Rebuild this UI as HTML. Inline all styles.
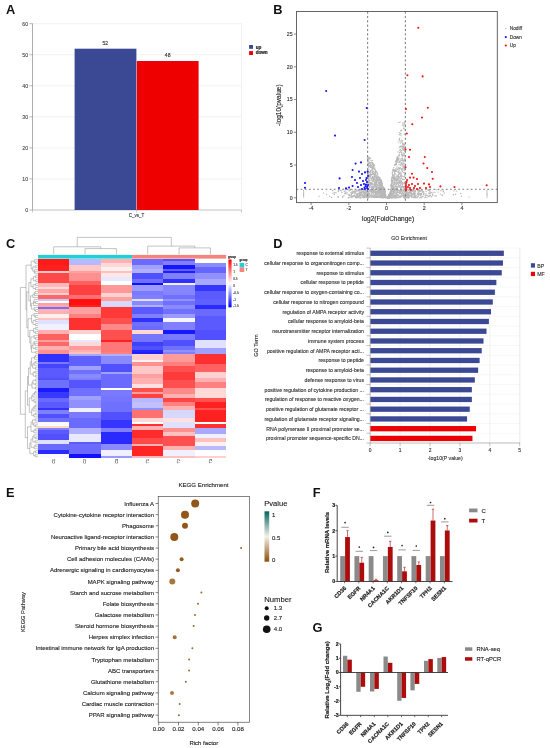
<!DOCTYPE html>
<html><head><meta charset="utf-8"><style>
html,body{margin:0;padding:0;background:#fff;width:550px;height:748px;overflow:hidden}
svg{display:block;font-family:"Liberation Sans", sans-serif;filter:blur(0.25px)}
</style></head><body>
<svg width="550" height="748" viewBox="0 0 550 748">
<rect x="0" y="0" width="550" height="748" fill="#fff"/>
<text x="6.00" y="13.80" font-size="12.8" text-anchor="start" font-weight="bold" fill="#111" stroke="#111" stroke-width="0" >A</text>
<line x1="29.30" y1="210.00" x2="32.50" y2="210.00" stroke="#999" stroke-width="0.7" />
<text x="28.10" y="211.90" font-size="5.2" text-anchor="end" font-weight="normal" fill="#4a4a4a" stroke="#4a4a4a" stroke-width="0.12" >0</text>
<line x1="32.50" y1="178.95" x2="241.50" y2="178.95" stroke="#e8e8e8" stroke-width="0.6" />
<line x1="29.30" y1="178.95" x2="32.50" y2="178.95" stroke="#999" stroke-width="0.7" />
<text x="28.10" y="180.85" font-size="5.2" text-anchor="end" font-weight="normal" fill="#4a4a4a" stroke="#4a4a4a" stroke-width="0.12" >10</text>
<line x1="32.50" y1="147.90" x2="241.50" y2="147.90" stroke="#e8e8e8" stroke-width="0.6" />
<line x1="29.30" y1="147.90" x2="32.50" y2="147.90" stroke="#999" stroke-width="0.7" />
<text x="28.10" y="149.80" font-size="5.2" text-anchor="end" font-weight="normal" fill="#4a4a4a" stroke="#4a4a4a" stroke-width="0.12" >20</text>
<line x1="32.50" y1="116.85" x2="241.50" y2="116.85" stroke="#e8e8e8" stroke-width="0.6" />
<line x1="29.30" y1="116.85" x2="32.50" y2="116.85" stroke="#999" stroke-width="0.7" />
<text x="28.10" y="118.75" font-size="5.2" text-anchor="end" font-weight="normal" fill="#4a4a4a" stroke="#4a4a4a" stroke-width="0.12" >30</text>
<line x1="32.50" y1="85.80" x2="241.50" y2="85.80" stroke="#e8e8e8" stroke-width="0.6" />
<line x1="29.30" y1="85.80" x2="32.50" y2="85.80" stroke="#999" stroke-width="0.7" />
<text x="28.10" y="87.70" font-size="5.2" text-anchor="end" font-weight="normal" fill="#4a4a4a" stroke="#4a4a4a" stroke-width="0.12" >40</text>
<line x1="32.50" y1="54.75" x2="241.50" y2="54.75" stroke="#e8e8e8" stroke-width="0.6" />
<line x1="29.30" y1="54.75" x2="32.50" y2="54.75" stroke="#999" stroke-width="0.7" />
<text x="28.10" y="56.65" font-size="5.2" text-anchor="end" font-weight="normal" fill="#4a4a4a" stroke="#4a4a4a" stroke-width="0.12" >50</text>
<line x1="32.50" y1="23.70" x2="241.50" y2="23.70" stroke="#e8e8e8" stroke-width="0.6" />
<line x1="29.30" y1="23.70" x2="32.50" y2="23.70" stroke="#999" stroke-width="0.7" />
<text x="28.10" y="25.60" font-size="5.2" text-anchor="end" font-weight="normal" fill="#4a4a4a" stroke="#4a4a4a" stroke-width="0.12" >60</text>
<line x1="241.50" y1="23.50" x2="241.50" y2="210.00" stroke="#e8e8e8" stroke-width="0.6" />
<line x1="32.50" y1="23.50" x2="32.50" y2="210.00" stroke="#999" stroke-width="0.8" />
<line x1="32.50" y1="210.00" x2="241.50" y2="210.00" stroke="#aaa" stroke-width="0.7" />
<line x1="32.50" y1="210.00" x2="32.50" y2="212.50" stroke="#aaa" stroke-width="0.6" />
<line x1="136.60" y1="210.00" x2="136.60" y2="212.50" stroke="#aaa" stroke-width="0.6" />
<line x1="241.50" y1="210.00" x2="241.50" y2="212.50" stroke="#aaa" stroke-width="0.6" />
<rect x="74.60" y="48.70" width="61.80" height="161.30" fill="#3b4994" />
<rect x="136.80" y="61.00" width="61.80" height="149.00" fill="#ee0000" />
<text x="105.30" y="45.00" font-size="5.1" text-anchor="middle" font-weight="normal" fill="#333" stroke="#333" stroke-width="0.12" >52</text>
<text x="167.70" y="57.00" font-size="5.1" text-anchor="middle" font-weight="normal" fill="#333" stroke="#333" stroke-width="0.12" >48</text>
<rect x="249.10" y="45.00" width="3.90" height="3.80" fill="#3b4994" />
<text x="255.70" y="48.80" font-size="4.6" text-anchor="start" font-weight="bold" fill="#222" stroke="#222" stroke-width="0.2" >up</text>
<rect x="249.10" y="51.10" width="3.90" height="3.90" fill="#ee0000" />
<text x="255.70" y="54.40" font-size="4.6" text-anchor="start" font-weight="bold" fill="#222" stroke="#222" stroke-width="0.2" >down</text>
<text x="136.50" y="217.40" font-size="4.5" text-anchor="middle" font-weight="normal" fill="#333" stroke="#333" stroke-width="0.12" >C_vs_T</text>
<text x="273.20" y="13.80" font-size="12.8" text-anchor="start" font-weight="bold" fill="#111" stroke="#111" stroke-width="0" >B</text>
<g fill="#b8b8b8">
<circle cx="377.7" cy="184.7" r="0.68"/>
<circle cx="369.0" cy="180.2" r="0.68"/>
<circle cx="376.6" cy="182.9" r="0.68"/>
<circle cx="382.6" cy="191.0" r="0.68"/>
<circle cx="374.4" cy="172.8" r="0.68"/>
<circle cx="384.2" cy="195.3" r="0.68"/>
<circle cx="384.3" cy="190.6" r="0.68"/>
<circle cx="373.3" cy="196.7" r="0.68"/>
<circle cx="368.0" cy="158.1" r="0.68"/>
<circle cx="374.0" cy="178.2" r="0.68"/>
<circle cx="383.1" cy="197.7" r="0.68"/>
<circle cx="376.3" cy="196.6" r="0.68"/>
<circle cx="382.5" cy="194.8" r="0.68"/>
<circle cx="385.4" cy="195.3" r="0.68"/>
<circle cx="377.9" cy="177.6" r="0.68"/>
<circle cx="376.4" cy="181.2" r="0.68"/>
<circle cx="376.8" cy="181.0" r="0.68"/>
<circle cx="377.6" cy="191.7" r="0.68"/>
<circle cx="367.7" cy="156.7" r="0.68"/>
<circle cx="370.6" cy="170.7" r="0.68"/>
<circle cx="380.2" cy="193.9" r="0.68"/>
<circle cx="380.6" cy="196.8" r="0.68"/>
<circle cx="371.9" cy="183.7" r="0.68"/>
<circle cx="370.5" cy="183.8" r="0.68"/>
<circle cx="368.4" cy="163.5" r="0.68"/>
<circle cx="385.9" cy="197.8" r="0.68"/>
<circle cx="369.3" cy="180.1" r="0.68"/>
<circle cx="368.0" cy="182.8" r="0.68"/>
<circle cx="384.6" cy="192.9" r="0.68"/>
<circle cx="371.7" cy="188.6" r="0.68"/>
<circle cx="384.3" cy="195.1" r="0.68"/>
<circle cx="368.3" cy="167.4" r="0.68"/>
<circle cx="383.8" cy="195.5" r="0.68"/>
<circle cx="384.1" cy="197.4" r="0.68"/>
<circle cx="371.4" cy="192.0" r="0.68"/>
<circle cx="375.7" cy="185.9" r="0.68"/>
<circle cx="382.4" cy="187.5" r="0.68"/>
<circle cx="383.5" cy="190.8" r="0.68"/>
<circle cx="383.8" cy="193.7" r="0.68"/>
<circle cx="382.0" cy="194.1" r="0.68"/>
<circle cx="368.2" cy="165.4" r="0.68"/>
<circle cx="380.4" cy="180.8" r="0.68"/>
<circle cx="382.1" cy="192.2" r="0.68"/>
<circle cx="370.3" cy="173.4" r="0.68"/>
<circle cx="384.1" cy="188.3" r="0.68"/>
<circle cx="382.0" cy="194.2" r="0.68"/>
<circle cx="371.8" cy="186.4" r="0.68"/>
<circle cx="380.5" cy="196.7" r="0.68"/>
<circle cx="384.3" cy="192.8" r="0.68"/>
<circle cx="381.5" cy="187.9" r="0.68"/>
<circle cx="379.1" cy="188.6" r="0.68"/>
<circle cx="368.4" cy="179.3" r="0.68"/>
<circle cx="375.4" cy="172.6" r="0.68"/>
<circle cx="382.6" cy="196.0" r="0.68"/>
<circle cx="369.3" cy="165.3" r="0.68"/>
<circle cx="381.4" cy="195.0" r="0.68"/>
<circle cx="372.4" cy="162.7" r="0.68"/>
<circle cx="382.3" cy="183.8" r="0.68"/>
<circle cx="369.8" cy="174.8" r="0.68"/>
<circle cx="378.2" cy="195.8" r="0.68"/>
<circle cx="385.2" cy="191.7" r="0.68"/>
<circle cx="381.6" cy="186.2" r="0.68"/>
<circle cx="381.2" cy="183.5" r="0.68"/>
<circle cx="375.0" cy="189.9" r="0.68"/>
<circle cx="382.7" cy="188.3" r="0.68"/>
<circle cx="384.7" cy="196.2" r="0.68"/>
<circle cx="375.7" cy="173.6" r="0.68"/>
<circle cx="374.7" cy="190.0" r="0.68"/>
<circle cx="369.2" cy="190.7" r="0.68"/>
<circle cx="385.6" cy="197.1" r="0.68"/>
<circle cx="377.8" cy="196.7" r="0.68"/>
<circle cx="382.7" cy="193.2" r="0.68"/>
<circle cx="375.5" cy="194.6" r="0.68"/>
<circle cx="379.3" cy="178.8" r="0.68"/>
<circle cx="368.0" cy="171.8" r="0.68"/>
<circle cx="373.3" cy="178.3" r="0.68"/>
<circle cx="383.4" cy="197.5" r="0.68"/>
<circle cx="385.6" cy="194.7" r="0.68"/>
<circle cx="373.1" cy="163.6" r="0.68"/>
<circle cx="385.5" cy="195.3" r="0.68"/>
<circle cx="377.1" cy="179.5" r="0.68"/>
<circle cx="380.1" cy="177.8" r="0.68"/>
<circle cx="384.6" cy="193.5" r="0.68"/>
<circle cx="372.5" cy="164.5" r="0.68"/>
<circle cx="372.5" cy="172.4" r="0.68"/>
<circle cx="371.4" cy="162.4" r="0.68"/>
<circle cx="379.5" cy="183.8" r="0.68"/>
<circle cx="369.5" cy="163.1" r="0.68"/>
<circle cx="378.3" cy="179.6" r="0.68"/>
<circle cx="370.1" cy="176.2" r="0.68"/>
<circle cx="374.5" cy="186.7" r="0.68"/>
<circle cx="375.3" cy="180.5" r="0.68"/>
<circle cx="384.5" cy="192.6" r="0.68"/>
<circle cx="367.8" cy="162.0" r="0.68"/>
<circle cx="372.6" cy="184.7" r="0.68"/>
<circle cx="372.5" cy="177.3" r="0.68"/>
<circle cx="377.9" cy="177.7" r="0.68"/>
<circle cx="384.4" cy="191.4" r="0.68"/>
<circle cx="385.4" cy="194.6" r="0.68"/>
<circle cx="377.1" cy="192.7" r="0.68"/>
<circle cx="373.2" cy="181.3" r="0.68"/>
<circle cx="374.7" cy="169.1" r="0.68"/>
<circle cx="381.3" cy="197.7" r="0.68"/>
<circle cx="380.4" cy="185.2" r="0.68"/>
<circle cx="382.2" cy="195.6" r="0.68"/>
<circle cx="369.4" cy="172.2" r="0.68"/>
<circle cx="377.9" cy="176.3" r="0.68"/>
<circle cx="380.0" cy="184.8" r="0.68"/>
<circle cx="382.3" cy="191.9" r="0.68"/>
<circle cx="371.2" cy="162.3" r="0.68"/>
<circle cx="369.8" cy="183.8" r="0.68"/>
<circle cx="375.3" cy="189.4" r="0.68"/>
<circle cx="383.4" cy="192.4" r="0.68"/>
<circle cx="370.6" cy="164.7" r="0.68"/>
<circle cx="372.9" cy="163.6" r="0.68"/>
<circle cx="380.9" cy="195.2" r="0.68"/>
<circle cx="377.7" cy="191.8" r="0.68"/>
<circle cx="382.0" cy="191.8" r="0.68"/>
<circle cx="374.5" cy="183.1" r="0.68"/>
<circle cx="380.2" cy="181.4" r="0.68"/>
<circle cx="368.0" cy="180.6" r="0.68"/>
<circle cx="384.6" cy="197.6" r="0.68"/>
<circle cx="370.0" cy="196.6" r="0.68"/>
<circle cx="373.0" cy="178.4" r="0.68"/>
<circle cx="380.3" cy="182.6" r="0.68"/>
<circle cx="385.6" cy="197.4" r="0.68"/>
<circle cx="377.6" cy="197.4" r="0.68"/>
<circle cx="370.8" cy="189.7" r="0.68"/>
<circle cx="383.4" cy="197.4" r="0.68"/>
<circle cx="374.4" cy="184.5" r="0.68"/>
<circle cx="374.4" cy="177.6" r="0.68"/>
<circle cx="371.2" cy="160.4" r="0.68"/>
<circle cx="373.4" cy="191.9" r="0.68"/>
<circle cx="377.2" cy="193.9" r="0.68"/>
<circle cx="385.7" cy="196.9" r="0.68"/>
<circle cx="372.9" cy="192.3" r="0.68"/>
<circle cx="381.0" cy="192.1" r="0.68"/>
<circle cx="373.2" cy="180.5" r="0.68"/>
<circle cx="374.7" cy="174.7" r="0.68"/>
<circle cx="378.7" cy="180.3" r="0.68"/>
<circle cx="369.4" cy="195.0" r="0.68"/>
<circle cx="368.9" cy="169.3" r="0.68"/>
<circle cx="383.6" cy="193.1" r="0.68"/>
<circle cx="374.5" cy="169.0" r="0.68"/>
<circle cx="379.0" cy="185.9" r="0.68"/>
<circle cx="369.9" cy="166.5" r="0.68"/>
<circle cx="368.7" cy="180.2" r="0.68"/>
<circle cx="374.0" cy="192.0" r="0.68"/>
<circle cx="372.7" cy="168.4" r="0.68"/>
<circle cx="374.2" cy="175.0" r="0.68"/>
<circle cx="382.0" cy="183.8" r="0.68"/>
<circle cx="368.0" cy="157.6" r="0.68"/>
<circle cx="376.1" cy="176.3" r="0.68"/>
<circle cx="380.1" cy="179.7" r="0.68"/>
<circle cx="370.3" cy="185.3" r="0.68"/>
<circle cx="384.4" cy="194.3" r="0.68"/>
<circle cx="375.9" cy="176.6" r="0.68"/>
<circle cx="377.0" cy="197.3" r="0.68"/>
<circle cx="371.1" cy="195.9" r="0.68"/>
<circle cx="371.3" cy="192.1" r="0.68"/>
<circle cx="379.8" cy="182.0" r="0.68"/>
<circle cx="383.4" cy="196.3" r="0.68"/>
<circle cx="376.5" cy="178.8" r="0.68"/>
<circle cx="370.6" cy="171.5" r="0.68"/>
<circle cx="368.6" cy="179.0" r="0.68"/>
<circle cx="368.6" cy="195.0" r="0.68"/>
<circle cx="381.9" cy="189.8" r="0.68"/>
<circle cx="380.6" cy="184.4" r="0.68"/>
<circle cx="374.3" cy="181.8" r="0.68"/>
<circle cx="370.5" cy="176.8" r="0.68"/>
<circle cx="380.2" cy="191.0" r="0.68"/>
<circle cx="370.5" cy="162.4" r="0.68"/>
<circle cx="382.1" cy="184.8" r="0.68"/>
<circle cx="368.2" cy="177.5" r="0.68"/>
<circle cx="375.5" cy="192.8" r="0.68"/>
<circle cx="376.1" cy="184.7" r="0.68"/>
<circle cx="374.9" cy="197.2" r="0.68"/>
<circle cx="368.2" cy="177.9" r="0.68"/>
<circle cx="378.6" cy="179.8" r="0.68"/>
<circle cx="375.6" cy="184.6" r="0.68"/>
<circle cx="373.3" cy="196.0" r="0.68"/>
<circle cx="376.1" cy="187.2" r="0.68"/>
<circle cx="368.4" cy="160.1" r="0.68"/>
<circle cx="381.0" cy="189.8" r="0.68"/>
<circle cx="383.6" cy="193.4" r="0.68"/>
<circle cx="371.0" cy="162.8" r="0.68"/>
<circle cx="377.2" cy="190.5" r="0.68"/>
<circle cx="382.4" cy="189.2" r="0.68"/>
<circle cx="369.0" cy="193.5" r="0.68"/>
<circle cx="371.7" cy="197.2" r="0.68"/>
<circle cx="382.4" cy="194.9" r="0.68"/>
<circle cx="373.4" cy="187.7" r="0.68"/>
<circle cx="379.4" cy="185.2" r="0.68"/>
<circle cx="384.0" cy="190.8" r="0.68"/>
<circle cx="383.7" cy="192.6" r="0.68"/>
<circle cx="381.4" cy="194.9" r="0.68"/>
<circle cx="376.2" cy="186.7" r="0.68"/>
<circle cx="379.1" cy="189.5" r="0.68"/>
<circle cx="376.3" cy="194.1" r="0.68"/>
<circle cx="382.2" cy="188.6" r="0.68"/>
<circle cx="374.3" cy="181.6" r="0.68"/>
<circle cx="370.4" cy="174.6" r="0.68"/>
<circle cx="370.3" cy="189.8" r="0.68"/>
<circle cx="372.4" cy="168.0" r="0.68"/>
<circle cx="369.4" cy="186.4" r="0.68"/>
<circle cx="380.2" cy="179.6" r="0.68"/>
<circle cx="381.9" cy="181.8" r="0.68"/>
<circle cx="369.7" cy="193.4" r="0.68"/>
<circle cx="381.6" cy="185.8" r="0.68"/>
<circle cx="381.2" cy="196.4" r="0.68"/>
<circle cx="370.7" cy="182.5" r="0.68"/>
<circle cx="371.5" cy="193.8" r="0.68"/>
<circle cx="378.6" cy="182.6" r="0.68"/>
<circle cx="385.6" cy="197.2" r="0.68"/>
<circle cx="373.5" cy="166.4" r="0.68"/>
<circle cx="368.2" cy="194.0" r="0.68"/>
<circle cx="376.7" cy="178.1" r="0.68"/>
<circle cx="376.7" cy="180.2" r="0.68"/>
<circle cx="382.5" cy="197.0" r="0.68"/>
<circle cx="384.0" cy="197.5" r="0.68"/>
<circle cx="375.8" cy="184.1" r="0.68"/>
<circle cx="375.5" cy="194.3" r="0.68"/>
<circle cx="382.6" cy="195.3" r="0.68"/>
<circle cx="370.6" cy="158.6" r="0.68"/>
<circle cx="369.0" cy="194.7" r="0.68"/>
<circle cx="384.8" cy="190.6" r="0.68"/>
<circle cx="377.5" cy="179.1" r="0.68"/>
<circle cx="380.0" cy="189.0" r="0.68"/>
<circle cx="376.5" cy="187.1" r="0.68"/>
<circle cx="374.9" cy="197.5" r="0.68"/>
<circle cx="373.1" cy="168.2" r="0.68"/>
<circle cx="382.6" cy="191.9" r="0.68"/>
<circle cx="372.4" cy="183.9" r="0.68"/>
<circle cx="382.4" cy="195.8" r="0.68"/>
<circle cx="376.6" cy="197.5" r="0.68"/>
<circle cx="369.6" cy="166.2" r="0.68"/>
<circle cx="373.0" cy="167.4" r="0.68"/>
<circle cx="374.4" cy="185.9" r="0.68"/>
<circle cx="375.0" cy="183.3" r="0.68"/>
<circle cx="368.0" cy="165.3" r="0.68"/>
<circle cx="381.2" cy="181.7" r="0.68"/>
<circle cx="372.3" cy="169.2" r="0.68"/>
<circle cx="371.0" cy="183.2" r="0.68"/>
<circle cx="369.5" cy="162.8" r="0.68"/>
<circle cx="373.2" cy="171.4" r="0.68"/>
<circle cx="371.9" cy="183.5" r="0.68"/>
<circle cx="372.7" cy="195.8" r="0.68"/>
<circle cx="379.7" cy="188.8" r="0.68"/>
<circle cx="385.7" cy="197.2" r="0.68"/>
<circle cx="374.3" cy="178.4" r="0.68"/>
<circle cx="381.7" cy="182.1" r="0.68"/>
<circle cx="373.8" cy="187.5" r="0.68"/>
<circle cx="373.9" cy="179.7" r="0.68"/>
<circle cx="376.2" cy="188.0" r="0.68"/>
<circle cx="367.7" cy="172.4" r="0.68"/>
<circle cx="373.1" cy="171.4" r="0.68"/>
<circle cx="368.0" cy="197.2" r="0.68"/>
<circle cx="374.7" cy="175.2" r="0.68"/>
<circle cx="381.2" cy="191.3" r="0.68"/>
<circle cx="385.0" cy="196.6" r="0.68"/>
<circle cx="379.1" cy="196.1" r="0.68"/>
<circle cx="381.3" cy="182.1" r="0.68"/>
<circle cx="375.9" cy="184.4" r="0.68"/>
<circle cx="368.3" cy="175.7" r="0.68"/>
<circle cx="367.7" cy="172.6" r="0.68"/>
<circle cx="371.1" cy="195.5" r="0.68"/>
<circle cx="375.0" cy="175.2" r="0.68"/>
<circle cx="385.1" cy="191.6" r="0.68"/>
<circle cx="383.0" cy="192.2" r="0.68"/>
<circle cx="382.8" cy="191.6" r="0.68"/>
<circle cx="374.8" cy="196.4" r="0.68"/>
<circle cx="368.7" cy="182.0" r="0.68"/>
<circle cx="376.3" cy="182.2" r="0.68"/>
<circle cx="379.3" cy="192.3" r="0.68"/>
<circle cx="374.0" cy="180.1" r="0.68"/>
<circle cx="380.8" cy="184.8" r="0.68"/>
<circle cx="380.5" cy="197.6" r="0.68"/>
<circle cx="381.5" cy="197.3" r="0.68"/>
<circle cx="383.1" cy="188.5" r="0.68"/>
<circle cx="378.8" cy="177.8" r="0.68"/>
<circle cx="372.3" cy="196.4" r="0.68"/>
<circle cx="367.9" cy="159.0" r="0.68"/>
<circle cx="384.6" cy="190.5" r="0.68"/>
<circle cx="378.1" cy="187.2" r="0.68"/>
<circle cx="368.1" cy="189.1" r="0.68"/>
<circle cx="376.4" cy="172.3" r="0.68"/>
<circle cx="372.7" cy="181.9" r="0.68"/>
<circle cx="368.0" cy="164.8" r="0.68"/>
<circle cx="374.9" cy="194.9" r="0.68"/>
<circle cx="374.5" cy="184.3" r="0.68"/>
<circle cx="382.2" cy="197.2" r="0.68"/>
<circle cx="376.3" cy="195.0" r="0.68"/>
<circle cx="377.8" cy="182.1" r="0.68"/>
<circle cx="377.6" cy="192.1" r="0.68"/>
<circle cx="375.3" cy="186.3" r="0.68"/>
<circle cx="371.7" cy="178.5" r="0.68"/>
<circle cx="367.7" cy="158.7" r="0.68"/>
<circle cx="372.5" cy="190.1" r="0.68"/>
<circle cx="383.9" cy="188.6" r="0.68"/>
<circle cx="371.6" cy="174.6" r="0.68"/>
<circle cx="379.4" cy="192.7" r="0.68"/>
<circle cx="373.4" cy="179.2" r="0.68"/>
<circle cx="375.1" cy="179.4" r="0.68"/>
<circle cx="372.2" cy="191.7" r="0.68"/>
<circle cx="381.4" cy="180.7" r="0.68"/>
<circle cx="369.2" cy="162.6" r="0.68"/>
<circle cx="385.2" cy="197.5" r="0.68"/>
<circle cx="381.0" cy="190.7" r="0.68"/>
<circle cx="374.5" cy="195.2" r="0.68"/>
<circle cx="376.0" cy="196.2" r="0.68"/>
<circle cx="384.4" cy="192.0" r="0.68"/>
<circle cx="375.9" cy="180.7" r="0.68"/>
<circle cx="379.1" cy="188.1" r="0.68"/>
<circle cx="382.1" cy="193.0" r="0.68"/>
<circle cx="372.3" cy="166.7" r="0.68"/>
<circle cx="384.6" cy="197.0" r="0.68"/>
<circle cx="371.1" cy="174.5" r="0.68"/>
<circle cx="371.9" cy="190.7" r="0.68"/>
<circle cx="378.2" cy="192.4" r="0.68"/>
<circle cx="371.1" cy="184.7" r="0.68"/>
<circle cx="374.0" cy="164.8" r="0.68"/>
<circle cx="380.0" cy="187.4" r="0.68"/>
<circle cx="372.3" cy="163.2" r="0.68"/>
<circle cx="378.1" cy="189.8" r="0.68"/>
<circle cx="384.2" cy="189.6" r="0.68"/>
<circle cx="384.5" cy="197.3" r="0.68"/>
<circle cx="375.6" cy="184.7" r="0.68"/>
<circle cx="373.4" cy="188.6" r="0.68"/>
<circle cx="371.8" cy="195.5" r="0.68"/>
<circle cx="382.0" cy="187.8" r="0.68"/>
<circle cx="384.4" cy="195.5" r="0.68"/>
<circle cx="372.7" cy="173.2" r="0.68"/>
<circle cx="380.8" cy="195.6" r="0.68"/>
<circle cx="379.4" cy="182.8" r="0.68"/>
<circle cx="379.2" cy="195.7" r="0.68"/>
<circle cx="373.0" cy="178.4" r="0.68"/>
<circle cx="369.1" cy="159.9" r="0.68"/>
<circle cx="369.2" cy="181.4" r="0.68"/>
<circle cx="371.3" cy="187.2" r="0.68"/>
<circle cx="380.1" cy="190.5" r="0.68"/>
<circle cx="368.8" cy="161.7" r="0.68"/>
<circle cx="381.4" cy="192.1" r="0.68"/>
<circle cx="379.3" cy="190.7" r="0.68"/>
<circle cx="378.7" cy="189.8" r="0.68"/>
<circle cx="382.4" cy="189.9" r="0.68"/>
<circle cx="371.4" cy="177.9" r="0.68"/>
<circle cx="370.6" cy="176.8" r="0.68"/>
<circle cx="382.7" cy="187.6" r="0.68"/>
<circle cx="369.8" cy="187.8" r="0.68"/>
<circle cx="385.5" cy="195.8" r="0.68"/>
<circle cx="376.0" cy="182.7" r="0.68"/>
<circle cx="368.3" cy="172.1" r="0.68"/>
<circle cx="371.2" cy="195.9" r="0.68"/>
<circle cx="375.9" cy="176.1" r="0.68"/>
<circle cx="384.4" cy="197.2" r="0.68"/>
<circle cx="372.5" cy="164.5" r="0.68"/>
<circle cx="384.4" cy="192.5" r="0.68"/>
<circle cx="383.3" cy="189.1" r="0.68"/>
<circle cx="374.1" cy="190.7" r="0.68"/>
<circle cx="381.9" cy="185.8" r="0.68"/>
<circle cx="376.4" cy="177.5" r="0.68"/>
<circle cx="378.7" cy="190.9" r="0.68"/>
<circle cx="368.2" cy="171.1" r="0.68"/>
<circle cx="376.9" cy="184.5" r="0.68"/>
<circle cx="372.8" cy="172.8" r="0.68"/>
<circle cx="369.2" cy="182.6" r="0.68"/>
<circle cx="370.8" cy="172.5" r="0.68"/>
<circle cx="370.3" cy="166.4" r="0.68"/>
<circle cx="370.7" cy="163.1" r="0.68"/>
<circle cx="368.4" cy="172.6" r="0.68"/>
<circle cx="376.4" cy="179.0" r="0.68"/>
<circle cx="371.3" cy="182.7" r="0.68"/>
<circle cx="378.2" cy="194.9" r="0.68"/>
<circle cx="372.4" cy="160.6" r="0.68"/>
<circle cx="379.1" cy="194.7" r="0.68"/>
<circle cx="382.2" cy="191.8" r="0.68"/>
<circle cx="380.6" cy="179.4" r="0.68"/>
<circle cx="384.9" cy="195.8" r="0.68"/>
<circle cx="383.8" cy="191.3" r="0.68"/>
<circle cx="371.7" cy="191.9" r="0.68"/>
<circle cx="384.8" cy="194.6" r="0.68"/>
<circle cx="375.3" cy="170.8" r="0.68"/>
<circle cx="385.3" cy="197.3" r="0.68"/>
<circle cx="382.6" cy="195.2" r="0.68"/>
<circle cx="381.6" cy="186.0" r="0.68"/>
<circle cx="375.1" cy="191.9" r="0.68"/>
<circle cx="382.6" cy="194.3" r="0.68"/>
<circle cx="382.8" cy="187.8" r="0.68"/>
<circle cx="380.2" cy="187.6" r="0.68"/>
<circle cx="371.0" cy="180.3" r="0.68"/>
<circle cx="381.2" cy="182.1" r="0.68"/>
<circle cx="369.2" cy="185.3" r="0.68"/>
<circle cx="375.9" cy="170.9" r="0.68"/>
<circle cx="377.1" cy="192.9" r="0.68"/>
<circle cx="385.0" cy="191.3" r="0.68"/>
<circle cx="371.3" cy="184.1" r="0.68"/>
<circle cx="376.3" cy="184.5" r="0.68"/>
<circle cx="380.9" cy="179.6" r="0.68"/>
<circle cx="373.9" cy="190.9" r="0.68"/>
<circle cx="385.7" cy="196.9" r="0.68"/>
<circle cx="379.1" cy="180.8" r="0.68"/>
<circle cx="372.9" cy="176.9" r="0.68"/>
<circle cx="383.1" cy="196.1" r="0.68"/>
<circle cx="380.1" cy="193.2" r="0.68"/>
<circle cx="370.0" cy="178.5" r="0.68"/>
<circle cx="374.3" cy="165.5" r="0.68"/>
<circle cx="381.1" cy="188.7" r="0.68"/>
<circle cx="383.2" cy="188.5" r="0.68"/>
<circle cx="385.9" cy="197.6" r="0.68"/>
<circle cx="370.5" cy="165.8" r="0.68"/>
<circle cx="384.4" cy="195.7" r="0.68"/>
<circle cx="372.8" cy="195.0" r="0.68"/>
<circle cx="377.2" cy="186.6" r="0.68"/>
<circle cx="368.5" cy="174.9" r="0.68"/>
<circle cx="370.3" cy="187.1" r="0.68"/>
<circle cx="371.5" cy="182.9" r="0.68"/>
<circle cx="369.2" cy="194.9" r="0.68"/>
<circle cx="370.8" cy="190.8" r="0.68"/>
<circle cx="376.0" cy="184.0" r="0.68"/>
<circle cx="383.1" cy="187.4" r="0.68"/>
<circle cx="380.2" cy="192.4" r="0.68"/>
<circle cx="384.5" cy="195.5" r="0.68"/>
<circle cx="377.4" cy="180.3" r="0.68"/>
<circle cx="379.4" cy="183.6" r="0.68"/>
<circle cx="384.0" cy="194.2" r="0.68"/>
<circle cx="377.5" cy="173.6" r="0.68"/>
<circle cx="370.8" cy="173.0" r="0.68"/>
<circle cx="385.7" cy="197.0" r="0.68"/>
<circle cx="373.0" cy="190.4" r="0.68"/>
<circle cx="375.6" cy="185.5" r="0.68"/>
<circle cx="385.7" cy="195.8" r="0.68"/>
<circle cx="371.3" cy="190.9" r="0.68"/>
<circle cx="374.7" cy="189.7" r="0.68"/>
<circle cx="379.1" cy="186.6" r="0.68"/>
<circle cx="380.5" cy="192.0" r="0.68"/>
<circle cx="378.8" cy="183.3" r="0.68"/>
<circle cx="381.2" cy="194.8" r="0.68"/>
<circle cx="372.6" cy="186.9" r="0.68"/>
<circle cx="368.7" cy="176.0" r="0.68"/>
<circle cx="372.7" cy="186.9" r="0.68"/>
<circle cx="370.8" cy="194.9" r="0.68"/>
<circle cx="383.4" cy="196.9" r="0.68"/>
<circle cx="373.5" cy="174.2" r="0.68"/>
<circle cx="382.6" cy="192.7" r="0.68"/>
<circle cx="370.6" cy="175.5" r="0.68"/>
<circle cx="384.3" cy="196.0" r="0.68"/>
<circle cx="383.1" cy="196.5" r="0.68"/>
<circle cx="378.5" cy="196.5" r="0.68"/>
<circle cx="369.1" cy="181.9" r="0.68"/>
<circle cx="376.6" cy="181.1" r="0.68"/>
<circle cx="371.9" cy="166.6" r="0.68"/>
<circle cx="378.9" cy="191.2" r="0.68"/>
<circle cx="378.4" cy="197.6" r="0.68"/>
<circle cx="378.6" cy="182.3" r="0.68"/>
<circle cx="368.0" cy="166.0" r="0.68"/>
<circle cx="373.9" cy="178.3" r="0.68"/>
<circle cx="385.6" cy="196.8" r="0.68"/>
<circle cx="379.7" cy="184.8" r="0.68"/>
<circle cx="384.0" cy="194.4" r="0.68"/>
<circle cx="376.6" cy="177.1" r="0.68"/>
<circle cx="370.8" cy="174.8" r="0.68"/>
<circle cx="383.0" cy="188.3" r="0.68"/>
<circle cx="369.4" cy="176.9" r="0.68"/>
<circle cx="379.5" cy="187.9" r="0.68"/>
<circle cx="383.3" cy="189.6" r="0.68"/>
<circle cx="367.9" cy="177.9" r="0.68"/>
<circle cx="372.9" cy="168.0" r="0.68"/>
<circle cx="382.3" cy="183.8" r="0.68"/>
<circle cx="374.5" cy="192.4" r="0.68"/>
<circle cx="384.4" cy="195.9" r="0.68"/>
<circle cx="375.4" cy="177.9" r="0.68"/>
<circle cx="379.9" cy="179.0" r="0.68"/>
<circle cx="379.3" cy="188.6" r="0.68"/>
<circle cx="383.7" cy="187.2" r="0.68"/>
<circle cx="383.5" cy="187.5" r="0.68"/>
<circle cx="376.0" cy="183.0" r="0.68"/>
<circle cx="375.7" cy="191.1" r="0.68"/>
<circle cx="369.3" cy="157.6" r="0.68"/>
<circle cx="371.0" cy="175.3" r="0.68"/>
<circle cx="383.7" cy="189.0" r="0.68"/>
<circle cx="380.7" cy="181.0" r="0.68"/>
<circle cx="381.5" cy="188.5" r="0.68"/>
<circle cx="370.7" cy="191.6" r="0.68"/>
<circle cx="375.9" cy="196.1" r="0.68"/>
<circle cx="385.3" cy="196.9" r="0.68"/>
<circle cx="367.9" cy="159.3" r="0.68"/>
<circle cx="373.9" cy="188.6" r="0.68"/>
<circle cx="373.7" cy="173.3" r="0.68"/>
<circle cx="379.0" cy="185.3" r="0.68"/>
<circle cx="371.2" cy="197.4" r="0.68"/>
<circle cx="382.3" cy="191.3" r="0.68"/>
<circle cx="383.3" cy="193.6" r="0.68"/>
<circle cx="375.5" cy="193.5" r="0.68"/>
<circle cx="376.4" cy="191.5" r="0.68"/>
<circle cx="375.5" cy="189.1" r="0.68"/>
<circle cx="374.2" cy="196.9" r="0.68"/>
<circle cx="373.7" cy="193.7" r="0.68"/>
<circle cx="368.4" cy="174.3" r="0.68"/>
<circle cx="377.3" cy="188.2" r="0.68"/>
<circle cx="374.5" cy="176.6" r="0.68"/>
<circle cx="372.1" cy="169.7" r="0.68"/>
<circle cx="377.1" cy="172.0" r="0.68"/>
<circle cx="370.6" cy="164.5" r="0.68"/>
<circle cx="378.5" cy="188.5" r="0.68"/>
<circle cx="375.6" cy="171.7" r="0.68"/>
<circle cx="376.3" cy="184.3" r="0.68"/>
<circle cx="378.0" cy="176.3" r="0.68"/>
<circle cx="380.1" cy="197.0" r="0.68"/>
<circle cx="372.7" cy="165.0" r="0.68"/>
<circle cx="372.6" cy="176.7" r="0.68"/>
<circle cx="372.2" cy="187.5" r="0.68"/>
<circle cx="375.1" cy="196.2" r="0.68"/>
<circle cx="383.7" cy="193.3" r="0.68"/>
<circle cx="376.7" cy="188.2" r="0.68"/>
<circle cx="385.0" cy="193.1" r="0.68"/>
<circle cx="376.3" cy="192.1" r="0.68"/>
<circle cx="380.3" cy="190.8" r="0.68"/>
<circle cx="381.6" cy="196.9" r="0.68"/>
<circle cx="369.3" cy="158.8" r="0.68"/>
<circle cx="373.8" cy="168.8" r="0.68"/>
<circle cx="378.2" cy="179.2" r="0.68"/>
<circle cx="381.9" cy="186.1" r="0.68"/>
<circle cx="375.6" cy="171.7" r="0.68"/>
<circle cx="384.1" cy="190.4" r="0.68"/>
<circle cx="383.7" cy="192.3" r="0.68"/>
<circle cx="368.5" cy="197.8" r="0.68"/>
<circle cx="381.5" cy="193.2" r="0.68"/>
<circle cx="380.0" cy="196.8" r="0.68"/>
<circle cx="369.6" cy="165.6" r="0.68"/>
<circle cx="378.7" cy="190.5" r="0.68"/>
<circle cx="375.2" cy="196.8" r="0.68"/>
<circle cx="385.4" cy="192.5" r="0.68"/>
<circle cx="380.3" cy="188.7" r="0.68"/>
<circle cx="368.9" cy="158.0" r="0.68"/>
<circle cx="377.3" cy="193.3" r="0.68"/>
<circle cx="380.5" cy="180.3" r="0.68"/>
<circle cx="369.5" cy="191.1" r="0.68"/>
<circle cx="370.6" cy="185.2" r="0.68"/>
<circle cx="377.3" cy="194.1" r="0.68"/>
<circle cx="369.8" cy="157.9" r="0.68"/>
<circle cx="382.2" cy="188.7" r="0.68"/>
<circle cx="382.4" cy="185.1" r="0.68"/>
<circle cx="385.0" cy="197.2" r="0.68"/>
<circle cx="372.7" cy="187.5" r="0.68"/>
<circle cx="369.5" cy="163.2" r="0.68"/>
<circle cx="372.9" cy="193.8" r="0.68"/>
<circle cx="373.2" cy="164.8" r="0.68"/>
<circle cx="377.8" cy="196.3" r="0.68"/>
<circle cx="381.9" cy="193.4" r="0.68"/>
<circle cx="372.9" cy="191.8" r="0.68"/>
<circle cx="382.6" cy="194.9" r="0.68"/>
<circle cx="373.8" cy="171.6" r="0.68"/>
<circle cx="379.1" cy="183.9" r="0.68"/>
<circle cx="369.8" cy="175.3" r="0.68"/>
<circle cx="381.7" cy="193.4" r="0.68"/>
<circle cx="369.0" cy="171.7" r="0.68"/>
<circle cx="380.9" cy="186.5" r="0.68"/>
<circle cx="384.3" cy="188.9" r="0.68"/>
<circle cx="377.9" cy="185.7" r="0.68"/>
<circle cx="376.2" cy="196.9" r="0.68"/>
<circle cx="375.0" cy="190.1" r="0.68"/>
<circle cx="381.3" cy="184.0" r="0.68"/>
<circle cx="384.3" cy="195.6" r="0.68"/>
<circle cx="372.1" cy="189.6" r="0.68"/>
<circle cx="380.8" cy="188.2" r="0.68"/>
<circle cx="382.5" cy="185.1" r="0.68"/>
<circle cx="367.9" cy="196.8" r="0.68"/>
<circle cx="377.5" cy="179.5" r="0.68"/>
<circle cx="378.9" cy="177.2" r="0.68"/>
<circle cx="376.8" cy="193.8" r="0.68"/>
<circle cx="375.8" cy="180.1" r="0.68"/>
<circle cx="379.4" cy="184.3" r="0.68"/>
<circle cx="371.6" cy="179.0" r="0.68"/>
<circle cx="376.7" cy="175.6" r="0.68"/>
<circle cx="373.4" cy="180.8" r="0.68"/>
<circle cx="368.5" cy="191.8" r="0.68"/>
<circle cx="371.7" cy="192.4" r="0.68"/>
<circle cx="374.8" cy="191.5" r="0.68"/>
<circle cx="377.9" cy="179.5" r="0.68"/>
<circle cx="371.6" cy="167.7" r="0.68"/>
<circle cx="381.6" cy="190.1" r="0.68"/>
<circle cx="381.9" cy="188.9" r="0.68"/>
<circle cx="376.8" cy="197.1" r="0.68"/>
<circle cx="375.0" cy="176.6" r="0.68"/>
<circle cx="375.5" cy="172.5" r="0.68"/>
<circle cx="382.6" cy="196.0" r="0.68"/>
<circle cx="385.6" cy="196.2" r="0.68"/>
<circle cx="378.0" cy="188.0" r="0.68"/>
<circle cx="381.1" cy="183.8" r="0.68"/>
<circle cx="384.6" cy="190.5" r="0.68"/>
<circle cx="375.5" cy="182.8" r="0.68"/>
<circle cx="371.5" cy="189.8" r="0.68"/>
<circle cx="383.3" cy="194.4" r="0.68"/>
<circle cx="385.2" cy="196.0" r="0.68"/>
<circle cx="374.6" cy="182.1" r="0.68"/>
<circle cx="381.1" cy="187.7" r="0.68"/>
<circle cx="384.3" cy="190.6" r="0.68"/>
<circle cx="382.8" cy="194.8" r="0.68"/>
<circle cx="383.0" cy="189.2" r="0.68"/>
<circle cx="370.7" cy="167.5" r="0.68"/>
<circle cx="384.8" cy="195.0" r="0.68"/>
<circle cx="379.3" cy="193.8" r="0.68"/>
<circle cx="368.2" cy="196.5" r="0.68"/>
<circle cx="377.0" cy="178.5" r="0.68"/>
<circle cx="367.9" cy="192.9" r="0.68"/>
<circle cx="377.6" cy="179.8" r="0.68"/>
<circle cx="385.2" cy="196.5" r="0.68"/>
<circle cx="369.7" cy="193.1" r="0.68"/>
<circle cx="378.8" cy="191.8" r="0.68"/>
<circle cx="378.2" cy="196.4" r="0.68"/>
<circle cx="385.3" cy="191.8" r="0.68"/>
<circle cx="372.0" cy="170.3" r="0.68"/>
<circle cx="381.7" cy="194.1" r="0.68"/>
<circle cx="375.8" cy="191.8" r="0.68"/>
<circle cx="377.5" cy="174.5" r="0.68"/>
<circle cx="379.3" cy="191.3" r="0.68"/>
<circle cx="368.0" cy="173.8" r="0.68"/>
<circle cx="385.2" cy="195.5" r="0.68"/>
<circle cx="374.1" cy="196.3" r="0.68"/>
<circle cx="379.7" cy="183.8" r="0.68"/>
<circle cx="370.1" cy="175.4" r="0.68"/>
<circle cx="369.7" cy="180.6" r="0.68"/>
<circle cx="378.7" cy="179.0" r="0.68"/>
<circle cx="379.0" cy="180.9" r="0.68"/>
<circle cx="382.0" cy="192.8" r="0.68"/>
<circle cx="382.6" cy="190.5" r="0.68"/>
<circle cx="382.9" cy="195.5" r="0.68"/>
<circle cx="382.0" cy="190.9" r="0.68"/>
<circle cx="380.3" cy="189.7" r="0.68"/>
<circle cx="367.8" cy="170.8" r="0.68"/>
<circle cx="370.2" cy="190.8" r="0.68"/>
<circle cx="378.9" cy="196.6" r="0.68"/>
<circle cx="373.3" cy="186.3" r="0.68"/>
<circle cx="380.9" cy="197.6" r="0.68"/>
<circle cx="382.6" cy="194.6" r="0.68"/>
<circle cx="378.7" cy="177.1" r="0.68"/>
<circle cx="372.9" cy="189.2" r="0.68"/>
<circle cx="379.3" cy="195.1" r="0.68"/>
<circle cx="368.8" cy="184.5" r="0.68"/>
<circle cx="371.9" cy="170.7" r="0.68"/>
<circle cx="369.3" cy="197.2" r="0.68"/>
<circle cx="380.0" cy="190.8" r="0.68"/>
<circle cx="384.4" cy="190.2" r="0.68"/>
<circle cx="380.0" cy="182.6" r="0.68"/>
<circle cx="376.4" cy="196.7" r="0.68"/>
<circle cx="378.7" cy="193.1" r="0.68"/>
<circle cx="385.2" cy="197.0" r="0.68"/>
<circle cx="375.0" cy="197.1" r="0.68"/>
<circle cx="380.2" cy="190.1" r="0.68"/>
<circle cx="376.0" cy="194.7" r="0.68"/>
<circle cx="373.0" cy="189.6" r="0.68"/>
<circle cx="372.7" cy="174.2" r="0.68"/>
<circle cx="383.2" cy="195.7" r="0.68"/>
<circle cx="380.8" cy="185.0" r="0.68"/>
<circle cx="378.5" cy="189.7" r="0.68"/>
<circle cx="370.1" cy="190.0" r="0.68"/>
<circle cx="380.6" cy="191.9" r="0.68"/>
<circle cx="382.0" cy="197.3" r="0.68"/>
<circle cx="385.5" cy="195.0" r="0.68"/>
<circle cx="375.6" cy="174.8" r="0.68"/>
<circle cx="368.1" cy="186.9" r="0.68"/>
<circle cx="373.7" cy="166.7" r="0.68"/>
<circle cx="382.0" cy="187.2" r="0.68"/>
<circle cx="373.7" cy="165.5" r="0.68"/>
<circle cx="370.1" cy="189.7" r="0.68"/>
<circle cx="374.4" cy="195.5" r="0.68"/>
<circle cx="378.1" cy="189.3" r="0.68"/>
<circle cx="384.8" cy="195.2" r="0.68"/>
<circle cx="379.9" cy="188.4" r="0.68"/>
<circle cx="380.8" cy="195.4" r="0.68"/>
<circle cx="378.6" cy="187.7" r="0.68"/>
<circle cx="382.9" cy="189.4" r="0.68"/>
<circle cx="381.5" cy="196.5" r="0.68"/>
<circle cx="379.7" cy="189.7" r="0.68"/>
<circle cx="383.2" cy="191.0" r="0.68"/>
<circle cx="373.1" cy="179.2" r="0.68"/>
<circle cx="373.1" cy="197.2" r="0.68"/>
<circle cx="378.8" cy="190.4" r="0.68"/>
<circle cx="384.8" cy="195.0" r="0.68"/>
<circle cx="384.9" cy="194.5" r="0.68"/>
<circle cx="375.2" cy="184.7" r="0.68"/>
<circle cx="380.0" cy="193.3" r="0.68"/>
<circle cx="385.5" cy="196.4" r="0.68"/>
<circle cx="369.6" cy="176.3" r="0.68"/>
<circle cx="381.1" cy="186.3" r="0.68"/>
<circle cx="382.5" cy="191.6" r="0.68"/>
<circle cx="374.7" cy="167.9" r="0.68"/>
<circle cx="379.3" cy="186.1" r="0.68"/>
<circle cx="368.7" cy="167.0" r="0.68"/>
<circle cx="374.5" cy="178.8" r="0.68"/>
<circle cx="378.4" cy="188.9" r="0.68"/>
<circle cx="380.9" cy="182.8" r="0.68"/>
<circle cx="369.8" cy="183.9" r="0.68"/>
<circle cx="369.3" cy="196.7" r="0.68"/>
<circle cx="383.5" cy="192.3" r="0.68"/>
<circle cx="380.3" cy="191.4" r="0.68"/>
<circle cx="368.1" cy="192.7" r="0.68"/>
<circle cx="382.4" cy="194.9" r="0.68"/>
<circle cx="373.5" cy="190.8" r="0.68"/>
<circle cx="385.9" cy="197.7" r="0.68"/>
<circle cx="378.7" cy="193.1" r="0.68"/>
<circle cx="376.9" cy="181.4" r="0.68"/>
<circle cx="375.9" cy="181.0" r="0.68"/>
<circle cx="375.7" cy="174.3" r="0.68"/>
<circle cx="368.2" cy="185.5" r="0.68"/>
<circle cx="379.6" cy="179.4" r="0.68"/>
<circle cx="380.2" cy="184.1" r="0.68"/>
<circle cx="373.2" cy="174.4" r="0.68"/>
<circle cx="368.3" cy="164.5" r="0.68"/>
<circle cx="383.0" cy="190.2" r="0.68"/>
<circle cx="377.0" cy="183.9" r="0.68"/>
<circle cx="379.2" cy="192.3" r="0.68"/>
<circle cx="372.2" cy="178.8" r="0.68"/>
<circle cx="381.6" cy="194.1" r="0.68"/>
<circle cx="380.0" cy="194.8" r="0.68"/>
<circle cx="376.5" cy="195.0" r="0.68"/>
<circle cx="384.8" cy="197.4" r="0.68"/>
<circle cx="384.1" cy="191.2" r="0.68"/>
<circle cx="383.9" cy="193.5" r="0.68"/>
<circle cx="371.8" cy="180.5" r="0.68"/>
<circle cx="383.0" cy="186.7" r="0.68"/>
<circle cx="370.0" cy="196.2" r="0.68"/>
<circle cx="381.3" cy="189.4" r="0.68"/>
<circle cx="371.4" cy="183.8" r="0.68"/>
<circle cx="372.8" cy="189.8" r="0.68"/>
<circle cx="372.8" cy="187.2" r="0.68"/>
<circle cx="379.8" cy="182.6" r="0.68"/>
<circle cx="370.5" cy="165.6" r="0.68"/>
<circle cx="375.6" cy="186.5" r="0.68"/>
<circle cx="373.0" cy="176.4" r="0.68"/>
<circle cx="370.7" cy="166.8" r="0.68"/>
<circle cx="383.6" cy="194.0" r="0.68"/>
<circle cx="373.7" cy="191.0" r="0.68"/>
<circle cx="382.6" cy="197.7" r="0.68"/>
<circle cx="375.2" cy="169.7" r="0.68"/>
<circle cx="368.2" cy="193.3" r="0.68"/>
<circle cx="373.4" cy="184.3" r="0.68"/>
<circle cx="374.4" cy="186.1" r="0.68"/>
<circle cx="368.9" cy="157.5" r="0.68"/>
<circle cx="385.0" cy="193.1" r="0.68"/>
<circle cx="383.8" cy="197.5" r="0.68"/>
<circle cx="380.7" cy="184.5" r="0.68"/>
<circle cx="367.8" cy="193.8" r="0.68"/>
<circle cx="379.9" cy="197.4" r="0.68"/>
<circle cx="376.0" cy="185.2" r="0.68"/>
<circle cx="379.1" cy="191.8" r="0.68"/>
<circle cx="371.3" cy="165.6" r="0.68"/>
<circle cx="380.7" cy="191.1" r="0.68"/>
<circle cx="374.6" cy="174.2" r="0.68"/>
<circle cx="368.0" cy="183.2" r="0.68"/>
<circle cx="399.9" cy="176.5" r="0.68"/>
<circle cx="401.8" cy="194.2" r="0.68"/>
<circle cx="390.6" cy="197.4" r="0.68"/>
<circle cx="404.2" cy="189.9" r="0.68"/>
<circle cx="396.2" cy="195.8" r="0.68"/>
<circle cx="393.2" cy="197.7" r="0.68"/>
<circle cx="397.6" cy="195.0" r="0.68"/>
<circle cx="398.6" cy="190.4" r="0.68"/>
<circle cx="391.5" cy="190.9" r="0.68"/>
<circle cx="394.0" cy="193.0" r="0.68"/>
<circle cx="388.4" cy="197.8" r="0.68"/>
<circle cx="403.4" cy="187.3" r="0.68"/>
<circle cx="388.8" cy="197.5" r="0.68"/>
<circle cx="396.1" cy="160.4" r="0.68"/>
<circle cx="391.1" cy="185.7" r="0.68"/>
<circle cx="396.1" cy="186.8" r="0.68"/>
<circle cx="401.9" cy="183.2" r="0.68"/>
<circle cx="388.5" cy="196.9" r="0.68"/>
<circle cx="399.2" cy="173.3" r="0.68"/>
<circle cx="392.4" cy="172.8" r="0.68"/>
<circle cx="402.9" cy="144.2" r="0.68"/>
<circle cx="395.4" cy="170.4" r="0.68"/>
<circle cx="400.4" cy="193.3" r="0.68"/>
<circle cx="387.9" cy="197.7" r="0.68"/>
<circle cx="389.6" cy="197.7" r="0.68"/>
<circle cx="393.9" cy="176.8" r="0.68"/>
<circle cx="393.0" cy="186.4" r="0.68"/>
<circle cx="387.6" cy="197.8" r="0.68"/>
<circle cx="404.6" cy="197.7" r="0.68"/>
<circle cx="396.9" cy="168.0" r="0.68"/>
<circle cx="401.6" cy="163.3" r="0.68"/>
<circle cx="394.6" cy="173.5" r="0.68"/>
<circle cx="402.3" cy="160.8" r="0.68"/>
<circle cx="405.1" cy="195.6" r="0.68"/>
<circle cx="404.5" cy="182.4" r="0.68"/>
<circle cx="400.1" cy="190.5" r="0.68"/>
<circle cx="403.7" cy="197.5" r="0.68"/>
<circle cx="397.8" cy="192.4" r="0.68"/>
<circle cx="394.4" cy="189.7" r="0.68"/>
<circle cx="399.2" cy="162.4" r="0.68"/>
<circle cx="394.0" cy="181.0" r="0.68"/>
<circle cx="393.8" cy="192.6" r="0.68"/>
<circle cx="403.7" cy="186.7" r="0.68"/>
<circle cx="389.1" cy="197.1" r="0.68"/>
<circle cx="400.7" cy="191.8" r="0.68"/>
<circle cx="400.8" cy="175.3" r="0.68"/>
<circle cx="399.6" cy="193.5" r="0.68"/>
<circle cx="389.3" cy="197.6" r="0.68"/>
<circle cx="393.7" cy="188.3" r="0.68"/>
<circle cx="387.6" cy="197.7" r="0.68"/>
<circle cx="394.7" cy="191.0" r="0.68"/>
<circle cx="397.1" cy="159.9" r="0.68"/>
<circle cx="391.1" cy="185.1" r="0.68"/>
<circle cx="393.2" cy="178.0" r="0.68"/>
<circle cx="389.4" cy="194.0" r="0.68"/>
<circle cx="395.1" cy="165.0" r="0.68"/>
<circle cx="391.4" cy="192.7" r="0.68"/>
<circle cx="400.1" cy="193.3" r="0.68"/>
<circle cx="392.3" cy="182.1" r="0.68"/>
<circle cx="404.4" cy="186.5" r="0.68"/>
<circle cx="390.7" cy="195.1" r="0.68"/>
<circle cx="405.2" cy="194.0" r="0.68"/>
<circle cx="398.8" cy="186.0" r="0.68"/>
<circle cx="399.0" cy="192.5" r="0.68"/>
<circle cx="398.5" cy="159.7" r="0.68"/>
<circle cx="402.8" cy="169.7" r="0.68"/>
<circle cx="396.5" cy="180.3" r="0.68"/>
<circle cx="389.5" cy="194.6" r="0.68"/>
<circle cx="399.8" cy="181.5" r="0.68"/>
<circle cx="399.4" cy="183.6" r="0.68"/>
<circle cx="394.3" cy="193.7" r="0.68"/>
<circle cx="398.2" cy="177.6" r="0.68"/>
<circle cx="396.7" cy="197.5" r="0.68"/>
<circle cx="398.7" cy="183.0" r="0.68"/>
<circle cx="398.1" cy="176.7" r="0.68"/>
<circle cx="404.1" cy="193.9" r="0.68"/>
<circle cx="395.8" cy="161.4" r="0.68"/>
<circle cx="400.7" cy="187.5" r="0.68"/>
<circle cx="400.6" cy="146.2" r="0.68"/>
<circle cx="394.6" cy="170.6" r="0.68"/>
<circle cx="389.7" cy="193.4" r="0.68"/>
<circle cx="396.2" cy="192.8" r="0.68"/>
<circle cx="402.5" cy="168.5" r="0.68"/>
<circle cx="404.2" cy="155.6" r="0.68"/>
<circle cx="401.7" cy="177.0" r="0.68"/>
<circle cx="405.2" cy="196.6" r="0.68"/>
<circle cx="403.0" cy="164.2" r="0.68"/>
<circle cx="391.9" cy="180.6" r="0.68"/>
<circle cx="395.6" cy="182.8" r="0.68"/>
<circle cx="402.9" cy="192.3" r="0.68"/>
<circle cx="392.4" cy="183.0" r="0.68"/>
<circle cx="388.8" cy="196.7" r="0.68"/>
<circle cx="401.5" cy="178.2" r="0.68"/>
<circle cx="391.8" cy="182.0" r="0.68"/>
<circle cx="402.8" cy="160.4" r="0.68"/>
<circle cx="397.3" cy="161.9" r="0.68"/>
<circle cx="401.7" cy="194.0" r="0.68"/>
<circle cx="394.0" cy="196.5" r="0.68"/>
<circle cx="388.1" cy="197.5" r="0.68"/>
<circle cx="402.9" cy="155.9" r="0.68"/>
<circle cx="389.5" cy="197.4" r="0.68"/>
<circle cx="394.4" cy="171.9" r="0.68"/>
<circle cx="398.5" cy="158.8" r="0.68"/>
<circle cx="388.7" cy="195.3" r="0.68"/>
<circle cx="391.1" cy="189.7" r="0.68"/>
<circle cx="403.1" cy="163.1" r="0.68"/>
<circle cx="391.0" cy="189.9" r="0.68"/>
<circle cx="395.2" cy="197.7" r="0.68"/>
<circle cx="393.5" cy="191.8" r="0.68"/>
<circle cx="398.7" cy="190.2" r="0.68"/>
<circle cx="398.2" cy="171.2" r="0.68"/>
<circle cx="390.7" cy="197.2" r="0.68"/>
<circle cx="399.9" cy="180.7" r="0.68"/>
<circle cx="389.8" cy="197.6" r="0.68"/>
<circle cx="404.3" cy="170.3" r="0.68"/>
<circle cx="393.8" cy="194.6" r="0.68"/>
<circle cx="405.3" cy="164.6" r="0.68"/>
<circle cx="400.6" cy="185.3" r="0.68"/>
<circle cx="393.0" cy="189.6" r="0.68"/>
<circle cx="390.1" cy="195.1" r="0.68"/>
<circle cx="395.0" cy="171.8" r="0.68"/>
<circle cx="394.8" cy="186.6" r="0.68"/>
<circle cx="396.5" cy="162.1" r="0.68"/>
<circle cx="393.6" cy="179.1" r="0.68"/>
<circle cx="391.7" cy="188.3" r="0.68"/>
<circle cx="392.5" cy="174.9" r="0.68"/>
<circle cx="392.6" cy="175.5" r="0.68"/>
<circle cx="399.6" cy="181.6" r="0.68"/>
<circle cx="404.2" cy="183.2" r="0.68"/>
<circle cx="400.8" cy="172.1" r="0.68"/>
<circle cx="395.5" cy="197.0" r="0.68"/>
<circle cx="394.9" cy="192.0" r="0.68"/>
<circle cx="395.3" cy="164.8" r="0.68"/>
<circle cx="392.7" cy="180.9" r="0.68"/>
<circle cx="399.5" cy="191.1" r="0.68"/>
<circle cx="394.8" cy="195.8" r="0.68"/>
<circle cx="403.5" cy="189.9" r="0.68"/>
<circle cx="395.0" cy="190.2" r="0.68"/>
<circle cx="402.1" cy="155.2" r="0.68"/>
<circle cx="398.0" cy="179.1" r="0.68"/>
<circle cx="389.2" cy="194.8" r="0.68"/>
<circle cx="389.0" cy="197.0" r="0.68"/>
<circle cx="394.1" cy="177.5" r="0.68"/>
<circle cx="399.4" cy="187.0" r="0.68"/>
<circle cx="403.5" cy="147.2" r="0.68"/>
<circle cx="387.9" cy="197.4" r="0.68"/>
<circle cx="395.8" cy="188.9" r="0.68"/>
<circle cx="395.8" cy="190.5" r="0.68"/>
<circle cx="399.5" cy="173.9" r="0.68"/>
<circle cx="404.8" cy="144.3" r="0.68"/>
<circle cx="405.2" cy="182.7" r="0.68"/>
<circle cx="402.3" cy="168.5" r="0.68"/>
<circle cx="400.0" cy="147.8" r="0.68"/>
<circle cx="388.6" cy="197.0" r="0.68"/>
<circle cx="394.6" cy="179.4" r="0.68"/>
<circle cx="391.3" cy="180.5" r="0.68"/>
<circle cx="391.2" cy="193.8" r="0.68"/>
<circle cx="390.0" cy="196.4" r="0.68"/>
<circle cx="400.7" cy="196.2" r="0.68"/>
<circle cx="390.4" cy="193.1" r="0.68"/>
<circle cx="398.6" cy="167.9" r="0.68"/>
<circle cx="392.0" cy="180.1" r="0.68"/>
<circle cx="400.5" cy="161.3" r="0.68"/>
<circle cx="389.6" cy="196.3" r="0.68"/>
<circle cx="387.7" cy="197.3" r="0.68"/>
<circle cx="404.4" cy="150.7" r="0.68"/>
<circle cx="387.9" cy="197.6" r="0.68"/>
<circle cx="397.0" cy="181.0" r="0.68"/>
<circle cx="389.4" cy="195.0" r="0.68"/>
<circle cx="392.8" cy="186.8" r="0.68"/>
<circle cx="389.7" cy="195.8" r="0.68"/>
<circle cx="389.8" cy="197.6" r="0.68"/>
<circle cx="396.6" cy="190.7" r="0.68"/>
<circle cx="401.4" cy="190.3" r="0.68"/>
<circle cx="394.9" cy="197.2" r="0.68"/>
<circle cx="391.3" cy="192.1" r="0.68"/>
<circle cx="397.4" cy="183.8" r="0.68"/>
<circle cx="402.7" cy="195.5" r="0.68"/>
<circle cx="402.7" cy="193.8" r="0.68"/>
<circle cx="404.8" cy="175.4" r="0.68"/>
<circle cx="394.7" cy="181.0" r="0.68"/>
<circle cx="402.9" cy="146.5" r="0.68"/>
<circle cx="394.8" cy="197.7" r="0.68"/>
<circle cx="390.2" cy="193.0" r="0.68"/>
<circle cx="400.6" cy="165.3" r="0.68"/>
<circle cx="390.2" cy="195.0" r="0.68"/>
<circle cx="388.0" cy="197.8" r="0.68"/>
<circle cx="392.8" cy="170.7" r="0.68"/>
<circle cx="399.0" cy="160.9" r="0.68"/>
<circle cx="388.3" cy="197.3" r="0.68"/>
<circle cx="388.8" cy="197.4" r="0.68"/>
<circle cx="389.4" cy="194.3" r="0.68"/>
<circle cx="393.3" cy="186.9" r="0.68"/>
<circle cx="399.2" cy="157.9" r="0.68"/>
<circle cx="404.4" cy="172.9" r="0.68"/>
<circle cx="396.4" cy="164.4" r="0.68"/>
<circle cx="394.5" cy="191.7" r="0.68"/>
<circle cx="400.7" cy="189.9" r="0.68"/>
<circle cx="394.0" cy="188.1" r="0.68"/>
<circle cx="396.0" cy="189.0" r="0.68"/>
<circle cx="395.2" cy="186.5" r="0.68"/>
<circle cx="388.3" cy="196.4" r="0.68"/>
<circle cx="388.5" cy="196.9" r="0.68"/>
<circle cx="397.2" cy="186.4" r="0.68"/>
<circle cx="391.4" cy="197.1" r="0.68"/>
<circle cx="394.1" cy="191.5" r="0.68"/>
<circle cx="396.1" cy="193.0" r="0.68"/>
<circle cx="400.9" cy="178.6" r="0.68"/>
<circle cx="387.6" cy="197.7" r="0.68"/>
<circle cx="404.7" cy="197.7" r="0.68"/>
<circle cx="398.1" cy="156.5" r="0.68"/>
<circle cx="394.0" cy="182.5" r="0.68"/>
<circle cx="394.0" cy="191.9" r="0.68"/>
<circle cx="398.4" cy="176.5" r="0.68"/>
<circle cx="393.1" cy="186.8" r="0.68"/>
<circle cx="396.7" cy="171.3" r="0.68"/>
<circle cx="388.4" cy="197.7" r="0.68"/>
<circle cx="392.0" cy="194.1" r="0.68"/>
<circle cx="401.7" cy="181.7" r="0.68"/>
<circle cx="402.8" cy="182.7" r="0.68"/>
<circle cx="392.6" cy="181.6" r="0.68"/>
<circle cx="389.0" cy="194.8" r="0.68"/>
<circle cx="402.3" cy="186.5" r="0.68"/>
<circle cx="393.1" cy="175.7" r="0.68"/>
<circle cx="401.6" cy="169.3" r="0.68"/>
<circle cx="388.5" cy="196.4" r="0.68"/>
<circle cx="388.3" cy="196.9" r="0.68"/>
<circle cx="397.3" cy="160.6" r="0.68"/>
<circle cx="398.9" cy="197.6" r="0.68"/>
<circle cx="404.2" cy="160.9" r="0.68"/>
<circle cx="397.8" cy="197.8" r="0.68"/>
<circle cx="400.6" cy="182.3" r="0.68"/>
<circle cx="399.6" cy="150.1" r="0.68"/>
<circle cx="403.9" cy="196.3" r="0.68"/>
<circle cx="401.4" cy="181.0" r="0.68"/>
<circle cx="400.9" cy="184.3" r="0.68"/>
<circle cx="395.5" cy="186.6" r="0.68"/>
<circle cx="389.6" cy="196.9" r="0.68"/>
<circle cx="400.6" cy="196.5" r="0.68"/>
<circle cx="389.5" cy="194.6" r="0.68"/>
<circle cx="399.4" cy="177.1" r="0.68"/>
<circle cx="389.5" cy="197.6" r="0.68"/>
<circle cx="393.0" cy="170.8" r="0.68"/>
<circle cx="397.5" cy="160.4" r="0.68"/>
<circle cx="391.2" cy="193.0" r="0.68"/>
<circle cx="397.0" cy="166.1" r="0.68"/>
<circle cx="389.7" cy="194.2" r="0.68"/>
<circle cx="395.9" cy="197.5" r="0.68"/>
<circle cx="395.2" cy="188.9" r="0.68"/>
<circle cx="399.5" cy="154.1" r="0.68"/>
<circle cx="396.3" cy="175.1" r="0.68"/>
<circle cx="394.4" cy="174.9" r="0.68"/>
<circle cx="389.3" cy="195.3" r="0.68"/>
<circle cx="390.4" cy="193.7" r="0.68"/>
<circle cx="391.1" cy="194.5" r="0.68"/>
<circle cx="390.4" cy="195.9" r="0.68"/>
<circle cx="398.0" cy="180.3" r="0.68"/>
<circle cx="394.4" cy="182.8" r="0.68"/>
<circle cx="402.5" cy="185.0" r="0.68"/>
<circle cx="397.9" cy="182.3" r="0.68"/>
<circle cx="405.0" cy="186.2" r="0.68"/>
<circle cx="399.9" cy="191.3" r="0.68"/>
<circle cx="392.1" cy="181.7" r="0.68"/>
<circle cx="397.7" cy="191.4" r="0.68"/>
<circle cx="388.6" cy="196.1" r="0.68"/>
<circle cx="394.2" cy="177.7" r="0.68"/>
<circle cx="395.2" cy="180.1" r="0.68"/>
<circle cx="397.5" cy="157.4" r="0.68"/>
<circle cx="403.7" cy="179.6" r="0.68"/>
<circle cx="396.2" cy="192.9" r="0.68"/>
<circle cx="400.9" cy="195.6" r="0.68"/>
<circle cx="392.9" cy="175.0" r="0.68"/>
<circle cx="388.1" cy="197.0" r="0.68"/>
<circle cx="397.6" cy="179.4" r="0.68"/>
<circle cx="393.4" cy="195.7" r="0.68"/>
<circle cx="404.5" cy="160.0" r="0.68"/>
<circle cx="401.9" cy="195.7" r="0.68"/>
<circle cx="401.5" cy="191.5" r="0.68"/>
<circle cx="391.0" cy="191.9" r="0.68"/>
<circle cx="398.4" cy="195.5" r="0.68"/>
<circle cx="401.1" cy="173.1" r="0.68"/>
<circle cx="403.5" cy="149.1" r="0.68"/>
<circle cx="399.8" cy="185.8" r="0.68"/>
<circle cx="404.5" cy="163.1" r="0.68"/>
<circle cx="392.7" cy="175.2" r="0.68"/>
<circle cx="400.5" cy="189.7" r="0.68"/>
<circle cx="391.9" cy="197.7" r="0.68"/>
<circle cx="397.1" cy="191.9" r="0.68"/>
<circle cx="392.7" cy="193.7" r="0.68"/>
<circle cx="389.8" cy="196.1" r="0.68"/>
<circle cx="392.3" cy="193.1" r="0.68"/>
<circle cx="392.4" cy="187.2" r="0.68"/>
<circle cx="403.1" cy="193.6" r="0.68"/>
<circle cx="402.8" cy="154.5" r="0.68"/>
<circle cx="398.4" cy="178.8" r="0.68"/>
<circle cx="400.6" cy="176.1" r="0.68"/>
<circle cx="399.3" cy="155.5" r="0.68"/>
<circle cx="401.3" cy="189.8" r="0.68"/>
<circle cx="388.4" cy="196.0" r="0.68"/>
<circle cx="393.9" cy="175.4" r="0.68"/>
<circle cx="391.6" cy="191.1" r="0.68"/>
<circle cx="394.1" cy="177.4" r="0.68"/>
<circle cx="404.3" cy="176.6" r="0.68"/>
<circle cx="397.6" cy="188.1" r="0.68"/>
<circle cx="391.6" cy="179.2" r="0.68"/>
<circle cx="389.4" cy="194.2" r="0.68"/>
<circle cx="399.2" cy="196.6" r="0.68"/>
<circle cx="403.6" cy="195.6" r="0.68"/>
<circle cx="397.6" cy="195.6" r="0.68"/>
<circle cx="405.1" cy="187.1" r="0.68"/>
<circle cx="403.1" cy="196.7" r="0.68"/>
<circle cx="399.4" cy="196.7" r="0.68"/>
<circle cx="388.0" cy="197.3" r="0.68"/>
<circle cx="405.0" cy="165.1" r="0.68"/>
<circle cx="402.8" cy="159.4" r="0.68"/>
<circle cx="396.8" cy="196.7" r="0.68"/>
<circle cx="396.9" cy="194.0" r="0.68"/>
<circle cx="396.9" cy="188.4" r="0.68"/>
<circle cx="396.4" cy="193.8" r="0.68"/>
<circle cx="400.1" cy="183.0" r="0.68"/>
<circle cx="396.1" cy="196.7" r="0.68"/>
<circle cx="396.2" cy="181.1" r="0.68"/>
<circle cx="404.9" cy="173.1" r="0.68"/>
<circle cx="389.9" cy="196.9" r="0.68"/>
<circle cx="393.5" cy="179.5" r="0.68"/>
<circle cx="404.3" cy="144.7" r="0.68"/>
<circle cx="404.5" cy="148.4" r="0.68"/>
<circle cx="402.8" cy="148.7" r="0.68"/>
<circle cx="387.8" cy="197.5" r="0.68"/>
<circle cx="398.0" cy="172.1" r="0.68"/>
<circle cx="398.4" cy="175.2" r="0.68"/>
<circle cx="404.2" cy="196.0" r="0.68"/>
<circle cx="396.7" cy="160.5" r="0.68"/>
<circle cx="388.0" cy="197.7" r="0.68"/>
<circle cx="403.0" cy="147.0" r="0.68"/>
<circle cx="387.9" cy="197.8" r="0.68"/>
<circle cx="402.3" cy="166.0" r="0.68"/>
<circle cx="396.8" cy="179.3" r="0.68"/>
<circle cx="401.0" cy="158.7" r="0.68"/>
<circle cx="387.5" cy="197.8" r="0.68"/>
<circle cx="401.7" cy="146.5" r="0.68"/>
<circle cx="402.4" cy="182.5" r="0.68"/>
<circle cx="393.5" cy="191.0" r="0.68"/>
<circle cx="387.7" cy="197.4" r="0.68"/>
<circle cx="392.1" cy="185.9" r="0.68"/>
<circle cx="396.9" cy="189.1" r="0.68"/>
<circle cx="399.5" cy="181.7" r="0.68"/>
<circle cx="391.6" cy="180.7" r="0.68"/>
<circle cx="390.6" cy="197.1" r="0.68"/>
<circle cx="392.0" cy="189.4" r="0.68"/>
<circle cx="401.5" cy="186.4" r="0.68"/>
<circle cx="391.7" cy="186.2" r="0.68"/>
<circle cx="392.1" cy="187.8" r="0.68"/>
<circle cx="392.0" cy="177.9" r="0.68"/>
<circle cx="390.7" cy="196.3" r="0.68"/>
<circle cx="392.8" cy="191.8" r="0.68"/>
<circle cx="400.5" cy="168.0" r="0.68"/>
<circle cx="401.6" cy="175.4" r="0.68"/>
<circle cx="388.8" cy="195.9" r="0.68"/>
<circle cx="391.8" cy="195.2" r="0.68"/>
<circle cx="394.9" cy="164.5" r="0.68"/>
<circle cx="394.1" cy="190.3" r="0.68"/>
<circle cx="403.8" cy="144.0" r="0.68"/>
<circle cx="394.4" cy="195.8" r="0.68"/>
<circle cx="401.6" cy="160.2" r="0.68"/>
<circle cx="393.5" cy="176.1" r="0.68"/>
<circle cx="394.2" cy="192.2" r="0.68"/>
<circle cx="398.1" cy="169.0" r="0.68"/>
<circle cx="396.0" cy="169.8" r="0.68"/>
<circle cx="387.7" cy="197.6" r="0.68"/>
<circle cx="394.3" cy="197.1" r="0.68"/>
<circle cx="403.8" cy="194.2" r="0.68"/>
<circle cx="391.1" cy="185.0" r="0.68"/>
<circle cx="404.6" cy="147.8" r="0.68"/>
<circle cx="393.6" cy="170.3" r="0.68"/>
<circle cx="390.0" cy="194.7" r="0.68"/>
<circle cx="404.4" cy="192.3" r="0.68"/>
<circle cx="389.9" cy="195.0" r="0.68"/>
<circle cx="403.2" cy="163.1" r="0.68"/>
<circle cx="404.4" cy="179.6" r="0.68"/>
<circle cx="394.1" cy="196.2" r="0.68"/>
<circle cx="392.3" cy="173.0" r="0.68"/>
<circle cx="388.7" cy="197.6" r="0.68"/>
<circle cx="393.7" cy="197.3" r="0.68"/>
<circle cx="392.9" cy="195.1" r="0.68"/>
<circle cx="389.6" cy="196.0" r="0.68"/>
<circle cx="397.1" cy="179.4" r="0.68"/>
<circle cx="401.1" cy="176.3" r="0.68"/>
<circle cx="404.4" cy="196.2" r="0.68"/>
<circle cx="391.4" cy="197.3" r="0.68"/>
<circle cx="393.0" cy="178.1" r="0.68"/>
<circle cx="404.0" cy="176.8" r="0.68"/>
<circle cx="390.3" cy="196.2" r="0.68"/>
<circle cx="397.6" cy="190.2" r="0.68"/>
<circle cx="401.6" cy="146.7" r="0.68"/>
<circle cx="395.7" cy="180.0" r="0.68"/>
<circle cx="402.6" cy="179.4" r="0.68"/>
<circle cx="390.9" cy="186.0" r="0.68"/>
<circle cx="405.0" cy="197.5" r="0.68"/>
<circle cx="401.1" cy="183.2" r="0.68"/>
<circle cx="388.4" cy="197.7" r="0.68"/>
<circle cx="390.5" cy="191.5" r="0.68"/>
<circle cx="391.2" cy="197.7" r="0.68"/>
<circle cx="391.4" cy="184.8" r="0.68"/>
<circle cx="396.4" cy="176.6" r="0.68"/>
<circle cx="395.8" cy="194.4" r="0.68"/>
<circle cx="387.7" cy="197.7" r="0.68"/>
<circle cx="388.2" cy="197.6" r="0.68"/>
<circle cx="398.5" cy="186.6" r="0.68"/>
<circle cx="395.9" cy="178.7" r="0.68"/>
<circle cx="393.1" cy="190.9" r="0.68"/>
<circle cx="403.3" cy="172.4" r="0.68"/>
<circle cx="394.9" cy="183.5" r="0.68"/>
<circle cx="395.7" cy="190.0" r="0.68"/>
<circle cx="403.8" cy="190.7" r="0.68"/>
<circle cx="404.2" cy="153.9" r="0.68"/>
<circle cx="403.2" cy="193.5" r="0.68"/>
<circle cx="396.6" cy="159.7" r="0.68"/>
<circle cx="392.6" cy="195.4" r="0.68"/>
<circle cx="400.4" cy="191.0" r="0.68"/>
<circle cx="397.9" cy="194.6" r="0.68"/>
<circle cx="404.4" cy="188.4" r="0.68"/>
<circle cx="389.2" cy="195.8" r="0.68"/>
<circle cx="393.7" cy="184.2" r="0.68"/>
<circle cx="396.3" cy="163.6" r="0.68"/>
<circle cx="396.7" cy="187.7" r="0.68"/>
<circle cx="387.5" cy="197.8" r="0.68"/>
<circle cx="392.3" cy="185.7" r="0.68"/>
<circle cx="398.8" cy="182.2" r="0.68"/>
<circle cx="389.1" cy="196.6" r="0.68"/>
<circle cx="396.1" cy="177.7" r="0.68"/>
<circle cx="404.8" cy="188.5" r="0.68"/>
<circle cx="395.4" cy="196.7" r="0.68"/>
<circle cx="401.8" cy="190.8" r="0.68"/>
<circle cx="402.3" cy="158.8" r="0.68"/>
<circle cx="392.0" cy="177.1" r="0.68"/>
<circle cx="396.5" cy="186.1" r="0.68"/>
<circle cx="397.4" cy="159.3" r="0.68"/>
<circle cx="396.2" cy="184.1" r="0.68"/>
<circle cx="392.6" cy="175.8" r="0.68"/>
<circle cx="396.5" cy="189.2" r="0.68"/>
<circle cx="391.0" cy="196.2" r="0.68"/>
<circle cx="402.4" cy="158.3" r="0.68"/>
<circle cx="405.0" cy="148.7" r="0.68"/>
<circle cx="399.7" cy="162.0" r="0.68"/>
<circle cx="400.2" cy="160.0" r="0.68"/>
<circle cx="401.8" cy="193.1" r="0.68"/>
<circle cx="402.0" cy="187.8" r="0.68"/>
<circle cx="391.8" cy="178.2" r="0.68"/>
<circle cx="387.9" cy="197.5" r="0.68"/>
<circle cx="393.6" cy="175.9" r="0.68"/>
<circle cx="398.4" cy="158.6" r="0.68"/>
<circle cx="404.1" cy="168.2" r="0.68"/>
<circle cx="388.6" cy="196.5" r="0.68"/>
<circle cx="389.4" cy="194.0" r="0.68"/>
<circle cx="403.0" cy="187.3" r="0.68"/>
<circle cx="390.8" cy="190.6" r="0.68"/>
<circle cx="401.0" cy="146.2" r="0.68"/>
<circle cx="398.6" cy="195.3" r="0.68"/>
<circle cx="400.5" cy="196.8" r="0.68"/>
<circle cx="403.0" cy="160.4" r="0.68"/>
<circle cx="401.5" cy="153.9" r="0.68"/>
<circle cx="397.6" cy="158.8" r="0.68"/>
<circle cx="398.9" cy="180.6" r="0.68"/>
<circle cx="394.3" cy="190.3" r="0.68"/>
<circle cx="387.9" cy="197.7" r="0.68"/>
<circle cx="401.7" cy="191.1" r="0.68"/>
<circle cx="399.1" cy="164.7" r="0.68"/>
<circle cx="399.9" cy="178.1" r="0.68"/>
<circle cx="393.1" cy="193.1" r="0.68"/>
<circle cx="390.8" cy="191.2" r="0.68"/>
<circle cx="399.7" cy="152.5" r="0.68"/>
<circle cx="393.4" cy="171.0" r="0.68"/>
<circle cx="403.8" cy="188.1" r="0.68"/>
<circle cx="404.5" cy="169.6" r="0.68"/>
<circle cx="404.7" cy="159.2" r="0.68"/>
<circle cx="393.4" cy="192.8" r="0.68"/>
<circle cx="396.8" cy="183.2" r="0.68"/>
<circle cx="388.1" cy="196.8" r="0.68"/>
<circle cx="397.0" cy="183.6" r="0.68"/>
<circle cx="400.8" cy="190.3" r="0.68"/>
<circle cx="391.0" cy="191.1" r="0.68"/>
<circle cx="391.8" cy="193.3" r="0.68"/>
<circle cx="388.7" cy="197.8" r="0.68"/>
<circle cx="393.8" cy="185.2" r="0.68"/>
<circle cx="404.4" cy="168.4" r="0.68"/>
<circle cx="394.9" cy="188.2" r="0.68"/>
<circle cx="391.7" cy="190.6" r="0.68"/>
<circle cx="404.6" cy="194.9" r="0.68"/>
<circle cx="395.2" cy="177.3" r="0.68"/>
<circle cx="401.1" cy="174.7" r="0.68"/>
<circle cx="398.9" cy="155.3" r="0.68"/>
<circle cx="403.6" cy="189.9" r="0.68"/>
<circle cx="397.1" cy="157.2" r="0.68"/>
<circle cx="396.9" cy="193.9" r="0.68"/>
<circle cx="401.2" cy="196.8" r="0.68"/>
<circle cx="390.1" cy="195.3" r="0.68"/>
<circle cx="392.3" cy="180.8" r="0.68"/>
<circle cx="400.5" cy="187.3" r="0.68"/>
<circle cx="401.2" cy="169.1" r="0.68"/>
<circle cx="400.1" cy="181.0" r="0.68"/>
<circle cx="395.2" cy="196.3" r="0.68"/>
<circle cx="395.9" cy="163.1" r="0.68"/>
<circle cx="403.4" cy="196.8" r="0.68"/>
<circle cx="388.7" cy="197.4" r="0.68"/>
<circle cx="399.9" cy="182.2" r="0.68"/>
<circle cx="389.7" cy="196.4" r="0.68"/>
<circle cx="397.7" cy="169.6" r="0.68"/>
<circle cx="394.7" cy="179.6" r="0.68"/>
<circle cx="399.6" cy="173.0" r="0.68"/>
<circle cx="388.3" cy="196.8" r="0.68"/>
<circle cx="389.7" cy="197.7" r="0.68"/>
<circle cx="395.9" cy="197.7" r="0.68"/>
<circle cx="388.7" cy="197.1" r="0.68"/>
<circle cx="395.8" cy="196.2" r="0.68"/>
<circle cx="404.5" cy="153.8" r="0.68"/>
<circle cx="396.2" cy="179.9" r="0.68"/>
<circle cx="393.1" cy="169.3" r="0.68"/>
<circle cx="389.6" cy="197.0" r="0.68"/>
<circle cx="391.4" cy="183.1" r="0.68"/>
<circle cx="396.6" cy="186.6" r="0.68"/>
<circle cx="394.6" cy="169.9" r="0.68"/>
<circle cx="392.1" cy="180.2" r="0.68"/>
<circle cx="400.1" cy="181.3" r="0.68"/>
<circle cx="394.0" cy="187.9" r="0.68"/>
<circle cx="395.6" cy="190.7" r="0.68"/>
<circle cx="398.6" cy="184.7" r="0.68"/>
<circle cx="392.9" cy="177.9" r="0.68"/>
<circle cx="395.6" cy="185.2" r="0.68"/>
<circle cx="403.2" cy="179.8" r="0.68"/>
<circle cx="394.2" cy="170.3" r="0.68"/>
<circle cx="404.9" cy="158.3" r="0.68"/>
<circle cx="394.6" cy="178.8" r="0.68"/>
<circle cx="400.7" cy="188.2" r="0.68"/>
<circle cx="400.4" cy="149.8" r="0.68"/>
<circle cx="399.2" cy="170.8" r="0.68"/>
<circle cx="395.2" cy="178.6" r="0.68"/>
<circle cx="391.5" cy="184.7" r="0.68"/>
<circle cx="397.1" cy="158.3" r="0.68"/>
<circle cx="393.6" cy="178.9" r="0.68"/>
<circle cx="387.7" cy="197.6" r="0.68"/>
<circle cx="401.2" cy="189.8" r="0.68"/>
<circle cx="398.4" cy="192.4" r="0.68"/>
<circle cx="394.6" cy="165.1" r="0.68"/>
<circle cx="391.0" cy="185.7" r="0.68"/>
<circle cx="388.5" cy="196.8" r="0.68"/>
<circle cx="402.1" cy="156.1" r="0.68"/>
<circle cx="394.4" cy="182.2" r="0.68"/>
<circle cx="400.2" cy="163.1" r="0.68"/>
<circle cx="400.8" cy="173.4" r="0.68"/>
<circle cx="391.9" cy="183.5" r="0.68"/>
<circle cx="397.5" cy="179.9" r="0.68"/>
<circle cx="405.1" cy="194.4" r="0.68"/>
<circle cx="401.4" cy="186.8" r="0.68"/>
<circle cx="400.5" cy="149.6" r="0.68"/>
<circle cx="392.4" cy="185.5" r="0.68"/>
<circle cx="396.9" cy="182.8" r="0.68"/>
<circle cx="390.4" cy="193.3" r="0.68"/>
<circle cx="403.4" cy="167.2" r="0.68"/>
<circle cx="392.6" cy="177.2" r="0.68"/>
<circle cx="395.0" cy="195.5" r="0.68"/>
<circle cx="398.3" cy="182.8" r="0.68"/>
<circle cx="396.9" cy="158.1" r="0.68"/>
<circle cx="397.6" cy="158.2" r="0.68"/>
<circle cx="393.8" cy="176.8" r="0.68"/>
<circle cx="388.8" cy="197.3" r="0.68"/>
<circle cx="399.8" cy="168.3" r="0.68"/>
<circle cx="402.3" cy="184.0" r="0.68"/>
<circle cx="392.3" cy="191.3" r="0.68"/>
<circle cx="397.1" cy="197.6" r="0.68"/>
<circle cx="394.1" cy="180.1" r="0.68"/>
<circle cx="390.1" cy="196.7" r="0.68"/>
<circle cx="403.1" cy="148.7" r="0.68"/>
<circle cx="391.9" cy="195.7" r="0.68"/>
<circle cx="389.6" cy="197.7" r="0.68"/>
<circle cx="401.7" cy="163.0" r="0.68"/>
<circle cx="392.2" cy="188.4" r="0.68"/>
<circle cx="399.9" cy="197.5" r="0.68"/>
<circle cx="402.1" cy="154.6" r="0.68"/>
<circle cx="391.2" cy="187.8" r="0.68"/>
<circle cx="400.0" cy="186.9" r="0.68"/>
<circle cx="403.2" cy="191.4" r="0.68"/>
<circle cx="395.9" cy="190.5" r="0.68"/>
<circle cx="395.4" cy="171.5" r="0.68"/>
<circle cx="397.6" cy="176.6" r="0.68"/>
<circle cx="405.1" cy="191.0" r="0.68"/>
<circle cx="391.4" cy="188.4" r="0.68"/>
<circle cx="390.1" cy="192.3" r="0.68"/>
<circle cx="393.6" cy="188.2" r="0.68"/>
<circle cx="395.2" cy="171.2" r="0.68"/>
<circle cx="403.8" cy="166.2" r="0.68"/>
<circle cx="390.5" cy="195.6" r="0.68"/>
<circle cx="400.1" cy="191.9" r="0.68"/>
<circle cx="403.2" cy="153.0" r="0.68"/>
<circle cx="391.5" cy="193.2" r="0.68"/>
<circle cx="391.5" cy="185.6" r="0.68"/>
<circle cx="388.3" cy="196.8" r="0.68"/>
<circle cx="388.6" cy="196.1" r="0.68"/>
<circle cx="397.2" cy="178.6" r="0.68"/>
<circle cx="389.1" cy="197.8" r="0.68"/>
<circle cx="393.8" cy="167.6" r="0.68"/>
<circle cx="398.2" cy="162.0" r="0.68"/>
<circle cx="388.6" cy="197.7" r="0.68"/>
<circle cx="387.8" cy="197.4" r="0.68"/>
<circle cx="390.6" cy="196.1" r="0.68"/>
<circle cx="399.4" cy="168.9" r="0.68"/>
<circle cx="393.2" cy="187.6" r="0.68"/>
<circle cx="392.6" cy="185.4" r="0.68"/>
<circle cx="393.8" cy="190.4" r="0.68"/>
<circle cx="391.9" cy="193.7" r="0.68"/>
<circle cx="392.1" cy="197.7" r="0.68"/>
<circle cx="393.0" cy="183.9" r="0.68"/>
<circle cx="392.3" cy="196.6" r="0.68"/>
<circle cx="402.6" cy="179.2" r="0.68"/>
<circle cx="396.6" cy="190.1" r="0.68"/>
<circle cx="403.3" cy="161.2" r="0.68"/>
<circle cx="398.6" cy="172.5" r="0.68"/>
<circle cx="399.8" cy="179.0" r="0.68"/>
<circle cx="394.8" cy="188.8" r="0.68"/>
<circle cx="396.5" cy="184.4" r="0.68"/>
<circle cx="396.9" cy="181.2" r="0.68"/>
<circle cx="401.6" cy="152.6" r="0.68"/>
<circle cx="391.5" cy="197.7" r="0.68"/>
<circle cx="392.8" cy="197.6" r="0.68"/>
<circle cx="401.7" cy="170.6" r="0.68"/>
<circle cx="392.6" cy="195.1" r="0.68"/>
<circle cx="403.0" cy="155.7" r="0.68"/>
<circle cx="399.7" cy="168.5" r="0.68"/>
<circle cx="400.8" cy="180.4" r="0.68"/>
<circle cx="394.6" cy="183.4" r="0.68"/>
<circle cx="403.2" cy="144.3" r="0.68"/>
<circle cx="403.9" cy="155.3" r="0.68"/>
<circle cx="388.8" cy="197.4" r="0.68"/>
<circle cx="404.8" cy="174.2" r="0.68"/>
<circle cx="396.7" cy="190.2" r="0.68"/>
<circle cx="402.9" cy="176.4" r="0.68"/>
<circle cx="405.2" cy="196.3" r="0.68"/>
<circle cx="405.2" cy="197.7" r="0.68"/>
<circle cx="390.1" cy="196.4" r="0.68"/>
<circle cx="398.9" cy="195.7" r="0.68"/>
<circle cx="397.5" cy="159.3" r="0.68"/>
<circle cx="395.2" cy="174.0" r="0.68"/>
<circle cx="398.0" cy="177.3" r="0.68"/>
<circle cx="390.5" cy="194.5" r="0.68"/>
<circle cx="403.6" cy="166.5" r="0.68"/>
<circle cx="391.3" cy="192.2" r="0.68"/>
<circle cx="397.2" cy="188.9" r="0.68"/>
<circle cx="397.8" cy="175.3" r="0.68"/>
<circle cx="387.8" cy="197.7" r="0.68"/>
<circle cx="399.2" cy="192.3" r="0.68"/>
<circle cx="388.7" cy="196.0" r="0.68"/>
<circle cx="393.4" cy="169.6" r="0.68"/>
<circle cx="397.4" cy="196.1" r="0.68"/>
<circle cx="398.8" cy="190.7" r="0.68"/>
<circle cx="402.0" cy="163.8" r="0.68"/>
<circle cx="401.0" cy="196.8" r="0.68"/>
<circle cx="388.1" cy="196.9" r="0.68"/>
<circle cx="390.0" cy="197.3" r="0.68"/>
<circle cx="388.0" cy="197.7" r="0.68"/>
<circle cx="395.9" cy="163.0" r="0.68"/>
<circle cx="393.2" cy="193.4" r="0.68"/>
<circle cx="402.3" cy="192.8" r="0.68"/>
<circle cx="398.8" cy="174.5" r="0.68"/>
<circle cx="404.2" cy="197.1" r="0.68"/>
<circle cx="397.5" cy="186.8" r="0.68"/>
<circle cx="402.2" cy="190.0" r="0.68"/>
<circle cx="400.2" cy="193.0" r="0.68"/>
<circle cx="396.3" cy="161.3" r="0.68"/>
<circle cx="391.7" cy="194.2" r="0.68"/>
<circle cx="403.9" cy="166.3" r="0.68"/>
<circle cx="388.6" cy="197.6" r="0.68"/>
<circle cx="391.7" cy="194.1" r="0.68"/>
<circle cx="402.6" cy="165.1" r="0.68"/>
<circle cx="405.0" cy="166.2" r="0.68"/>
<circle cx="398.7" cy="185.9" r="0.68"/>
<circle cx="400.3" cy="178.8" r="0.68"/>
<circle cx="388.5" cy="197.0" r="0.68"/>
<circle cx="394.3" cy="184.5" r="0.68"/>
<circle cx="388.3" cy="197.8" r="0.68"/>
<circle cx="405.0" cy="183.9" r="0.68"/>
<circle cx="393.4" cy="195.7" r="0.68"/>
<circle cx="398.1" cy="159.3" r="0.68"/>
<circle cx="390.7" cy="193.6" r="0.68"/>
<circle cx="396.4" cy="171.3" r="0.68"/>
<circle cx="397.6" cy="192.1" r="0.68"/>
<circle cx="390.8" cy="189.8" r="0.68"/>
<circle cx="388.8" cy="195.5" r="0.68"/>
<circle cx="388.0" cy="197.7" r="0.68"/>
<circle cx="395.8" cy="168.9" r="0.68"/>
<circle cx="398.5" cy="167.8" r="0.68"/>
<circle cx="401.1" cy="164.4" r="0.68"/>
<circle cx="388.4" cy="196.4" r="0.68"/>
<circle cx="390.1" cy="197.4" r="0.68"/>
<circle cx="388.1" cy="197.8" r="0.68"/>
<circle cx="403.1" cy="183.8" r="0.68"/>
<circle cx="389.0" cy="197.8" r="0.68"/>
<circle cx="402.6" cy="171.4" r="0.68"/>
<circle cx="403.9" cy="197.3" r="0.68"/>
<circle cx="389.5" cy="197.1" r="0.68"/>
<circle cx="390.9" cy="197.2" r="0.68"/>
<circle cx="399.6" cy="132.7" r="0.68"/>
<circle cx="399.4" cy="146.9" r="0.68"/>
<circle cx="402.0" cy="140.6" r="0.68"/>
<circle cx="399.3" cy="134.8" r="0.68"/>
<circle cx="401.8" cy="140.3" r="0.68"/>
<circle cx="401.6" cy="150.8" r="0.68"/>
<circle cx="402.6" cy="146.1" r="0.68"/>
<circle cx="400.6" cy="151.7" r="0.68"/>
<circle cx="404.5" cy="134.2" r="0.68"/>
<circle cx="401.0" cy="135.6" r="0.68"/>
<circle cx="404.9" cy="148.0" r="0.68"/>
<circle cx="400.9" cy="130.6" r="0.68"/>
<circle cx="400.9" cy="130.7" r="0.68"/>
<circle cx="404.7" cy="150.7" r="0.68"/>
<circle cx="400.2" cy="143.1" r="0.68"/>
<circle cx="403.6" cy="128.3" r="0.68"/>
<circle cx="403.2" cy="124.1" r="0.68"/>
<circle cx="399.5" cy="140.1" r="0.68"/>
<circle cx="404.3" cy="128.9" r="0.68"/>
<circle cx="399.0" cy="122.4" r="0.68"/>
<circle cx="403.5" cy="125.9" r="0.68"/>
<circle cx="400.8" cy="133.7" r="0.68"/>
<circle cx="405.1" cy="124.9" r="0.68"/>
<circle cx="402.3" cy="125.1" r="0.68"/>
<circle cx="405.3" cy="126.7" r="0.68"/>
<circle cx="402.9" cy="123.0" r="0.68"/>
<circle cx="399.2" cy="139.8" r="0.68"/>
<circle cx="402.2" cy="148.0" r="0.68"/>
<circle cx="403.8" cy="150.1" r="0.68"/>
<circle cx="402.7" cy="143.5" r="0.68"/>
<circle cx="400.5" cy="133.7" r="0.68"/>
<circle cx="399.6" cy="138.5" r="0.68"/>
<circle cx="404.3" cy="122.2" r="0.68"/>
<circle cx="400.1" cy="140.9" r="0.68"/>
<circle cx="403.2" cy="146.2" r="0.68"/>
<circle cx="404.3" cy="146.0" r="0.68"/>
<circle cx="402.2" cy="141.7" r="0.68"/>
<circle cx="398.2" cy="151.9" r="0.68"/>
<circle cx="398.2" cy="142.1" r="0.68"/>
<circle cx="400.2" cy="122.1" r="0.68"/>
<circle cx="402.8" cy="150.0" r="0.68"/>
<circle cx="403.3" cy="144.9" r="0.68"/>
<circle cx="401.6" cy="130.2" r="0.68"/>
<circle cx="404.3" cy="123.8" r="0.68"/>
<circle cx="401.2" cy="142.4" r="0.68"/>
<circle cx="364.5" cy="192.4" r="0.68"/>
<circle cx="406.5" cy="189.6" r="0.68"/>
<circle cx="414.7" cy="196.5" r="0.68"/>
<circle cx="406.5" cy="196.7" r="0.68"/>
<circle cx="360.9" cy="192.5" r="0.68"/>
<circle cx="350.8" cy="192.4" r="0.68"/>
<circle cx="349.3" cy="195.2" r="0.68"/>
<circle cx="408.0" cy="197.7" r="0.68"/>
<circle cx="357.1" cy="195.4" r="0.68"/>
<circle cx="364.2" cy="197.1" r="0.68"/>
<circle cx="358.4" cy="190.4" r="0.68"/>
<circle cx="361.9" cy="190.6" r="0.68"/>
<circle cx="362.8" cy="195.9" r="0.68"/>
<circle cx="338.3" cy="191.5" r="0.68"/>
<circle cx="409.0" cy="196.1" r="0.68"/>
<circle cx="367.5" cy="194.0" r="0.68"/>
<circle cx="363.1" cy="189.3" r="0.68"/>
<circle cx="363.9" cy="191.2" r="0.68"/>
<circle cx="351.4" cy="194.2" r="0.68"/>
<circle cx="413.9" cy="195.0" r="0.68"/>
<circle cx="359.6" cy="194.6" r="0.68"/>
<circle cx="366.4" cy="195.8" r="0.68"/>
<circle cx="358.5" cy="196.5" r="0.68"/>
<circle cx="417.1" cy="197.8" r="0.68"/>
<circle cx="411.9" cy="197.5" r="0.68"/>
<circle cx="365.6" cy="192.5" r="0.68"/>
<circle cx="407.5" cy="193.1" r="0.68"/>
<circle cx="430.5" cy="195.5" r="0.68"/>
<circle cx="407.8" cy="197.2" r="0.68"/>
<circle cx="413.6" cy="197.6" r="0.68"/>
<circle cx="414.9" cy="196.5" r="0.68"/>
<circle cx="366.0" cy="197.6" r="0.68"/>
<circle cx="428.4" cy="196.5" r="0.68"/>
<circle cx="429.3" cy="193.0" r="0.68"/>
<circle cx="364.2" cy="195.6" r="0.68"/>
<circle cx="344.3" cy="191.3" r="0.68"/>
<circle cx="409.2" cy="197.0" r="0.68"/>
<circle cx="340.1" cy="190.6" r="0.68"/>
<circle cx="411.6" cy="195.6" r="0.68"/>
<circle cx="415.0" cy="191.6" r="0.68"/>
<circle cx="356.4" cy="194.4" r="0.68"/>
<circle cx="418.9" cy="194.1" r="0.68"/>
<circle cx="413.2" cy="197.1" r="0.68"/>
<circle cx="361.0" cy="193.0" r="0.68"/>
<circle cx="359.6" cy="190.5" r="0.68"/>
<circle cx="406.4" cy="192.7" r="0.68"/>
<circle cx="367.5" cy="195.4" r="0.68"/>
<circle cx="407.8" cy="195.4" r="0.68"/>
<circle cx="406.8" cy="192.4" r="0.68"/>
<circle cx="357.4" cy="190.8" r="0.68"/>
<circle cx="365.1" cy="196.2" r="0.68"/>
<circle cx="343.9" cy="195.8" r="0.68"/>
<circle cx="408.5" cy="190.3" r="0.68"/>
<circle cx="406.6" cy="196.0" r="0.68"/>
<circle cx="363.6" cy="195.6" r="0.68"/>
<circle cx="359.2" cy="196.6" r="0.68"/>
<circle cx="360.5" cy="197.7" r="0.68"/>
<circle cx="360.9" cy="195.6" r="0.68"/>
<circle cx="406.7" cy="195.3" r="0.68"/>
<circle cx="421.7" cy="193.4" r="0.68"/>
<circle cx="411.8" cy="197.3" r="0.68"/>
<circle cx="412.1" cy="193.6" r="0.68"/>
<circle cx="412.5" cy="190.3" r="0.68"/>
<circle cx="418.6" cy="192.7" r="0.68"/>
<circle cx="352.7" cy="192.5" r="0.68"/>
<circle cx="406.9" cy="194.8" r="0.68"/>
<circle cx="355.4" cy="192.3" r="0.68"/>
<circle cx="354.9" cy="191.0" r="0.68"/>
<circle cx="366.0" cy="193.5" r="0.68"/>
<circle cx="420.3" cy="195.5" r="0.68"/>
<circle cx="406.7" cy="197.8" r="0.68"/>
<circle cx="357.0" cy="193.6" r="0.68"/>
<circle cx="420.8" cy="197.5" r="0.68"/>
<circle cx="409.2" cy="196.0" r="0.68"/>
<circle cx="360.2" cy="192.5" r="0.68"/>
<circle cx="366.0" cy="196.5" r="0.68"/>
<circle cx="360.9" cy="197.8" r="0.68"/>
<circle cx="424.0" cy="195.1" r="0.68"/>
<circle cx="406.6" cy="189.5" r="0.68"/>
<circle cx="417.6" cy="196.7" r="0.68"/>
<circle cx="350.0" cy="189.9" r="0.68"/>
<circle cx="421.6" cy="194.3" r="0.68"/>
<circle cx="361.0" cy="197.1" r="0.68"/>
<circle cx="361.1" cy="191.5" r="0.68"/>
<circle cx="366.3" cy="194.4" r="0.68"/>
<circle cx="357.8" cy="195.6" r="0.68"/>
<circle cx="421.8" cy="197.7" r="0.68"/>
<circle cx="354.6" cy="195.1" r="0.68"/>
<circle cx="366.2" cy="196.7" r="0.68"/>
<circle cx="352.0" cy="197.4" r="0.68"/>
<circle cx="354.4" cy="195.8" r="0.68"/>
<circle cx="351.9" cy="196.1" r="0.68"/>
<circle cx="345.2" cy="193.2" r="0.68"/>
<circle cx="431.6" cy="196.8" r="0.68"/>
<circle cx="406.7" cy="190.9" r="0.68"/>
<circle cx="418.3" cy="194.0" r="0.68"/>
<circle cx="362.8" cy="197.6" r="0.68"/>
<circle cx="345.2" cy="193.2" r="0.68"/>
<circle cx="409.6" cy="191.1" r="0.68"/>
<circle cx="405.9" cy="193.7" r="0.68"/>
<circle cx="365.8" cy="195.9" r="0.68"/>
<circle cx="416.0" cy="195.5" r="0.68"/>
<circle cx="367.2" cy="196.0" r="0.68"/>
<circle cx="408.8" cy="197.7" r="0.68"/>
<circle cx="363.8" cy="197.7" r="0.68"/>
<circle cx="414.4" cy="193.6" r="0.68"/>
<circle cx="407.2" cy="194.1" r="0.68"/>
<circle cx="414.0" cy="194.0" r="0.68"/>
<circle cx="350.2" cy="190.3" r="0.68"/>
<circle cx="357.2" cy="194.4" r="0.68"/>
<circle cx="361.0" cy="193.8" r="0.68"/>
<circle cx="351.0" cy="197.6" r="0.68"/>
<circle cx="359.1" cy="193.2" r="0.68"/>
<circle cx="367.5" cy="189.8" r="0.68"/>
<circle cx="408.4" cy="197.0" r="0.68"/>
<circle cx="363.6" cy="191.9" r="0.68"/>
<circle cx="424.9" cy="197.8" r="0.68"/>
<circle cx="418.3" cy="190.5" r="0.68"/>
<circle cx="413.7" cy="191.9" r="0.68"/>
<circle cx="429.4" cy="193.8" r="0.68"/>
<circle cx="408.6" cy="195.5" r="0.68"/>
<circle cx="419.2" cy="189.9" r="0.68"/>
<circle cx="411.6" cy="197.1" r="0.68"/>
<circle cx="365.7" cy="193.2" r="0.68"/>
<circle cx="429.1" cy="190.2" r="0.68"/>
<circle cx="408.5" cy="192.8" r="0.68"/>
<circle cx="417.5" cy="190.8" r="0.68"/>
<circle cx="421.2" cy="190.3" r="0.68"/>
<circle cx="438.1" cy="192.1" r="0.68"/>
<circle cx="354.2" cy="191.6" r="0.68"/>
<circle cx="357.7" cy="195.6" r="0.68"/>
<circle cx="436.2" cy="189.7" r="0.68"/>
<circle cx="420.4" cy="190.8" r="0.68"/>
<circle cx="363.4" cy="197.4" r="0.68"/>
<circle cx="349.1" cy="190.9" r="0.68"/>
<circle cx="363.8" cy="190.3" r="0.68"/>
<circle cx="408.0" cy="192.5" r="0.68"/>
<circle cx="360.3" cy="195.2" r="0.68"/>
<circle cx="412.2" cy="191.2" r="0.68"/>
<circle cx="358.0" cy="193.6" r="0.68"/>
<circle cx="360.2" cy="190.1" r="0.68"/>
<circle cx="366.5" cy="191.9" r="0.68"/>
<circle cx="347.0" cy="192.5" r="0.68"/>
<circle cx="358.3" cy="189.7" r="0.68"/>
<circle cx="364.2" cy="191.1" r="0.68"/>
<circle cx="408.4" cy="197.7" r="0.68"/>
<circle cx="365.2" cy="190.6" r="0.68"/>
<circle cx="423.8" cy="192.9" r="0.68"/>
<circle cx="412.9" cy="190.7" r="0.68"/>
<circle cx="326.5" cy="194.4" r="0.68"/>
<circle cx="349.8" cy="195.0" r="0.68"/>
<circle cx="436.2" cy="196.0" r="0.68"/>
<circle cx="405.5" cy="194.8" r="0.68"/>
<circle cx="362.4" cy="196.1" r="0.68"/>
<circle cx="355.4" cy="192.2" r="0.68"/>
<circle cx="353.6" cy="191.8" r="0.68"/>
<circle cx="364.2" cy="197.5" r="0.68"/>
<circle cx="408.9" cy="190.9" r="0.68"/>
<circle cx="410.5" cy="189.3" r="0.68"/>
<circle cx="361.2" cy="193.1" r="0.68"/>
<circle cx="421.0" cy="194.0" r="0.68"/>
<circle cx="425.4" cy="196.0" r="0.68"/>
<circle cx="405.9" cy="197.4" r="0.68"/>
<circle cx="364.5" cy="189.3" r="0.68"/>
<circle cx="349.6" cy="190.4" r="0.68"/>
<circle cx="425.7" cy="197.1" r="0.68"/>
<circle cx="414.7" cy="192.1" r="0.68"/>
<circle cx="414.2" cy="194.1" r="0.68"/>
<circle cx="362.6" cy="194.5" r="0.68"/>
<circle cx="416.7" cy="197.6" r="0.68"/>
<circle cx="342.0" cy="192.4" r="0.68"/>
<circle cx="410.0" cy="192.2" r="0.68"/>
<circle cx="407.6" cy="195.5" r="0.68"/>
<circle cx="360.7" cy="194.8" r="0.68"/>
<circle cx="426.9" cy="195.4" r="0.68"/>
<circle cx="418.7" cy="189.4" r="0.68"/>
<circle cx="365.5" cy="189.7" r="0.68"/>
<circle cx="409.2" cy="194.8" r="0.68"/>
<circle cx="353.6" cy="195.7" r="0.68"/>
<circle cx="422.4" cy="191.0" r="0.68"/>
<circle cx="413.2" cy="190.5" r="0.68"/>
<circle cx="415.8" cy="196.3" r="0.68"/>
<circle cx="351.9" cy="192.0" r="0.68"/>
<circle cx="429.6" cy="190.0" r="0.68"/>
<circle cx="357.0" cy="197.5" r="0.68"/>
<circle cx="418.4" cy="195.8" r="0.68"/>
<circle cx="425.9" cy="195.3" r="0.68"/>
<circle cx="406.7" cy="193.0" r="0.68"/>
<circle cx="352.9" cy="196.1" r="0.68"/>
<circle cx="359.0" cy="197.8" r="0.68"/>
<circle cx="408.3" cy="193.6" r="0.68"/>
<circle cx="356.0" cy="189.8" r="0.68"/>
<circle cx="408.0" cy="195.9" r="0.68"/>
<circle cx="367.2" cy="197.6" r="0.68"/>
<circle cx="420.1" cy="190.8" r="0.68"/>
<circle cx="418.3" cy="190.4" r="0.68"/>
<circle cx="342.6" cy="196.8" r="0.68"/>
<circle cx="423.0" cy="192.0" r="0.68"/>
<circle cx="417.4" cy="193.1" r="0.68"/>
<circle cx="406.3" cy="192.8" r="0.68"/>
<circle cx="351.3" cy="197.0" r="0.68"/>
<circle cx="406.7" cy="191.2" r="0.68"/>
<circle cx="364.4" cy="194.2" r="0.68"/>
<circle cx="418.5" cy="191.0" r="0.68"/>
<circle cx="366.8" cy="191.2" r="0.68"/>
<circle cx="418.1" cy="194.3" r="0.68"/>
<circle cx="350.4" cy="189.6" r="0.68"/>
<circle cx="345.6" cy="190.0" r="0.68"/>
<circle cx="413.7" cy="197.5" r="0.68"/>
<circle cx="364.8" cy="194.0" r="0.68"/>
<circle cx="342.7" cy="197.0" r="0.68"/>
<circle cx="354.8" cy="191.8" r="0.68"/>
<circle cx="361.6" cy="194.9" r="0.68"/>
<circle cx="410.6" cy="193.1" r="0.68"/>
<circle cx="414.7" cy="190.6" r="0.68"/>
<circle cx="423.8" cy="193.3" r="0.68"/>
<circle cx="364.2" cy="197.6" r="0.68"/>
<circle cx="406.5" cy="190.8" r="0.68"/>
<circle cx="411.3" cy="196.1" r="0.68"/>
<circle cx="410.7" cy="194.9" r="0.68"/>
<circle cx="421.8" cy="190.5" r="0.68"/>
<circle cx="353.7" cy="191.8" r="0.68"/>
<circle cx="357.8" cy="195.9" r="0.68"/>
<circle cx="406.8" cy="190.3" r="0.68"/>
<circle cx="364.7" cy="195.4" r="0.68"/>
<circle cx="411.6" cy="196.1" r="0.68"/>
<circle cx="414.2" cy="197.0" r="0.68"/>
<circle cx="406.7" cy="191.7" r="0.68"/>
<circle cx="420.4" cy="190.9" r="0.68"/>
<circle cx="413.2" cy="189.9" r="0.68"/>
<circle cx="361.7" cy="192.0" r="0.68"/>
<circle cx="355.7" cy="196.4" r="0.68"/>
<circle cx="351.4" cy="193.6" r="0.68"/>
<circle cx="359.7" cy="193.6" r="0.68"/>
<circle cx="363.8" cy="193.6" r="0.68"/>
<circle cx="348.1" cy="189.8" r="0.68"/>
<circle cx="411.4" cy="193.9" r="0.68"/>
<circle cx="407.6" cy="196.8" r="0.68"/>
<circle cx="365.6" cy="192.9" r="0.68"/>
<circle cx="359.5" cy="195.8" r="0.68"/>
<circle cx="357.0" cy="196.4" r="0.68"/>
<circle cx="360.4" cy="189.5" r="0.68"/>
<circle cx="355.1" cy="196.7" r="0.68"/>
<circle cx="440.3" cy="194.1" r="0.68"/>
<circle cx="414.1" cy="195.1" r="0.68"/>
<circle cx="360.0" cy="193.0" r="0.68"/>
<circle cx="365.8" cy="191.8" r="0.68"/>
<circle cx="364.2" cy="193.6" r="0.68"/>
<circle cx="364.5" cy="197.3" r="0.68"/>
<circle cx="359.0" cy="194.7" r="0.68"/>
<circle cx="408.8" cy="196.8" r="0.68"/>
<circle cx="407.5" cy="196.7" r="0.68"/>
<circle cx="422.2" cy="192.1" r="0.68"/>
<circle cx="407.4" cy="189.3" r="0.68"/>
<circle cx="419.7" cy="197.8" r="0.68"/>
<circle cx="407.2" cy="189.5" r="0.68"/>
<circle cx="349.2" cy="197.2" r="0.68"/>
<circle cx="364.8" cy="193.6" r="0.68"/>
<circle cx="360.7" cy="195.6" r="0.68"/>
<circle cx="412.2" cy="196.0" r="0.68"/>
<circle cx="348.5" cy="197.6" r="0.68"/>
<circle cx="407.6" cy="194.8" r="0.68"/>
<circle cx="352.2" cy="196.3" r="0.68"/>
<circle cx="411.1" cy="195.5" r="0.68"/>
<circle cx="417.8" cy="194.6" r="0.68"/>
<circle cx="365.4" cy="193.9" r="0.68"/>
<circle cx="362.3" cy="189.8" r="0.68"/>
<circle cx="421.1" cy="196.0" r="0.68"/>
<circle cx="348.4" cy="197.7" r="0.68"/>
<circle cx="334.5" cy="192.7" r="0.68"/>
<circle cx="365.6" cy="190.2" r="0.68"/>
<circle cx="421.2" cy="194.2" r="0.68"/>
<circle cx="415.1" cy="196.6" r="0.68"/>
<circle cx="350.7" cy="196.0" r="0.68"/>
<circle cx="356.3" cy="196.4" r="0.68"/>
<circle cx="362.1" cy="191.7" r="0.68"/>
<circle cx="408.3" cy="194.0" r="0.68"/>
<circle cx="420.2" cy="194.5" r="0.68"/>
<circle cx="410.3" cy="189.3" r="0.68"/>
<circle cx="356.6" cy="190.9" r="0.68"/>
<circle cx="409.8" cy="195.9" r="0.68"/>
<circle cx="406.3" cy="191.1" r="0.68"/>
<circle cx="406.9" cy="191.6" r="0.68"/>
<circle cx="366.5" cy="197.1" r="0.68"/>
<circle cx="362.2" cy="192.3" r="0.68"/>
<circle cx="349.0" cy="195.6" r="0.68"/>
<circle cx="360.1" cy="197.8" r="0.68"/>
<circle cx="408.0" cy="194.2" r="0.68"/>
<circle cx="367.4" cy="191.4" r="0.68"/>
<circle cx="432.5" cy="194.3" r="0.68"/>
<circle cx="429.2" cy="189.6" r="0.68"/>
<circle cx="357.5" cy="197.6" r="0.68"/>
<circle cx="420.7" cy="191.6" r="0.68"/>
<circle cx="410.0" cy="191.2" r="0.68"/>
<circle cx="367.3" cy="196.7" r="0.68"/>
<circle cx="360.2" cy="194.4" r="0.68"/>
<circle cx="367.3" cy="192.7" r="0.68"/>
<circle cx="354.3" cy="193.8" r="0.68"/>
<circle cx="406.7" cy="190.5" r="0.68"/>
<circle cx="423.5" cy="191.5" r="0.68"/>
<circle cx="363.2" cy="196.2" r="0.68"/>
<circle cx="409.8" cy="196.2" r="0.68"/>
<circle cx="367.5" cy="193.1" r="0.68"/>
<circle cx="415.4" cy="190.4" r="0.68"/>
<circle cx="366.7" cy="192.9" r="0.68"/>
<circle cx="352.7" cy="191.2" r="0.68"/>
<circle cx="334.3" cy="194.5" r="0.68"/>
<circle cx="359.4" cy="195.7" r="0.68"/>
<circle cx="364.0" cy="195.3" r="0.68"/>
<circle cx="338.4" cy="197.0" r="0.68"/>
<circle cx="430.0" cy="191.3" r="0.68"/>
<circle cx="356.1" cy="195.9" r="0.68"/>
<circle cx="427.0" cy="197.5" r="0.68"/>
<circle cx="431.2" cy="192.5" r="0.68"/>
<circle cx="353.0" cy="196.7" r="0.68"/>
<circle cx="363.5" cy="192.1" r="0.68"/>
<circle cx="345.8" cy="192.0" r="0.68"/>
<circle cx="409.0" cy="193.5" r="0.68"/>
<circle cx="410.7" cy="193.2" r="0.68"/>
<circle cx="415.2" cy="197.6" r="0.68"/>
<circle cx="407.4" cy="196.5" r="0.68"/>
<circle cx="358.7" cy="190.7" r="0.68"/>
<circle cx="364.7" cy="195.4" r="0.68"/>
<circle cx="410.3" cy="191.9" r="0.68"/>
<circle cx="351.6" cy="193.1" r="0.68"/>
<circle cx="411.0" cy="192.6" r="0.68"/>
<circle cx="427.8" cy="195.4" r="0.68"/>
<circle cx="415.1" cy="196.7" r="0.68"/>
<circle cx="415.9" cy="195.3" r="0.68"/>
<circle cx="406.0" cy="192.1" r="0.68"/>
<circle cx="338.3" cy="190.5" r="0.68"/>
<circle cx="410.0" cy="192.2" r="0.68"/>
<circle cx="410.2" cy="189.9" r="0.68"/>
<circle cx="349.7" cy="194.8" r="0.68"/>
<circle cx="366.3" cy="190.8" r="0.68"/>
<circle cx="407.3" cy="196.0" r="0.68"/>
<circle cx="432.8" cy="195.4" r="0.68"/>
<circle cx="411.0" cy="192.5" r="0.68"/>
<circle cx="414.4" cy="194.1" r="0.68"/>
<circle cx="358.9" cy="197.3" r="0.68"/>
<circle cx="410.3" cy="191.7" r="0.68"/>
<circle cx="419.7" cy="194.0" r="0.68"/>
<circle cx="367.5" cy="197.7" r="0.68"/>
<circle cx="364.1" cy="196.9" r="0.68"/>
<circle cx="427.9" cy="189.9" r="0.68"/>
<circle cx="407.3" cy="189.2" r="0.68"/>
<circle cx="355.6" cy="193.1" r="0.68"/>
<circle cx="364.0" cy="195.9" r="0.68"/>
<circle cx="363.0" cy="195.9" r="0.68"/>
<circle cx="426.0" cy="193.7" r="0.68"/>
<circle cx="409.5" cy="192.4" r="0.68"/>
<circle cx="365.6" cy="193.8" r="0.68"/>
<circle cx="323.4" cy="193.1" r="0.68"/>
<circle cx="352.7" cy="189.6" r="0.68"/>
<circle cx="356.4" cy="190.6" r="0.68"/>
<circle cx="356.2" cy="197.4" r="0.68"/>
<circle cx="362.0" cy="193.0" r="0.68"/>
<circle cx="348.1" cy="194.2" r="0.68"/>
<circle cx="366.2" cy="196.7" r="0.68"/>
<circle cx="419.8" cy="193.9" r="0.68"/>
<circle cx="413.1" cy="190.9" r="0.68"/>
<circle cx="364.6" cy="196.8" r="0.68"/>
<circle cx="363.3" cy="196.2" r="0.68"/>
<circle cx="406.3" cy="194.5" r="0.68"/>
<circle cx="412.2" cy="194.4" r="0.68"/>
<circle cx="354.0" cy="195.7" r="0.68"/>
<circle cx="415.6" cy="191.8" r="0.68"/>
<circle cx="360.1" cy="192.8" r="0.68"/>
<circle cx="406.3" cy="190.7" r="0.68"/>
<circle cx="419.3" cy="190.8" r="0.68"/>
<circle cx="413.8" cy="191.6" r="0.68"/>
<circle cx="418.4" cy="190.2" r="0.68"/>
<circle cx="344.8" cy="193.5" r="0.68"/>
<circle cx="414.5" cy="192.7" r="0.68"/>
<circle cx="357.4" cy="194.0" r="0.68"/>
<circle cx="408.3" cy="194.6" r="0.68"/>
<circle cx="363.8" cy="193.3" r="0.68"/>
<circle cx="360.0" cy="189.8" r="0.68"/>
<circle cx="428.3" cy="190.5" r="0.68"/>
<circle cx="364.4" cy="189.7" r="0.68"/>
<circle cx="356.8" cy="191.6" r="0.68"/>
<circle cx="412.1" cy="194.6" r="0.68"/>
<circle cx="365.5" cy="193.6" r="0.68"/>
<circle cx="411.0" cy="195.6" r="0.68"/>
<circle cx="419.3" cy="191.7" r="0.68"/>
<circle cx="356.7" cy="197.5" r="0.68"/>
<circle cx="408.1" cy="195.8" r="0.68"/>
<circle cx="408.1" cy="197.6" r="0.68"/>
<circle cx="413.1" cy="193.1" r="0.68"/>
<circle cx="364.2" cy="195.7" r="0.68"/>
<circle cx="361.0" cy="196.0" r="0.68"/>
<circle cx="359.7" cy="191.3" r="0.68"/>
<circle cx="343.7" cy="189.4" r="0.68"/>
<circle cx="414.1" cy="197.1" r="0.68"/>
<circle cx="418.1" cy="193.8" r="0.68"/>
<circle cx="441.8" cy="195.1" r="0.68"/>
<circle cx="365.0" cy="189.6" r="0.68"/>
<circle cx="406.1" cy="192.7" r="0.68"/>
<circle cx="430.2" cy="195.5" r="0.68"/>
<circle cx="340.6" cy="190.1" r="0.68"/>
<circle cx="363.3" cy="191.4" r="0.68"/>
<circle cx="367.4" cy="196.8" r="0.68"/>
<circle cx="422.2" cy="196.4" r="0.68"/>
<circle cx="413.6" cy="193.2" r="0.68"/>
<circle cx="357.0" cy="197.4" r="0.68"/>
<circle cx="364.8" cy="194.7" r="0.68"/>
<circle cx="358.8" cy="193.0" r="0.68"/>
<circle cx="423.1" cy="196.6" r="0.68"/>
<circle cx="337.9" cy="196.7" r="0.68"/>
<circle cx="346.2" cy="193.9" r="0.68"/>
<circle cx="417.6" cy="196.8" r="0.68"/>
<circle cx="352.5" cy="193.4" r="0.68"/>
<circle cx="355.6" cy="197.6" r="0.68"/>
<circle cx="426.0" cy="191.5" r="0.68"/>
<circle cx="443.3" cy="191.6" r="0.68"/>
<circle cx="351.5" cy="195.6" r="0.68"/>
<circle cx="411.4" cy="193.4" r="0.68"/>
<circle cx="415.4" cy="193.8" r="0.68"/>
<circle cx="354.8" cy="196.1" r="0.68"/>
<circle cx="331.7" cy="197.4" r="0.68"/>
<circle cx="408.5" cy="197.2" r="0.68"/>
<circle cx="454.1" cy="190.9" r="0.68"/>
<circle cx="341.3" cy="190.8" r="0.68"/>
<circle cx="415.1" cy="197.8" r="0.68"/>
<circle cx="366.4" cy="197.3" r="0.68"/>
<circle cx="356.3" cy="197.7" r="0.68"/>
<circle cx="354.5" cy="191.1" r="0.68"/>
<circle cx="455.6" cy="194.2" r="0.68"/>
<circle cx="442.6" cy="195.3" r="0.68"/>
<circle cx="435.0" cy="192.2" r="0.68"/>
<circle cx="429.6" cy="196.0" r="0.68"/>
<circle cx="411.1" cy="191.3" r="0.68"/>
<circle cx="430.8" cy="192.8" r="0.68"/>
<circle cx="433.1" cy="192.8" r="0.68"/>
<circle cx="460.7" cy="193.5" r="0.68"/>
<circle cx="420.8" cy="193.8" r="0.68"/>
<circle cx="365.0" cy="196.4" r="0.68"/>
<circle cx="429.0" cy="193.2" r="0.68"/>
<circle cx="319.0" cy="196.3" r="0.68"/>
<circle cx="414.3" cy="194.9" r="0.68"/>
<circle cx="423.7" cy="194.4" r="0.68"/>
<circle cx="335.9" cy="192.8" r="0.68"/>
<circle cx="469.1" cy="197.1" r="0.68"/>
<circle cx="413.9" cy="193.4" r="0.68"/>
<circle cx="413.3" cy="194.2" r="0.68"/>
<circle cx="453.4" cy="194.7" r="0.68"/>
<circle cx="444.3" cy="193.0" r="0.68"/>
<circle cx="443.1" cy="190.6" r="0.68"/>
<circle cx="329.7" cy="196.3" r="0.68"/>
<circle cx="354.5" cy="191.9" r="0.68"/>
<circle cx="461.5" cy="196.2" r="0.68"/>
<circle cx="430.3" cy="193.6" r="0.68"/>
<circle cx="456.7" cy="191.1" r="0.68"/>
<circle cx="332.7" cy="190.8" r="0.68"/>
<circle cx="363.7" cy="193.4" r="0.68"/>
<circle cx="435.0" cy="195.7" r="0.68"/>
<circle cx="366.0" cy="191.3" r="0.68"/>
<circle cx="441.0" cy="190.8" r="0.68"/>
<circle cx="333.1" cy="193.3" r="0.68"/>
<circle cx="303.6" cy="197.1" r="0.68"/>
<circle cx="487.0" cy="197.1" r="0.68"/>
<circle cx="303.6" cy="195.8" r="0.68"/>
<circle cx="487.0" cy="195.8" r="0.68"/>
<circle cx="303.6" cy="194.5" r="0.68"/>
<circle cx="487.0" cy="194.5" r="0.68"/>
<circle cx="303.6" cy="193.2" r="0.68"/>
<circle cx="487.0" cy="193.2" r="0.68"/>
<circle cx="303.6" cy="191.9" r="0.68"/>
<circle cx="487.0" cy="191.9" r="0.68"/>
<circle cx="303.6" cy="190.6" r="0.68"/>
<circle cx="487.0" cy="190.6" r="0.68"/>
</g>
<g stroke="#555" stroke-width="0.6" stroke-dasharray="1.6,1.2">
<line x1="367.65" y1="11.50" x2="367.65" y2="202.60" stroke="#777777" stroke-width="1.0" stroke-dasharray="2.2,2.15"/>
<line x1="405.35" y1="11.50" x2="405.35" y2="202.60" stroke="#777777" stroke-width="1.0" stroke-dasharray="2.2,2.15"/>
<line x1="296.50" y1="189.29" x2="497.30" y2="189.29" stroke="#7a7a7a" stroke-width="1.0" stroke-dasharray="1.7,2.45"/>
</g>
<circle cx="335.00" cy="135.60" r="1.05" fill="#1515f5" />
<circle cx="364.60" cy="140.00" r="1.05" fill="#1515f5" />
<circle cx="355.60" cy="163.60" r="1.05" fill="#1515f5" />
<circle cx="361.00" cy="162.40" r="1.05" fill="#1515f5" />
<circle cx="352.60" cy="170.00" r="1.05" fill="#1515f5" />
<circle cx="359.00" cy="171.60" r="1.05" fill="#1515f5" />
<circle cx="362.00" cy="174.00" r="1.05" fill="#1515f5" />
<circle cx="365.00" cy="172.40" r="1.05" fill="#1515f5" />
<circle cx="367.60" cy="171.60" r="1.05" fill="#1515f5" />
<circle cx="352.00" cy="177.00" r="1.05" fill="#1515f5" />
<circle cx="355.00" cy="180.00" r="1.05" fill="#1515f5" />
<circle cx="360.00" cy="178.00" r="1.05" fill="#1515f5" />
<circle cx="363.00" cy="181.00" r="1.05" fill="#1515f5" />
<circle cx="366.00" cy="180.00" r="1.05" fill="#1515f5" />
<circle cx="367.00" cy="182.00" r="1.05" fill="#1515f5" />
<circle cx="339.60" cy="178.40" r="1.05" fill="#1515f5" />
<circle cx="339.00" cy="188.00" r="1.05" fill="#1515f5" />
<circle cx="346.00" cy="188.40" r="1.05" fill="#1515f5" />
<circle cx="349.00" cy="187.60" r="1.05" fill="#1515f5" />
<circle cx="352.60" cy="186.00" r="1.05" fill="#1515f5" />
<circle cx="358.00" cy="187.00" r="1.05" fill="#1515f5" />
<circle cx="361.00" cy="185.00" r="1.05" fill="#1515f5" />
<circle cx="364.00" cy="184.00" r="1.05" fill="#1515f5" />
<circle cx="365.60" cy="186.00" r="1.05" fill="#1515f5" />
<circle cx="367.00" cy="188.00" r="1.05" fill="#1515f5" />
<circle cx="362.00" cy="189.00" r="1.05" fill="#1515f5" />
<circle cx="365.00" cy="189.00" r="1.05" fill="#1515f5" />
<circle cx="366.00" cy="184.50" r="1.05" fill="#1515f5" />
<circle cx="367.20" cy="186.50" r="1.05" fill="#1515f5" />
<circle cx="364.50" cy="187.50" r="1.05" fill="#1515f5" />
<circle cx="366.50" cy="178.00" r="1.05" fill="#1515f5" />
<circle cx="357.00" cy="183.00" r="1.05" fill="#1515f5" />
<circle cx="368.00" cy="176.00" r="1.05" fill="#1515f5" />
<circle cx="368.00" cy="185.00" r="1.05" fill="#1515f5" />
<circle cx="368.00" cy="189.00" r="1.05" fill="#1515f5" />
<circle cx="305.00" cy="183.00" r="1.05" fill="#1515f5" />
<circle cx="305.00" cy="187.70" r="1.05" fill="#1515f5" />
<circle cx="326.18" cy="91.04" r="1.05" fill="#1515f5" />
<circle cx="366.71" cy="108.07" r="1.05" fill="#1515f5" />
<circle cx="418.30" cy="27.80" r="1.05" fill="#f51010" />
<circle cx="407.40" cy="75.30" r="1.05" fill="#f51010" />
<circle cx="422.60" cy="76.40" r="1.05" fill="#f51010" />
<circle cx="406.00" cy="109.00" r="1.05" fill="#f51010" />
<circle cx="427.80" cy="107.70" r="1.05" fill="#f51010" />
<circle cx="422.00" cy="117.50" r="1.05" fill="#f51010" />
<circle cx="412.30" cy="124.20" r="1.05" fill="#f51010" />
<circle cx="406.80" cy="133.50" r="1.05" fill="#f51010" />
<circle cx="405.50" cy="149.50" r="1.05" fill="#f51010" />
<circle cx="410.00" cy="149.80" r="1.05" fill="#f51010" />
<circle cx="409.00" cy="157.00" r="1.05" fill="#f51010" />
<circle cx="424.80" cy="157.00" r="1.05" fill="#f51010" />
<circle cx="423.50" cy="163.50" r="1.05" fill="#f51010" />
<circle cx="405.50" cy="167.30" r="1.05" fill="#f51010" />
<circle cx="427.30" cy="168.00" r="1.05" fill="#f51010" />
<circle cx="432.00" cy="172.00" r="1.05" fill="#f51010" />
<circle cx="412.00" cy="173.80" r="1.05" fill="#f51010" />
<circle cx="432.70" cy="178.70" r="1.05" fill="#f51010" />
<circle cx="413.60" cy="177.60" r="1.05" fill="#f51010" />
<circle cx="410.00" cy="177.60" r="1.05" fill="#f51010" />
<circle cx="407.00" cy="180.00" r="1.05" fill="#f51010" />
<circle cx="417.00" cy="179.00" r="1.05" fill="#f51010" />
<circle cx="406.00" cy="184.00" r="1.05" fill="#f51010" />
<circle cx="409.00" cy="185.00" r="1.05" fill="#f51010" />
<circle cx="412.00" cy="184.00" r="1.05" fill="#f51010" />
<circle cx="418.00" cy="184.00" r="1.05" fill="#f51010" />
<circle cx="424.00" cy="183.60" r="1.05" fill="#f51010" />
<circle cx="429.00" cy="184.40" r="1.05" fill="#f51010" />
<circle cx="406.00" cy="188.00" r="1.05" fill="#f51010" />
<circle cx="410.00" cy="188.00" r="1.05" fill="#f51010" />
<circle cx="414.00" cy="188.00" r="1.05" fill="#f51010" />
<circle cx="417.00" cy="189.00" r="1.05" fill="#f51010" />
<circle cx="420.00" cy="188.00" r="1.05" fill="#f51010" />
<circle cx="426.00" cy="188.00" r="1.05" fill="#f51010" />
<circle cx="430.00" cy="187.00" r="1.05" fill="#f51010" />
<circle cx="408.00" cy="187.00" r="1.05" fill="#f51010" />
<circle cx="406.60" cy="182.00" r="1.05" fill="#f51010" />
<circle cx="440.40" cy="186.40" r="1.05" fill="#f51010" />
<circle cx="454.50" cy="187.00" r="1.05" fill="#f51010" />
<circle cx="486.70" cy="185.30" r="1.05" fill="#f51010" />
<circle cx="406.00" cy="186.00" r="1.05" fill="#f51010" />
<circle cx="406.00" cy="190.00" r="1.05" fill="#f51010" />
<circle cx="411.00" cy="190.00" r="1.05" fill="#f51010" />
<circle cx="415.00" cy="186.00" r="1.05" fill="#f51010" />
<rect x="296.5" y="11.5" width="200.8" height="191.1" fill="none" stroke="#555" stroke-width="0.9"/>
<line x1="294.00" y1="197.80" x2="296.50" y2="197.80" stroke="#555" stroke-width="0.7" />
<text x="292.60" y="199.70" font-size="5.2" text-anchor="end" font-weight="normal" fill="#333" stroke="#333" stroke-width="0.12" >0</text>
<line x1="294.00" y1="165.05" x2="296.50" y2="165.05" stroke="#555" stroke-width="0.7" />
<text x="292.60" y="166.95" font-size="5.2" text-anchor="end" font-weight="normal" fill="#333" stroke="#333" stroke-width="0.12" >5</text>
<line x1="294.00" y1="132.30" x2="296.50" y2="132.30" stroke="#555" stroke-width="0.7" />
<text x="292.60" y="134.20" font-size="5.2" text-anchor="end" font-weight="normal" fill="#333" stroke="#333" stroke-width="0.12" >10</text>
<line x1="294.00" y1="99.55" x2="296.50" y2="99.55" stroke="#555" stroke-width="0.7" />
<text x="292.60" y="101.45" font-size="5.2" text-anchor="end" font-weight="normal" fill="#333" stroke="#333" stroke-width="0.12" >15</text>
<line x1="294.00" y1="66.80" x2="296.50" y2="66.80" stroke="#555" stroke-width="0.7" />
<text x="292.60" y="68.70" font-size="5.2" text-anchor="end" font-weight="normal" fill="#333" stroke="#333" stroke-width="0.12" >20</text>
<line x1="294.00" y1="34.05" x2="296.50" y2="34.05" stroke="#555" stroke-width="0.7" />
<text x="292.60" y="35.95" font-size="5.2" text-anchor="end" font-weight="normal" fill="#333" stroke="#333" stroke-width="0.12" >25</text>
<line x1="311.10" y1="202.60" x2="311.10" y2="205.10" stroke="#555" stroke-width="0.7" />
<text x="311.10" y="209.90" font-size="5.3" text-anchor="middle" font-weight="normal" fill="#333" stroke="#333" stroke-width="0.12" >-4</text>
<line x1="348.80" y1="202.60" x2="348.80" y2="205.10" stroke="#555" stroke-width="0.7" />
<text x="348.80" y="209.90" font-size="5.3" text-anchor="middle" font-weight="normal" fill="#333" stroke="#333" stroke-width="0.12" >-2</text>
<line x1="386.50" y1="202.60" x2="386.50" y2="205.10" stroke="#555" stroke-width="0.7" />
<text x="386.50" y="209.90" font-size="5.3" text-anchor="middle" font-weight="normal" fill="#333" stroke="#333" stroke-width="0.12" >0</text>
<line x1="424.20" y1="202.60" x2="424.20" y2="205.10" stroke="#555" stroke-width="0.7" />
<text x="424.20" y="209.90" font-size="5.3" text-anchor="middle" font-weight="normal" fill="#333" stroke="#333" stroke-width="0.12" >2</text>
<line x1="461.90" y1="202.60" x2="461.90" y2="205.10" stroke="#555" stroke-width="0.7" />
<text x="461.90" y="209.90" font-size="5.3" text-anchor="middle" font-weight="normal" fill="#333" stroke="#333" stroke-width="0.12" >4</text>
<text x="388.10" y="220.50" font-size="6.5" text-anchor="middle" font-weight="normal" fill="#222" stroke="#222" stroke-width="0.12" >log2(FoldChange)</text>
<text x="0.00" y="0.00" font-size="6.5" text-anchor="middle" font-weight="normal" fill="#222" stroke="#222" stroke-width="0.12" transform="translate(281.0,105.2) rotate(-90)">-log10(pvalue)</text>
<circle cx="505.80" cy="28.40" r="0.70" fill="#b0b0b0" />
<text x="509.70" y="29.80" font-size="4.8" text-anchor="start" font-weight="normal" fill="#333" stroke="#333" stroke-width="0.12" >Nodiff</text>
<circle cx="505.80" cy="37.10" r="1.10" fill="#1515f5" />
<text x="509.70" y="38.80" font-size="4.8" text-anchor="start" font-weight="normal" fill="#333" stroke="#333" stroke-width="0.12" >Down</text>
<circle cx="505.80" cy="45.50" r="1.10" fill="#f51010" />
<text x="509.70" y="47.20" font-size="4.8" text-anchor="start" font-weight="normal" fill="#333" stroke="#333" stroke-width="0.12" >Up</text>
<text x="5.90" y="247.70" font-size="12.8" text-anchor="start" font-weight="bold" fill="#111" stroke="#111" stroke-width="0" >C</text>
<g shape-rendering="crispEdges">
<rect x="38.05" y="258.80" width="31.39" height="2.04" fill="#ff1a1a" />
<rect x="38.05" y="260.79" width="31.39" height="2.04" fill="#ff1a1a" />
<rect x="38.05" y="262.78" width="31.39" height="2.04" fill="#ff1a1a" />
<rect x="38.05" y="264.77" width="31.39" height="2.04" fill="#ff2020" />
<rect x="38.05" y="266.76" width="31.39" height="2.04" fill="#ff2020" />
<rect x="38.05" y="268.75" width="31.39" height="2.04" fill="#ff2020" />
<rect x="38.05" y="270.73" width="31.39" height="2.04" fill="#ffc8c8" />
<rect x="38.05" y="272.72" width="31.39" height="2.04" fill="#ff4848" />
<rect x="38.05" y="274.71" width="31.39" height="2.04" fill="#ff4848" />
<rect x="38.05" y="276.70" width="31.39" height="2.04" fill="#ff4848" />
<rect x="38.05" y="278.69" width="31.39" height="2.04" fill="#ff4848" />
<rect x="38.05" y="280.68" width="31.39" height="2.04" fill="#ff4848" />
<rect x="38.05" y="282.67" width="31.39" height="2.04" fill="#ffb8b8" />
<rect x="38.05" y="284.66" width="31.39" height="2.04" fill="#ffb8b8" />
<rect x="38.05" y="286.65" width="31.39" height="2.04" fill="#ffd8d8" />
<rect x="38.05" y="288.63" width="31.39" height="2.04" fill="#ffa8a8" />
<rect x="38.05" y="290.62" width="31.39" height="2.04" fill="#ffa8a8" />
<rect x="38.05" y="292.61" width="31.39" height="2.04" fill="#ffd0d0" />
<rect x="38.05" y="294.60" width="31.39" height="2.04" fill="#ff6868" />
<rect x="38.05" y="296.59" width="31.39" height="2.04" fill="#ff6868" />
<rect x="38.05" y="298.58" width="31.39" height="2.04" fill="#c8c8ff" />
<rect x="38.05" y="300.57" width="31.39" height="2.04" fill="#ffffff" />
<rect x="38.05" y="302.56" width="31.39" height="2.04" fill="#ffa0a0" />
<rect x="38.05" y="304.55" width="31.39" height="2.04" fill="#ffa8a8" />
<rect x="38.05" y="306.54" width="31.39" height="2.04" fill="#7070ff" />
<rect x="38.05" y="308.52" width="31.39" height="2.04" fill="#ffb0b0" />
<rect x="38.05" y="310.51" width="31.39" height="2.04" fill="#ffb0b0" />
<rect x="38.05" y="312.50" width="31.39" height="2.04" fill="#ffb0b0" />
<rect x="38.05" y="314.49" width="31.39" height="2.04" fill="#fff0f0" />
<rect x="38.05" y="316.48" width="31.39" height="2.04" fill="#fff0f0" />
<rect x="38.05" y="318.47" width="31.39" height="2.04" fill="#ffc0c0" />
<rect x="38.05" y="320.46" width="31.39" height="2.04" fill="#e0e0ff" />
<rect x="38.05" y="322.45" width="31.39" height="2.04" fill="#e0e0ff" />
<rect x="38.05" y="324.44" width="31.39" height="2.04" fill="#f0f0ff" />
<rect x="38.05" y="326.43" width="31.39" height="2.04" fill="#f0f0ff" />
<rect x="38.05" y="328.42" width="31.39" height="2.04" fill="#f0f0ff" />
<rect x="38.05" y="330.40" width="31.39" height="2.04" fill="#ffb0b0" />
<rect x="38.05" y="332.39" width="31.39" height="2.04" fill="#ffb0b0" />
<rect x="38.05" y="334.38" width="31.39" height="2.04" fill="#ff6060" />
<rect x="38.05" y="336.37" width="31.39" height="2.04" fill="#ff6060" />
<rect x="38.05" y="338.36" width="31.39" height="2.04" fill="#ff6060" />
<rect x="38.05" y="340.35" width="31.39" height="2.04" fill="#ffa0a0" />
<rect x="38.05" y="342.34" width="31.39" height="2.04" fill="#ff6868" />
<rect x="38.05" y="344.33" width="31.39" height="2.04" fill="#ff6868" />
<rect x="38.05" y="346.32" width="31.39" height="2.04" fill="#ffb0b0" />
<rect x="38.05" y="348.31" width="31.39" height="2.04" fill="#ffb0b0" />
<rect x="38.05" y="350.29" width="31.39" height="2.04" fill="#ff9090" />
<rect x="38.05" y="352.28" width="31.39" height="2.04" fill="#ff9090" />
<rect x="38.05" y="354.27" width="31.39" height="2.04" fill="#3030ff" />
<rect x="38.05" y="356.26" width="31.39" height="2.04" fill="#3030ff" />
<rect x="38.05" y="358.25" width="31.39" height="2.04" fill="#3030ff" />
<rect x="38.05" y="360.24" width="31.39" height="2.04" fill="#3030ff" />
<rect x="38.05" y="362.23" width="31.39" height="2.04" fill="#7a7aff" />
<rect x="38.05" y="364.22" width="31.39" height="2.04" fill="#4545ff" />
<rect x="38.05" y="366.21" width="31.39" height="2.04" fill="#4545ff" />
<rect x="38.05" y="368.19" width="31.39" height="2.04" fill="#5a5aff" />
<rect x="38.05" y="370.18" width="31.39" height="2.04" fill="#5a5aff" />
<rect x="38.05" y="372.17" width="31.39" height="2.04" fill="#5a5aff" />
<rect x="38.05" y="374.16" width="31.39" height="2.04" fill="#5a5aff" />
<rect x="38.05" y="376.15" width="31.39" height="2.04" fill="#5a5aff" />
<rect x="38.05" y="378.14" width="31.39" height="2.04" fill="#5050ff" />
<rect x="38.05" y="380.13" width="31.39" height="2.04" fill="#7070ff" />
<rect x="38.05" y="382.12" width="31.39" height="2.04" fill="#7070ff" />
<rect x="38.05" y="384.11" width="31.39" height="2.04" fill="#7070ff" />
<rect x="38.05" y="386.10" width="31.39" height="2.04" fill="#7070ff" />
<rect x="38.05" y="388.09" width="31.39" height="2.04" fill="#1a1aff" />
<rect x="38.05" y="390.07" width="31.39" height="2.04" fill="#1a1aff" />
<rect x="38.05" y="392.06" width="31.39" height="2.04" fill="#3838ff" />
<rect x="38.05" y="394.05" width="31.39" height="2.04" fill="#3838ff" />
<rect x="38.05" y="396.04" width="31.39" height="2.04" fill="#3838ff" />
<rect x="38.05" y="398.03" width="31.39" height="2.04" fill="#6a6aff" />
<rect x="38.05" y="400.02" width="31.39" height="2.04" fill="#6a6aff" />
<rect x="38.05" y="402.01" width="31.39" height="2.04" fill="#5a5aff" />
<rect x="38.05" y="404.00" width="31.39" height="2.04" fill="#5a5aff" />
<rect x="38.05" y="405.99" width="31.39" height="2.04" fill="#5a5aff" />
<rect x="38.05" y="407.98" width="31.39" height="2.04" fill="#3030ff" />
<rect x="38.05" y="409.96" width="31.39" height="2.04" fill="#8080ff" />
<rect x="38.05" y="411.95" width="31.39" height="2.04" fill="#8080ff" />
<rect x="38.05" y="413.94" width="31.39" height="2.04" fill="#5050ff" />
<rect x="38.05" y="415.93" width="31.39" height="2.04" fill="#5050ff" />
<rect x="38.05" y="417.92" width="31.39" height="2.04" fill="#7070ff" />
<rect x="38.05" y="419.91" width="31.39" height="2.04" fill="#7070ff" />
<rect x="38.05" y="421.90" width="31.39" height="2.04" fill="#fafaff" />
<rect x="38.05" y="423.89" width="31.39" height="2.04" fill="#fafaff" />
<rect x="38.05" y="425.88" width="31.39" height="2.04" fill="#ffd8c0" />
<rect x="38.05" y="427.87" width="31.39" height="2.04" fill="#8080ff" />
<rect x="38.05" y="429.85" width="31.39" height="2.04" fill="#5a5aff" />
<rect x="38.05" y="431.84" width="31.39" height="2.04" fill="#5a5aff" />
<rect x="38.05" y="433.83" width="31.39" height="2.04" fill="#5050ff" />
<rect x="38.05" y="435.82" width="31.39" height="2.04" fill="#5050ff" />
<rect x="38.05" y="437.81" width="31.39" height="2.04" fill="#5050ff" />
<rect x="38.05" y="439.80" width="31.39" height="2.04" fill="#e0e0ff" />
<rect x="38.05" y="441.79" width="31.39" height="2.04" fill="#e0e0ff" />
<rect x="38.05" y="443.78" width="31.39" height="2.04" fill="#6a6aff" />
<rect x="38.05" y="445.77" width="31.39" height="2.04" fill="#6a6aff" />
<rect x="38.05" y="447.75" width="31.39" height="2.04" fill="#6a6aff" />
<rect x="38.05" y="449.74" width="31.39" height="2.04" fill="#2a2aff" />
<rect x="38.05" y="451.73" width="31.39" height="2.04" fill="#2a2aff" />
<rect x="38.05" y="453.72" width="31.39" height="2.04" fill="#f8f8ff" />
<rect x="38.05" y="455.71" width="31.39" height="2.04" fill="#f8f8ff" />
<rect x="69.39" y="258.80" width="31.39" height="2.04" fill="#b8b8ff" />
<rect x="69.39" y="260.79" width="31.39" height="2.04" fill="#b8b8ff" />
<rect x="69.39" y="262.78" width="31.39" height="2.04" fill="#b8b8ff" />
<rect x="69.39" y="264.77" width="31.39" height="2.04" fill="#ffc8c8" />
<rect x="69.39" y="266.76" width="31.39" height="2.04" fill="#ffc8c8" />
<rect x="69.39" y="268.75" width="31.39" height="2.04" fill="#ffc8c8" />
<rect x="69.39" y="270.73" width="31.39" height="2.04" fill="#ffa0a0" />
<rect x="69.39" y="272.72" width="31.39" height="2.04" fill="#ff9090" />
<rect x="69.39" y="274.71" width="31.39" height="2.04" fill="#ff9090" />
<rect x="69.39" y="276.70" width="31.39" height="2.04" fill="#ff9090" />
<rect x="69.39" y="278.69" width="31.39" height="2.04" fill="#ff9090" />
<rect x="69.39" y="280.68" width="31.39" height="2.04" fill="#ff6060" />
<rect x="69.39" y="282.67" width="31.39" height="2.04" fill="#ff6060" />
<rect x="69.39" y="284.66" width="31.39" height="2.04" fill="#ff4040" />
<rect x="69.39" y="286.65" width="31.39" height="2.04" fill="#ff4040" />
<rect x="69.39" y="288.63" width="31.39" height="2.04" fill="#ff4040" />
<rect x="69.39" y="290.62" width="31.39" height="2.04" fill="#ff4040" />
<rect x="69.39" y="292.61" width="31.39" height="2.04" fill="#ff4040" />
<rect x="69.39" y="294.60" width="31.39" height="2.04" fill="#ff7070" />
<rect x="69.39" y="296.59" width="31.39" height="2.04" fill="#ff7070" />
<rect x="69.39" y="298.58" width="31.39" height="2.04" fill="#ff1010" />
<rect x="69.39" y="300.57" width="31.39" height="2.04" fill="#ff1010" />
<rect x="69.39" y="302.56" width="31.39" height="2.04" fill="#ff1010" />
<rect x="69.39" y="304.55" width="31.39" height="2.04" fill="#ff2020" />
<rect x="69.39" y="306.54" width="31.39" height="2.04" fill="#ffa0a0" />
<rect x="69.39" y="308.52" width="31.39" height="2.04" fill="#ffa0a0" />
<rect x="69.39" y="310.51" width="31.39" height="2.04" fill="#ffa0a0" />
<rect x="69.39" y="312.50" width="31.39" height="2.04" fill="#ffa0a0" />
<rect x="69.39" y="314.49" width="31.39" height="2.04" fill="#ff8080" />
<rect x="69.39" y="316.48" width="31.39" height="2.04" fill="#ff8080" />
<rect x="69.39" y="318.47" width="31.39" height="2.04" fill="#ff3030" />
<rect x="69.39" y="320.46" width="31.39" height="2.04" fill="#ff3030" />
<rect x="69.39" y="322.45" width="31.39" height="2.04" fill="#ff3030" />
<rect x="69.39" y="324.44" width="31.39" height="2.04" fill="#ff3030" />
<rect x="69.39" y="326.43" width="31.39" height="2.04" fill="#ff3030" />
<rect x="69.39" y="328.42" width="31.39" height="2.04" fill="#ff3030" />
<rect x="69.39" y="330.40" width="31.39" height="2.04" fill="#ffd0d0" />
<rect x="69.39" y="332.39" width="31.39" height="2.04" fill="#ffd0d0" />
<rect x="69.39" y="334.38" width="31.39" height="2.04" fill="#ffffff" />
<rect x="69.39" y="336.37" width="31.39" height="2.04" fill="#ffffff" />
<rect x="69.39" y="338.36" width="31.39" height="2.04" fill="#ffffff" />
<rect x="69.39" y="340.35" width="31.39" height="2.04" fill="#e8e8ff" />
<rect x="69.39" y="342.34" width="31.39" height="2.04" fill="#ffd8d8" />
<rect x="69.39" y="344.33" width="31.39" height="2.04" fill="#ffd8d8" />
<rect x="69.39" y="346.32" width="31.39" height="2.04" fill="#ff9a9a" />
<rect x="69.39" y="348.31" width="31.39" height="2.04" fill="#ff9a9a" />
<rect x="69.39" y="350.29" width="31.39" height="2.04" fill="#ffb0b0" />
<rect x="69.39" y="352.28" width="31.39" height="2.04" fill="#ffc0c0" />
<rect x="69.39" y="354.27" width="31.39" height="2.04" fill="#a8a8ff" />
<rect x="69.39" y="356.26" width="31.39" height="2.04" fill="#6060ff" />
<rect x="69.39" y="358.25" width="31.39" height="2.04" fill="#6060ff" />
<rect x="69.39" y="360.24" width="31.39" height="2.04" fill="#6060ff" />
<rect x="69.39" y="362.23" width="31.39" height="2.04" fill="#6060ff" />
<rect x="69.39" y="364.22" width="31.39" height="2.04" fill="#6060ff" />
<rect x="69.39" y="366.21" width="31.39" height="2.04" fill="#a0a0ff" />
<rect x="69.39" y="368.19" width="31.39" height="2.04" fill="#a0a0ff" />
<rect x="69.39" y="370.18" width="31.39" height="2.04" fill="#7070ff" />
<rect x="69.39" y="372.17" width="31.39" height="2.04" fill="#7070ff" />
<rect x="69.39" y="374.16" width="31.39" height="2.04" fill="#8a8aff" />
<rect x="69.39" y="376.15" width="31.39" height="2.04" fill="#8a8aff" />
<rect x="69.39" y="378.14" width="31.39" height="2.04" fill="#8080ff" />
<rect x="69.39" y="380.13" width="31.39" height="2.04" fill="#5555ff" />
<rect x="69.39" y="382.12" width="31.39" height="2.04" fill="#5555ff" />
<rect x="69.39" y="384.11" width="31.39" height="2.04" fill="#5555ff" />
<rect x="69.39" y="386.10" width="31.39" height="2.04" fill="#5555ff" />
<rect x="69.39" y="388.09" width="31.39" height="2.04" fill="#7070ff" />
<rect x="69.39" y="390.07" width="31.39" height="2.04" fill="#7070ff" />
<rect x="69.39" y="392.06" width="31.39" height="2.04" fill="#7070ff" />
<rect x="69.39" y="394.05" width="31.39" height="2.04" fill="#7070ff" />
<rect x="69.39" y="396.04" width="31.39" height="2.04" fill="#a0a0ff" />
<rect x="69.39" y="398.03" width="31.39" height="2.04" fill="#a0a0ff" />
<rect x="69.39" y="400.02" width="31.39" height="2.04" fill="#9090ff" />
<rect x="69.39" y="402.01" width="31.39" height="2.04" fill="#9090ff" />
<rect x="69.39" y="404.00" width="31.39" height="2.04" fill="#9090ff" />
<rect x="69.39" y="405.99" width="31.39" height="2.04" fill="#9090ff" />
<rect x="69.39" y="407.98" width="31.39" height="2.04" fill="#f0f0ff" />
<rect x="69.39" y="409.96" width="31.39" height="2.04" fill="#f0f0ff" />
<rect x="69.39" y="411.95" width="31.39" height="2.04" fill="#7a7aff" />
<rect x="69.39" y="413.94" width="31.39" height="2.04" fill="#7a7aff" />
<rect x="69.39" y="415.93" width="31.39" height="2.04" fill="#7a7aff" />
<rect x="69.39" y="417.92" width="31.39" height="2.04" fill="#6a6aff" />
<rect x="69.39" y="419.91" width="31.39" height="2.04" fill="#6a6aff" />
<rect x="69.39" y="421.90" width="31.39" height="2.04" fill="#6a6aff" />
<rect x="69.39" y="423.89" width="31.39" height="2.04" fill="#6a6aff" />
<rect x="69.39" y="425.88" width="31.39" height="2.04" fill="#6a6aff" />
<rect x="69.39" y="427.87" width="31.39" height="2.04" fill="#b0b0ff" />
<rect x="69.39" y="429.85" width="31.39" height="2.04" fill="#b0b0ff" />
<rect x="69.39" y="431.84" width="31.39" height="2.04" fill="#b0b0ff" />
<rect x="69.39" y="433.83" width="31.39" height="2.04" fill="#e8e8ff" />
<rect x="69.39" y="435.82" width="31.39" height="2.04" fill="#e8e8ff" />
<rect x="69.39" y="437.81" width="31.39" height="2.04" fill="#e8e8ff" />
<rect x="69.39" y="439.80" width="31.39" height="2.04" fill="#e8e8ff" />
<rect x="69.39" y="441.79" width="31.39" height="2.04" fill="#5a5aff" />
<rect x="69.39" y="443.78" width="31.39" height="2.04" fill="#6a6aff" />
<rect x="69.39" y="445.77" width="31.39" height="2.04" fill="#6a6aff" />
<rect x="69.39" y="447.75" width="31.39" height="2.04" fill="#6a6aff" />
<rect x="69.39" y="449.74" width="31.39" height="2.04" fill="#6a6aff" />
<rect x="69.39" y="451.73" width="31.39" height="2.04" fill="#6a6aff" />
<rect x="69.39" y="453.72" width="31.39" height="2.04" fill="#1010ff" />
<rect x="69.39" y="455.71" width="31.39" height="2.04" fill="#1010ff" />
<rect x="100.73" y="258.80" width="31.39" height="2.04" fill="#ffb0b0" />
<rect x="100.73" y="260.79" width="31.39" height="2.04" fill="#ffb0b0" />
<rect x="100.73" y="262.78" width="31.39" height="2.04" fill="#ffd8d8" />
<rect x="100.73" y="264.77" width="31.39" height="2.04" fill="#ffd8d8" />
<rect x="100.73" y="266.76" width="31.39" height="2.04" fill="#fff0f0" />
<rect x="100.73" y="268.75" width="31.39" height="2.04" fill="#fff0f0" />
<rect x="100.73" y="270.73" width="31.39" height="2.04" fill="#ffc0c0" />
<rect x="100.73" y="272.72" width="31.39" height="2.04" fill="#ffe8e8" />
<rect x="100.73" y="274.71" width="31.39" height="2.04" fill="#ffe8e8" />
<rect x="100.73" y="276.70" width="31.39" height="2.04" fill="#e8e8ff" />
<rect x="100.73" y="278.69" width="31.39" height="2.04" fill="#e8e8ff" />
<rect x="100.73" y="280.68" width="31.39" height="2.04" fill="#ffffff" />
<rect x="100.73" y="282.67" width="31.39" height="2.04" fill="#ffffff" />
<rect x="100.73" y="284.66" width="31.39" height="2.04" fill="#ff9898" />
<rect x="100.73" y="286.65" width="31.39" height="2.04" fill="#ff9898" />
<rect x="100.73" y="288.63" width="31.39" height="2.04" fill="#ff9898" />
<rect x="100.73" y="290.62" width="31.39" height="2.04" fill="#ff9898" />
<rect x="100.73" y="292.61" width="31.39" height="2.04" fill="#ffd0d0" />
<rect x="100.73" y="294.60" width="31.39" height="2.04" fill="#ffd0d0" />
<rect x="100.73" y="296.59" width="31.39" height="2.04" fill="#ffa0a0" />
<rect x="100.73" y="298.58" width="31.39" height="2.04" fill="#ffa0a0" />
<rect x="100.73" y="300.57" width="31.39" height="2.04" fill="#d8d8ff" />
<rect x="100.73" y="302.56" width="31.39" height="2.04" fill="#d8d8ff" />
<rect x="100.73" y="304.55" width="31.39" height="2.04" fill="#d8d8ff" />
<rect x="100.73" y="306.54" width="31.39" height="2.04" fill="#ff3838" />
<rect x="100.73" y="308.52" width="31.39" height="2.04" fill="#ff3838" />
<rect x="100.73" y="310.51" width="31.39" height="2.04" fill="#ff3838" />
<rect x="100.73" y="312.50" width="31.39" height="2.04" fill="#ff3838" />
<rect x="100.73" y="314.49" width="31.39" height="2.04" fill="#ff3838" />
<rect x="100.73" y="316.48" width="31.39" height="2.04" fill="#ff3838" />
<rect x="100.73" y="318.47" width="31.39" height="2.04" fill="#ff5050" />
<rect x="100.73" y="320.46" width="31.39" height="2.04" fill="#ff5050" />
<rect x="100.73" y="322.45" width="31.39" height="2.04" fill="#ff5050" />
<rect x="100.73" y="324.44" width="31.39" height="2.04" fill="#ff8888" />
<rect x="100.73" y="326.43" width="31.39" height="2.04" fill="#ff8888" />
<rect x="100.73" y="328.42" width="31.39" height="2.04" fill="#ff8888" />
<rect x="100.73" y="330.40" width="31.39" height="2.04" fill="#ff5050" />
<rect x="100.73" y="332.39" width="31.39" height="2.04" fill="#ff5050" />
<rect x="100.73" y="334.38" width="31.39" height="2.04" fill="#ff5050" />
<rect x="100.73" y="336.37" width="31.39" height="2.04" fill="#ff5050" />
<rect x="100.73" y="338.36" width="31.39" height="2.04" fill="#ff5050" />
<rect x="100.73" y="340.35" width="31.39" height="2.04" fill="#ff2020" />
<rect x="100.73" y="342.34" width="31.39" height="2.04" fill="#ff7878" />
<rect x="100.73" y="344.33" width="31.39" height="2.04" fill="#ff7878" />
<rect x="100.73" y="346.32" width="31.39" height="2.04" fill="#ff7878" />
<rect x="100.73" y="348.31" width="31.39" height="2.04" fill="#ff7878" />
<rect x="100.73" y="350.29" width="31.39" height="2.04" fill="#ff7878" />
<rect x="100.73" y="352.28" width="31.39" height="2.04" fill="#ff8080" />
<rect x="100.73" y="354.27" width="31.39" height="2.04" fill="#b0b0ff" />
<rect x="100.73" y="356.26" width="31.39" height="2.04" fill="#8a8aff" />
<rect x="100.73" y="358.25" width="31.39" height="2.04" fill="#8a8aff" />
<rect x="100.73" y="360.24" width="31.39" height="2.04" fill="#8a8aff" />
<rect x="100.73" y="362.23" width="31.39" height="2.04" fill="#8a8aff" />
<rect x="100.73" y="364.22" width="31.39" height="2.04" fill="#5050ff" />
<rect x="100.73" y="366.21" width="31.39" height="2.04" fill="#5050ff" />
<rect x="100.73" y="368.19" width="31.39" height="2.04" fill="#5050ff" />
<rect x="100.73" y="370.18" width="31.39" height="2.04" fill="#5050ff" />
<rect x="100.73" y="372.17" width="31.39" height="2.04" fill="#a0a0ff" />
<rect x="100.73" y="374.16" width="31.39" height="2.04" fill="#6a6aff" />
<rect x="100.73" y="376.15" width="31.39" height="2.04" fill="#6a6aff" />
<rect x="100.73" y="378.14" width="31.39" height="2.04" fill="#6a6aff" />
<rect x="100.73" y="380.13" width="31.39" height="2.04" fill="#6a6aff" />
<rect x="100.73" y="382.12" width="31.39" height="2.04" fill="#6a6aff" />
<rect x="100.73" y="384.11" width="31.39" height="2.04" fill="#6a6aff" />
<rect x="100.73" y="386.10" width="31.39" height="2.04" fill="#6a6aff" />
<rect x="100.73" y="388.09" width="31.39" height="2.04" fill="#ffffff" />
<rect x="100.73" y="390.07" width="31.39" height="2.04" fill="#7a7aff" />
<rect x="100.73" y="392.06" width="31.39" height="2.04" fill="#7a7aff" />
<rect x="100.73" y="394.05" width="31.39" height="2.04" fill="#7a7aff" />
<rect x="100.73" y="396.04" width="31.39" height="2.04" fill="#7575ff" />
<rect x="100.73" y="398.03" width="31.39" height="2.04" fill="#7575ff" />
<rect x="100.73" y="400.02" width="31.39" height="2.04" fill="#7575ff" />
<rect x="100.73" y="402.01" width="31.39" height="2.04" fill="#7070ff" />
<rect x="100.73" y="404.00" width="31.39" height="2.04" fill="#7070ff" />
<rect x="100.73" y="405.99" width="31.39" height="2.04" fill="#7070ff" />
<rect x="100.73" y="407.98" width="31.39" height="2.04" fill="#7070ff" />
<rect x="100.73" y="409.96" width="31.39" height="2.04" fill="#7070ff" />
<rect x="100.73" y="411.95" width="31.39" height="2.04" fill="#5050ff" />
<rect x="100.73" y="413.94" width="31.39" height="2.04" fill="#5050ff" />
<rect x="100.73" y="415.93" width="31.39" height="2.04" fill="#5050ff" />
<rect x="100.73" y="417.92" width="31.39" height="2.04" fill="#5050ff" />
<rect x="100.73" y="419.91" width="31.39" height="2.04" fill="#3535ff" />
<rect x="100.73" y="421.90" width="31.39" height="2.04" fill="#3535ff" />
<rect x="100.73" y="423.89" width="31.39" height="2.04" fill="#3535ff" />
<rect x="100.73" y="425.88" width="31.39" height="2.04" fill="#3535ff" />
<rect x="100.73" y="427.87" width="31.39" height="2.04" fill="#8080ff" />
<rect x="100.73" y="429.85" width="31.39" height="2.04" fill="#8080ff" />
<rect x="100.73" y="431.84" width="31.39" height="2.04" fill="#2a2aff" />
<rect x="100.73" y="433.83" width="31.39" height="2.04" fill="#2a2aff" />
<rect x="100.73" y="435.82" width="31.39" height="2.04" fill="#2a2aff" />
<rect x="100.73" y="437.81" width="31.39" height="2.04" fill="#2a2aff" />
<rect x="100.73" y="439.80" width="31.39" height="2.04" fill="#2a2aff" />
<rect x="100.73" y="441.79" width="31.39" height="2.04" fill="#2a2aff" />
<rect x="100.73" y="443.78" width="31.39" height="2.04" fill="#8a8aff" />
<rect x="100.73" y="445.77" width="31.39" height="2.04" fill="#8a8aff" />
<rect x="100.73" y="447.75" width="31.39" height="2.04" fill="#8a8aff" />
<rect x="100.73" y="449.74" width="31.39" height="2.04" fill="#f0f0ff" />
<rect x="100.73" y="451.73" width="31.39" height="2.04" fill="#f0f0ff" />
<rect x="100.73" y="453.72" width="31.39" height="2.04" fill="#f0f0ff" />
<rect x="100.73" y="455.71" width="31.39" height="2.04" fill="#9a9aff" />
<rect x="132.07" y="258.80" width="31.39" height="2.04" fill="#6a6aff" />
<rect x="132.07" y="260.79" width="31.39" height="2.04" fill="#6a6aff" />
<rect x="132.07" y="262.78" width="31.39" height="2.04" fill="#6a6aff" />
<rect x="132.07" y="264.77" width="31.39" height="2.04" fill="#a0a0ff" />
<rect x="132.07" y="266.76" width="31.39" height="2.04" fill="#a0a0ff" />
<rect x="132.07" y="268.75" width="31.39" height="2.04" fill="#b0b0ff" />
<rect x="132.07" y="270.73" width="31.39" height="2.04" fill="#b0b0ff" />
<rect x="132.07" y="272.72" width="31.39" height="2.04" fill="#5050ff" />
<rect x="132.07" y="274.71" width="31.39" height="2.04" fill="#5050ff" />
<rect x="132.07" y="276.70" width="31.39" height="2.04" fill="#5050ff" />
<rect x="132.07" y="278.69" width="31.39" height="2.04" fill="#7070ff" />
<rect x="132.07" y="280.68" width="31.39" height="2.04" fill="#7070ff" />
<rect x="132.07" y="282.67" width="31.39" height="2.04" fill="#1010ff" />
<rect x="132.07" y="284.66" width="31.39" height="2.04" fill="#9a9aff" />
<rect x="132.07" y="286.65" width="31.39" height="2.04" fill="#9a9aff" />
<rect x="132.07" y="288.63" width="31.39" height="2.04" fill="#9a9aff" />
<rect x="132.07" y="290.62" width="31.39" height="2.04" fill="#7a7aff" />
<rect x="132.07" y="292.61" width="31.39" height="2.04" fill="#7a7aff" />
<rect x="132.07" y="294.60" width="31.39" height="2.04" fill="#8080ff" />
<rect x="132.07" y="296.59" width="31.39" height="2.04" fill="#8080ff" />
<rect x="132.07" y="298.58" width="31.39" height="2.04" fill="#e0e0ff" />
<rect x="132.07" y="300.57" width="31.39" height="2.04" fill="#8888ff" />
<rect x="132.07" y="302.56" width="31.39" height="2.04" fill="#8888ff" />
<rect x="132.07" y="304.55" width="31.39" height="2.04" fill="#b0b0ff" />
<rect x="132.07" y="306.54" width="31.39" height="2.04" fill="#5a5aff" />
<rect x="132.07" y="308.52" width="31.39" height="2.04" fill="#5a5aff" />
<rect x="132.07" y="310.51" width="31.39" height="2.04" fill="#5a5aff" />
<rect x="132.07" y="312.50" width="31.39" height="2.04" fill="#5a5aff" />
<rect x="132.07" y="314.49" width="31.39" height="2.04" fill="#8080ff" />
<rect x="132.07" y="316.48" width="31.39" height="2.04" fill="#8080ff" />
<rect x="132.07" y="318.47" width="31.39" height="2.04" fill="#3030ff" />
<rect x="132.07" y="320.46" width="31.39" height="2.04" fill="#3030ff" />
<rect x="132.07" y="322.45" width="31.39" height="2.04" fill="#7070ff" />
<rect x="132.07" y="324.44" width="31.39" height="2.04" fill="#7070ff" />
<rect x="132.07" y="326.43" width="31.39" height="2.04" fill="#6a6aff" />
<rect x="132.07" y="328.42" width="31.39" height="2.04" fill="#6a6aff" />
<rect x="132.07" y="330.40" width="31.39" height="2.04" fill="#ffd8d0" />
<rect x="132.07" y="332.39" width="31.39" height="2.04" fill="#ffd8d0" />
<rect x="132.07" y="334.38" width="31.39" height="2.04" fill="#7575ff" />
<rect x="132.07" y="336.37" width="31.39" height="2.04" fill="#7575ff" />
<rect x="132.07" y="338.36" width="31.39" height="2.04" fill="#7575ff" />
<rect x="132.07" y="340.35" width="31.39" height="2.04" fill="#7575ff" />
<rect x="132.07" y="342.34" width="31.39" height="2.04" fill="#4040ff" />
<rect x="132.07" y="344.33" width="31.39" height="2.04" fill="#4040ff" />
<rect x="132.07" y="346.32" width="31.39" height="2.04" fill="#5050ff" />
<rect x="132.07" y="348.31" width="31.39" height="2.04" fill="#5050ff" />
<rect x="132.07" y="350.29" width="31.39" height="2.04" fill="#2525ff" />
<rect x="132.07" y="352.28" width="31.39" height="2.04" fill="#2020ff" />
<rect x="132.07" y="354.27" width="31.39" height="2.04" fill="#ffd0d0" />
<rect x="132.07" y="356.26" width="31.39" height="2.04" fill="#ffd0d0" />
<rect x="132.07" y="358.25" width="31.39" height="2.04" fill="#ffd0d0" />
<rect x="132.07" y="360.24" width="31.39" height="2.04" fill="#fff0f0" />
<rect x="132.07" y="362.23" width="31.39" height="2.04" fill="#ff9090" />
<rect x="132.07" y="364.22" width="31.39" height="2.04" fill="#ff9090" />
<rect x="132.07" y="366.21" width="31.39" height="2.04" fill="#ffc8c8" />
<rect x="132.07" y="368.19" width="31.39" height="2.04" fill="#ffc8c8" />
<rect x="132.07" y="370.18" width="31.39" height="2.04" fill="#ffc8c8" />
<rect x="132.07" y="372.17" width="31.39" height="2.04" fill="#ffc8c8" />
<rect x="132.07" y="374.16" width="31.39" height="2.04" fill="#ffa0a0" />
<rect x="132.07" y="376.15" width="31.39" height="2.04" fill="#ffa0a0" />
<rect x="132.07" y="378.14" width="31.39" height="2.04" fill="#ffb0b0" />
<rect x="132.07" y="380.13" width="31.39" height="2.04" fill="#ffb0b0" />
<rect x="132.07" y="382.12" width="31.39" height="2.04" fill="#ffb0b0" />
<rect x="132.07" y="384.11" width="31.39" height="2.04" fill="#ffe0e0" />
<rect x="132.07" y="386.10" width="31.39" height="2.04" fill="#ffe0e0" />
<rect x="132.07" y="388.09" width="31.39" height="2.04" fill="#ff5050" />
<rect x="132.07" y="390.07" width="31.39" height="2.04" fill="#ff5050" />
<rect x="132.07" y="392.06" width="31.39" height="2.04" fill="#ffa0a0" />
<rect x="132.07" y="394.05" width="31.39" height="2.04" fill="#ff4040" />
<rect x="132.07" y="396.04" width="31.39" height="2.04" fill="#ff4040" />
<rect x="132.07" y="398.03" width="31.39" height="2.04" fill="#b8b8ff" />
<rect x="132.07" y="400.02" width="31.39" height="2.04" fill="#b8b8ff" />
<rect x="132.07" y="402.01" width="31.39" height="2.04" fill="#c0c0ff" />
<rect x="132.07" y="404.00" width="31.39" height="2.04" fill="#c0c0ff" />
<rect x="132.07" y="405.99" width="31.39" height="2.04" fill="#c0c0ff" />
<rect x="132.07" y="407.98" width="31.39" height="2.04" fill="#9090ff" />
<rect x="132.07" y="409.96" width="31.39" height="2.04" fill="#ff7070" />
<rect x="132.07" y="411.95" width="31.39" height="2.04" fill="#ff7070" />
<rect x="132.07" y="413.94" width="31.39" height="2.04" fill="#ff7070" />
<rect x="132.07" y="415.93" width="31.39" height="2.04" fill="#ff7070" />
<rect x="132.07" y="417.92" width="31.39" height="2.04" fill="#ffd8d8" />
<rect x="132.07" y="419.91" width="31.39" height="2.04" fill="#ffd8d8" />
<rect x="132.07" y="421.90" width="31.39" height="2.04" fill="#ffffff" />
<rect x="132.07" y="423.89" width="31.39" height="2.04" fill="#ff3030" />
<rect x="132.07" y="425.88" width="31.39" height="2.04" fill="#ffb0b0" />
<rect x="132.07" y="427.87" width="31.39" height="2.04" fill="#ffb0b0" />
<rect x="132.07" y="429.85" width="31.39" height="2.04" fill="#ff2a2a" />
<rect x="132.07" y="431.84" width="31.39" height="2.04" fill="#ff2a2a" />
<rect x="132.07" y="433.83" width="31.39" height="2.04" fill="#ff2a2a" />
<rect x="132.07" y="435.82" width="31.39" height="2.04" fill="#ff2a2a" />
<rect x="132.07" y="437.81" width="31.39" height="2.04" fill="#ff4a4a" />
<rect x="132.07" y="439.80" width="31.39" height="2.04" fill="#ff4a4a" />
<rect x="132.07" y="441.79" width="31.39" height="2.04" fill="#ff4a4a" />
<rect x="132.07" y="443.78" width="31.39" height="2.04" fill="#ffb0b0" />
<rect x="132.07" y="445.77" width="31.39" height="2.04" fill="#ff2525" />
<rect x="132.07" y="447.75" width="31.39" height="2.04" fill="#ff2525" />
<rect x="132.07" y="449.74" width="31.39" height="2.04" fill="#ff2525" />
<rect x="132.07" y="451.73" width="31.39" height="2.04" fill="#ff2525" />
<rect x="132.07" y="453.72" width="31.39" height="2.04" fill="#ff2525" />
<rect x="132.07" y="455.71" width="31.39" height="2.04" fill="#ffb8b8" />
<rect x="163.41" y="258.80" width="31.39" height="2.04" fill="#5050ff" />
<rect x="163.41" y="260.79" width="31.39" height="2.04" fill="#8080ff" />
<rect x="163.41" y="262.78" width="31.39" height="2.04" fill="#8080ff" />
<rect x="163.41" y="264.77" width="31.39" height="2.04" fill="#1515ff" />
<rect x="163.41" y="266.76" width="31.39" height="2.04" fill="#1515ff" />
<rect x="163.41" y="268.75" width="31.39" height="2.04" fill="#6060ff" />
<rect x="163.41" y="270.73" width="31.39" height="2.04" fill="#2020ff" />
<rect x="163.41" y="272.72" width="31.39" height="2.04" fill="#8080ff" />
<rect x="163.41" y="274.71" width="31.39" height="2.04" fill="#8080ff" />
<rect x="163.41" y="276.70" width="31.39" height="2.04" fill="#8080ff" />
<rect x="163.41" y="278.69" width="31.39" height="2.04" fill="#3030ff" />
<rect x="163.41" y="280.68" width="31.39" height="2.04" fill="#3030ff" />
<rect x="163.41" y="282.67" width="31.39" height="2.04" fill="#f0f0ff" />
<rect x="163.41" y="284.66" width="31.39" height="2.04" fill="#8585ff" />
<rect x="163.41" y="286.65" width="31.39" height="2.04" fill="#8585ff" />
<rect x="163.41" y="288.63" width="31.39" height="2.04" fill="#8585ff" />
<rect x="163.41" y="290.62" width="31.39" height="2.04" fill="#8585ff" />
<rect x="163.41" y="292.61" width="31.39" height="2.04" fill="#8585ff" />
<rect x="163.41" y="294.60" width="31.39" height="2.04" fill="#7070ff" />
<rect x="163.41" y="296.59" width="31.39" height="2.04" fill="#7070ff" />
<rect x="163.41" y="298.58" width="31.39" height="2.04" fill="#9090ff" />
<rect x="163.41" y="300.57" width="31.39" height="2.04" fill="#7070ff" />
<rect x="163.41" y="302.56" width="31.39" height="2.04" fill="#7070ff" />
<rect x="163.41" y="304.55" width="31.39" height="2.04" fill="#8a8aff" />
<rect x="163.41" y="306.54" width="31.39" height="2.04" fill="#8a8aff" />
<rect x="163.41" y="308.52" width="31.39" height="2.04" fill="#7070ff" />
<rect x="163.41" y="310.51" width="31.39" height="2.04" fill="#7070ff" />
<rect x="163.41" y="312.50" width="31.39" height="2.04" fill="#7070ff" />
<rect x="163.41" y="314.49" width="31.39" height="2.04" fill="#9a9aff" />
<rect x="163.41" y="316.48" width="31.39" height="2.04" fill="#9a9aff" />
<rect x="163.41" y="318.47" width="31.39" height="2.04" fill="#f5f5ff" />
<rect x="163.41" y="320.46" width="31.39" height="2.04" fill="#f5f5ff" />
<rect x="163.41" y="322.45" width="31.39" height="2.04" fill="#8080ff" />
<rect x="163.41" y="324.44" width="31.39" height="2.04" fill="#8080ff" />
<rect x="163.41" y="326.43" width="31.39" height="2.04" fill="#8080ff" />
<rect x="163.41" y="328.42" width="31.39" height="2.04" fill="#8080ff" />
<rect x="163.41" y="330.40" width="31.39" height="2.04" fill="#1818ff" />
<rect x="163.41" y="332.39" width="31.39" height="2.04" fill="#1818ff" />
<rect x="163.41" y="334.38" width="31.39" height="2.04" fill="#7a7aff" />
<rect x="163.41" y="336.37" width="31.39" height="2.04" fill="#7a7aff" />
<rect x="163.41" y="338.36" width="31.39" height="2.04" fill="#7a7aff" />
<rect x="163.41" y="340.35" width="31.39" height="2.04" fill="#5050ff" />
<rect x="163.41" y="342.34" width="31.39" height="2.04" fill="#5050ff" />
<rect x="163.41" y="344.33" width="31.39" height="2.04" fill="#5050ff" />
<rect x="163.41" y="346.32" width="31.39" height="2.04" fill="#7070ff" />
<rect x="163.41" y="348.31" width="31.39" height="2.04" fill="#7070ff" />
<rect x="163.41" y="350.29" width="31.39" height="2.04" fill="#9090ff" />
<rect x="163.41" y="352.28" width="31.39" height="2.04" fill="#8080ff" />
<rect x="163.41" y="354.27" width="31.39" height="2.04" fill="#ff9a9a" />
<rect x="163.41" y="356.26" width="31.39" height="2.04" fill="#ff9a9a" />
<rect x="163.41" y="358.25" width="31.39" height="2.04" fill="#ff9a9a" />
<rect x="163.41" y="360.24" width="31.39" height="2.04" fill="#ff9a9a" />
<rect x="163.41" y="362.23" width="31.39" height="2.04" fill="#ff8080" />
<rect x="163.41" y="364.22" width="31.39" height="2.04" fill="#ff8080" />
<rect x="163.41" y="366.21" width="31.39" height="2.04" fill="#ff5050" />
<rect x="163.41" y="368.19" width="31.39" height="2.04" fill="#ff5050" />
<rect x="163.41" y="370.18" width="31.39" height="2.04" fill="#ff5050" />
<rect x="163.41" y="372.17" width="31.39" height="2.04" fill="#ff3a3a" />
<rect x="163.41" y="374.16" width="31.39" height="2.04" fill="#ff3a3a" />
<rect x="163.41" y="376.15" width="31.39" height="2.04" fill="#ff3a3a" />
<rect x="163.41" y="378.14" width="31.39" height="2.04" fill="#ff3a3a" />
<rect x="163.41" y="380.13" width="31.39" height="2.04" fill="#ff5050" />
<rect x="163.41" y="382.12" width="31.39" height="2.04" fill="#ff5050" />
<rect x="163.41" y="384.11" width="31.39" height="2.04" fill="#ff5050" />
<rect x="163.41" y="386.10" width="31.39" height="2.04" fill="#ff5050" />
<rect x="163.41" y="388.09" width="31.39" height="2.04" fill="#ff8a8a" />
<rect x="163.41" y="390.07" width="31.39" height="2.04" fill="#ff8a8a" />
<rect x="163.41" y="392.06" width="31.39" height="2.04" fill="#ff8a8a" />
<rect x="163.41" y="394.05" width="31.39" height="2.04" fill="#ffb0b0" />
<rect x="163.41" y="396.04" width="31.39" height="2.04" fill="#ffb0b0" />
<rect x="163.41" y="398.03" width="31.39" height="2.04" fill="#ff4545" />
<rect x="163.41" y="400.02" width="31.39" height="2.04" fill="#ff4545" />
<rect x="163.41" y="402.01" width="31.39" height="2.04" fill="#ff8080" />
<rect x="163.41" y="404.00" width="31.39" height="2.04" fill="#ff8080" />
<rect x="163.41" y="405.99" width="31.39" height="2.04" fill="#ffb0b0" />
<rect x="163.41" y="407.98" width="31.39" height="2.04" fill="#ffb0b0" />
<rect x="163.41" y="409.96" width="31.39" height="2.04" fill="#d8d8ff" />
<rect x="163.41" y="411.95" width="31.39" height="2.04" fill="#d8d8ff" />
<rect x="163.41" y="413.94" width="31.39" height="2.04" fill="#d8d8ff" />
<rect x="163.41" y="415.93" width="31.39" height="2.04" fill="#d8d8ff" />
<rect x="163.41" y="417.92" width="31.39" height="2.04" fill="#ffe0e0" />
<rect x="163.41" y="419.91" width="31.39" height="2.04" fill="#ffe0e0" />
<rect x="163.41" y="421.90" width="31.39" height="2.04" fill="#e0e0ff" />
<rect x="163.41" y="423.89" width="31.39" height="2.04" fill="#e0e0ff" />
<rect x="163.41" y="425.88" width="31.39" height="2.04" fill="#e0e0ff" />
<rect x="163.41" y="427.87" width="31.39" height="2.04" fill="#ff9090" />
<rect x="163.41" y="429.85" width="31.39" height="2.04" fill="#ff9090" />
<rect x="163.41" y="431.84" width="31.39" height="2.04" fill="#ffc0c0" />
<rect x="163.41" y="433.83" width="31.39" height="2.04" fill="#ffc0c0" />
<rect x="163.41" y="435.82" width="31.39" height="2.04" fill="#ff5050" />
<rect x="163.41" y="437.81" width="31.39" height="2.04" fill="#ff5050" />
<rect x="163.41" y="439.80" width="31.39" height="2.04" fill="#ff5050" />
<rect x="163.41" y="441.79" width="31.39" height="2.04" fill="#ff5050" />
<rect x="163.41" y="443.78" width="31.39" height="2.04" fill="#ff5050" />
<rect x="163.41" y="445.77" width="31.39" height="2.04" fill="#ffb0b0" />
<rect x="163.41" y="447.75" width="31.39" height="2.04" fill="#ffb0b0" />
<rect x="163.41" y="449.74" width="31.39" height="2.04" fill="#f0f0ff" />
<rect x="163.41" y="451.73" width="31.39" height="2.04" fill="#f0f0ff" />
<rect x="163.41" y="453.72" width="31.39" height="2.04" fill="#f0f0ff" />
<rect x="163.41" y="455.71" width="31.39" height="2.04" fill="#ffc0c0" />
<rect x="194.75" y="258.80" width="31.39" height="2.04" fill="#ffffff" />
<rect x="194.75" y="260.79" width="31.39" height="2.04" fill="#ffffff" />
<rect x="194.75" y="262.78" width="31.39" height="2.04" fill="#8a8aff" />
<rect x="194.75" y="264.77" width="31.39" height="2.04" fill="#8a8aff" />
<rect x="194.75" y="266.76" width="31.39" height="2.04" fill="#6565ff" />
<rect x="194.75" y="268.75" width="31.39" height="2.04" fill="#6565ff" />
<rect x="194.75" y="270.73" width="31.39" height="2.04" fill="#6565ff" />
<rect x="194.75" y="272.72" width="31.39" height="2.04" fill="#9090ff" />
<rect x="194.75" y="274.71" width="31.39" height="2.04" fill="#9090ff" />
<rect x="194.75" y="276.70" width="31.39" height="2.04" fill="#9090ff" />
<rect x="194.75" y="278.69" width="31.39" height="2.04" fill="#a8a8ff" />
<rect x="194.75" y="280.68" width="31.39" height="2.04" fill="#a8a8ff" />
<rect x="194.75" y="282.67" width="31.39" height="2.04" fill="#a8a8ff" />
<rect x="194.75" y="284.66" width="31.39" height="2.04" fill="#3535ff" />
<rect x="194.75" y="286.65" width="31.39" height="2.04" fill="#3535ff" />
<rect x="194.75" y="288.63" width="31.39" height="2.04" fill="#3535ff" />
<rect x="194.75" y="290.62" width="31.39" height="2.04" fill="#5a5aff" />
<rect x="194.75" y="292.61" width="31.39" height="2.04" fill="#5a5aff" />
<rect x="194.75" y="294.60" width="31.39" height="2.04" fill="#5a5aff" />
<rect x="194.75" y="296.59" width="31.39" height="2.04" fill="#5a5aff" />
<rect x="194.75" y="298.58" width="31.39" height="2.04" fill="#6060ff" />
<rect x="194.75" y="300.57" width="31.39" height="2.04" fill="#6060ff" />
<rect x="194.75" y="302.56" width="31.39" height="2.04" fill="#6060ff" />
<rect x="194.75" y="304.55" width="31.39" height="2.04" fill="#2a2aff" />
<rect x="194.75" y="306.54" width="31.39" height="2.04" fill="#2a2aff" />
<rect x="194.75" y="308.52" width="31.39" height="2.04" fill="#6a6aff" />
<rect x="194.75" y="310.51" width="31.39" height="2.04" fill="#6a6aff" />
<rect x="194.75" y="312.50" width="31.39" height="2.04" fill="#6a6aff" />
<rect x="194.75" y="314.49" width="31.39" height="2.04" fill="#6a6aff" />
<rect x="194.75" y="316.48" width="31.39" height="2.04" fill="#5a5aff" />
<rect x="194.75" y="318.47" width="31.39" height="2.04" fill="#5a5aff" />
<rect x="194.75" y="320.46" width="31.39" height="2.04" fill="#5a5aff" />
<rect x="194.75" y="322.45" width="31.39" height="2.04" fill="#5a5aff" />
<rect x="194.75" y="324.44" width="31.39" height="2.04" fill="#5a5aff" />
<rect x="194.75" y="326.43" width="31.39" height="2.04" fill="#5a5aff" />
<rect x="194.75" y="328.42" width="31.39" height="2.04" fill="#5a5aff" />
<rect x="194.75" y="330.40" width="31.39" height="2.04" fill="#5050ff" />
<rect x="194.75" y="332.39" width="31.39" height="2.04" fill="#5050ff" />
<rect x="194.75" y="334.38" width="31.39" height="2.04" fill="#5050ff" />
<rect x="194.75" y="336.37" width="31.39" height="2.04" fill="#5050ff" />
<rect x="194.75" y="338.36" width="31.39" height="2.04" fill="#5050ff" />
<rect x="194.75" y="340.35" width="31.39" height="2.04" fill="#e0e0ff" />
<rect x="194.75" y="342.34" width="31.39" height="2.04" fill="#e0e0ff" />
<rect x="194.75" y="344.33" width="31.39" height="2.04" fill="#e0e0ff" />
<rect x="194.75" y="346.32" width="31.39" height="2.04" fill="#e0e0ff" />
<rect x="194.75" y="348.31" width="31.39" height="2.04" fill="#a0a0ff" />
<rect x="194.75" y="350.29" width="31.39" height="2.04" fill="#a0a0ff" />
<rect x="194.75" y="352.28" width="31.39" height="2.04" fill="#a0a0ff" />
<rect x="194.75" y="354.27" width="31.39" height="2.04" fill="#ff3030" />
<rect x="194.75" y="356.26" width="31.39" height="2.04" fill="#ff3030" />
<rect x="194.75" y="358.25" width="31.39" height="2.04" fill="#ff3030" />
<rect x="194.75" y="360.24" width="31.39" height="2.04" fill="#ff3030" />
<rect x="194.75" y="362.23" width="31.39" height="2.04" fill="#ff3030" />
<rect x="194.75" y="364.22" width="31.39" height="2.04" fill="#ff6060" />
<rect x="194.75" y="366.21" width="31.39" height="2.04" fill="#ff6060" />
<rect x="194.75" y="368.19" width="31.39" height="2.04" fill="#ff6060" />
<rect x="194.75" y="370.18" width="31.39" height="2.04" fill="#ff6060" />
<rect x="194.75" y="372.17" width="31.39" height="2.04" fill="#ffd0d0" />
<rect x="194.75" y="374.16" width="31.39" height="2.04" fill="#ffd0d0" />
<rect x="194.75" y="376.15" width="31.39" height="2.04" fill="#ffd0d0" />
<rect x="194.75" y="378.14" width="31.39" height="2.04" fill="#ffb0b0" />
<rect x="194.75" y="380.13" width="31.39" height="2.04" fill="#ffb0b0" />
<rect x="194.75" y="382.12" width="31.39" height="2.04" fill="#ff8080" />
<rect x="194.75" y="384.11" width="31.39" height="2.04" fill="#ff8080" />
<rect x="194.75" y="386.10" width="31.39" height="2.04" fill="#ff8080" />
<rect x="194.75" y="388.09" width="31.39" height="2.04" fill="#ffd8d8" />
<rect x="194.75" y="390.07" width="31.39" height="2.04" fill="#ffd8d8" />
<rect x="194.75" y="392.06" width="31.39" height="2.04" fill="#ffd8d8" />
<rect x="194.75" y="394.05" width="31.39" height="2.04" fill="#ffd8d8" />
<rect x="194.75" y="396.04" width="31.39" height="2.04" fill="#ffd8d8" />
<rect x="194.75" y="398.03" width="31.39" height="2.04" fill="#ff5050" />
<rect x="194.75" y="400.02" width="31.39" height="2.04" fill="#ff5050" />
<rect x="194.75" y="402.01" width="31.39" height="2.04" fill="#ff2020" />
<rect x="194.75" y="404.00" width="31.39" height="2.04" fill="#ff2020" />
<rect x="194.75" y="405.99" width="31.39" height="2.04" fill="#ff2020" />
<rect x="194.75" y="407.98" width="31.39" height="2.04" fill="#ff5050" />
<rect x="194.75" y="409.96" width="31.39" height="2.04" fill="#ff2020" />
<rect x="194.75" y="411.95" width="31.39" height="2.04" fill="#ff2020" />
<rect x="194.75" y="413.94" width="31.39" height="2.04" fill="#ff2020" />
<rect x="194.75" y="415.93" width="31.39" height="2.04" fill="#ff2020" />
<rect x="194.75" y="417.92" width="31.39" height="2.04" fill="#ff2020" />
<rect x="194.75" y="419.91" width="31.39" height="2.04" fill="#ff2020" />
<rect x="194.75" y="421.90" width="31.39" height="2.04" fill="#ffffff" />
<rect x="194.75" y="423.89" width="31.39" height="2.04" fill="#ff3030" />
<rect x="194.75" y="425.88" width="31.39" height="2.04" fill="#ff3030" />
<rect x="194.75" y="427.87" width="31.39" height="2.04" fill="#a8a8ff" />
<rect x="194.75" y="429.85" width="31.39" height="2.04" fill="#a8a8ff" />
<rect x="194.75" y="431.84" width="31.39" height="2.04" fill="#a8a8ff" />
<rect x="194.75" y="433.83" width="31.39" height="2.04" fill="#f0f0ff" />
<rect x="194.75" y="435.82" width="31.39" height="2.04" fill="#f0f0ff" />
<rect x="194.75" y="437.81" width="31.39" height="2.04" fill="#ffc0c0" />
<rect x="194.75" y="439.80" width="31.39" height="2.04" fill="#ffc0c0" />
<rect x="194.75" y="441.79" width="31.39" height="2.04" fill="#fff0f0" />
<rect x="194.75" y="443.78" width="31.39" height="2.04" fill="#fff0f0" />
<rect x="194.75" y="445.77" width="31.39" height="2.04" fill="#b8b8ff" />
<rect x="194.75" y="447.75" width="31.39" height="2.04" fill="#b8b8ff" />
<rect x="194.75" y="449.74" width="31.39" height="2.04" fill="#ffffff" />
<rect x="194.75" y="451.73" width="31.39" height="2.04" fill="#ffffff" />
<rect x="194.75" y="453.72" width="31.39" height="2.04" fill="#ffffff" />
<rect x="194.75" y="455.71" width="31.39" height="2.04" fill="#ffd0d0" />
</g>
<rect x="38.05" y="254.90" width="94.00" height="3.70" fill="#20d0d8" />
<rect x="132.07" y="254.90" width="94.03" height="3.70" fill="#f4847c" />
<polyline points="85.06,254.60 85.06,248.60 116.40,248.60 116.40,254.60" fill="none" stroke="#888888" stroke-width="0.5"/>
<polyline points="53.72,254.60 53.72,246.80 100.73,246.80 100.73,248.60" fill="none" stroke="#888888" stroke-width="0.5"/>
<polyline points="179.08,254.60 179.08,247.90 210.42,247.90 210.42,254.60" fill="none" stroke="#888888" stroke-width="0.5"/>
<polyline points="147.74,254.60 147.74,246.10 194.75,246.10 194.75,247.90" fill="none" stroke="#888888" stroke-width="0.5"/>
<polyline points="77.22,246.80 77.22,237.40 171.25,237.40 171.25,246.10" fill="none" stroke="#888888" stroke-width="0.5"/>
<path d="M35.60,261.78L35.60,263.77 M35.60,261.78L38.00,261.78 M35.60,263.77L38.00,263.77 M34.28,259.79L34.28,262.78 M34.28,259.79L38.00,259.79 M34.28,262.78L35.60,262.78 M35.15,265.76L35.15,267.75 M35.15,265.76L38.00,265.76 M35.15,267.75L38.00,267.75 M34.99,271.73L34.99,273.72 M34.99,271.73L38.00,271.73 M34.99,273.72L38.00,273.72 M34.37,269.74L34.37,272.72 M34.37,269.74L38.00,269.74 M34.37,272.72L34.99,272.72 M32.77,266.76L32.77,271.23 M32.77,266.76L35.15,266.76 M32.77,271.23L34.37,271.23 M31.19,261.29L31.19,268.99 M31.19,261.29L34.28,261.29 M31.19,268.99L32.77,268.99 M35.53,275.71L35.53,277.70 M35.53,275.71L38.00,275.71 M35.53,277.70L38.00,277.70 M35.72,279.68L35.72,281.67 M35.72,279.68L38.00,279.68 M35.72,281.67L38.00,281.67 M33.39,276.70L33.39,280.68 M33.39,276.70L35.53,276.70 M33.39,280.68L35.72,280.68 M35.45,283.66L35.45,285.65 M35.45,283.66L38.00,283.66 M35.45,285.65L38.00,285.65 M35.40,287.64L35.40,289.63 M35.40,287.64L38.00,287.64 M35.40,289.63L38.00,289.63 M33.11,284.66L33.11,288.63 M33.11,284.66L35.45,284.66 M33.11,288.63L35.40,288.63 M30.91,278.69L30.91,286.65 M30.91,278.69L33.39,278.69 M30.91,286.65L33.11,286.65 M35.04,291.62L35.04,293.61 M35.04,291.62L38.00,291.62 M35.04,293.61L38.00,293.61 M34.44,292.61L34.44,295.60 M34.44,292.61L35.04,292.61 M34.44,295.60L38.00,295.60 M32.93,294.10L32.93,297.59 M32.93,294.10L34.44,294.10 M32.93,297.59L38.00,297.59 M35.55,301.56L35.55,303.55 M35.55,301.56L38.00,301.56 M35.55,303.55L38.00,303.55 M34.20,299.57L34.20,302.56 M34.20,299.57L38.00,299.57 M34.20,302.56L35.55,302.56 M33.60,301.07L33.60,305.54 M33.60,301.07L34.20,301.07 M33.60,305.54L38.00,305.54 M35.49,309.52L35.49,311.51 M35.49,309.52L38.00,309.52 M35.49,311.51L38.00,311.51 M34.22,307.53L34.22,310.51 M34.22,307.53L38.00,307.53 M34.22,310.51L35.49,310.51 M31.38,303.30L31.38,309.02 M31.38,303.30L33.60,303.30 M31.38,309.02L34.22,309.02 M30.54,295.85L30.54,306.16 M30.54,295.85L32.93,295.85 M30.54,306.16L31.38,306.16 M28.80,282.67L28.80,301.00 M28.80,282.67L30.91,282.67 M28.80,301.00L30.54,301.00 M35.36,315.49L35.36,317.48 M35.36,315.49L38.00,315.49 M35.36,317.48L38.00,317.48 M34.14,313.50L34.14,316.48 M34.14,313.50L38.00,313.50 M34.14,316.48L35.36,316.48 M35.29,319.46L35.29,321.45 M35.29,319.46L38.00,319.46 M35.29,321.45L38.00,321.45 M35.42,323.44L35.42,325.43 M35.42,323.44L38.00,323.44 M35.42,325.43L38.00,325.43 M33.11,320.46L33.11,324.44 M33.11,320.46L35.29,320.46 M33.11,324.44L35.42,324.44 M31.48,314.99L31.48,322.45 M31.48,314.99L34.14,314.99 M31.48,322.45L33.11,322.45 M35.69,327.42L35.69,329.41 M35.69,327.42L38.00,327.42 M35.69,329.41L38.00,329.41 M35.24,331.40L35.24,333.39 M35.24,331.40L38.00,331.40 M35.24,333.39L38.00,333.39 M33.60,328.41L33.60,332.39 M33.60,328.41L35.69,328.41 M33.60,332.39L35.24,332.39 M35.62,337.37L35.62,339.35 M35.62,337.37L38.00,337.37 M35.62,339.35L38.00,339.35 M34.12,335.38L34.12,338.36 M34.12,335.38L38.00,335.38 M34.12,338.36L35.62,338.36 M35.03,343.33L35.03,345.32 M35.03,343.33L38.00,343.33 M35.03,345.32L38.00,345.32 M34.34,341.34L34.34,344.33 M34.34,341.34L38.00,341.34 M34.34,344.33L35.03,344.33 M35.26,347.31L35.26,349.30 M35.26,347.31L38.00,347.31 M35.26,349.30L38.00,349.30 M33.04,342.84L33.04,348.31 M33.04,342.84L34.34,342.84 M33.04,348.31L35.26,348.31 M35.62,351.29L35.62,353.28 M35.62,351.29L38.00,351.29 M35.62,353.28L38.00,353.28 M31.56,345.57L31.56,352.28 M31.56,345.57L33.04,345.57 M31.56,352.28L35.62,352.28 M30.96,336.87L30.96,348.93 M30.96,336.87L34.12,336.87 M30.96,348.93L31.56,348.93 M29.81,330.40L29.81,342.90 M29.81,330.40L33.60,330.40 M29.81,342.90L30.96,342.90 M28.08,318.72L28.08,336.65 M28.08,318.72L31.48,318.72 M28.08,336.65L29.81,336.65 M26.80,291.84L26.80,327.68 M26.80,291.84L28.80,291.84 M26.80,327.68L28.08,327.68 M26.00,265.14L26.00,309.76 M26.00,265.14L31.19,265.14 M26.00,309.76L26.80,309.76 M35.39,355.27L35.39,357.26 M35.39,355.27L38.00,355.27 M35.39,357.26L38.00,357.26 M34.40,356.26L34.40,359.24 M34.40,356.26L35.39,356.26 M34.40,359.24L38.00,359.24 M35.74,361.23L35.74,363.22 M35.74,361.23L38.00,361.23 M35.74,363.22L38.00,363.22 M34.14,362.23L34.14,365.21 M34.14,362.23L35.74,362.23 M34.14,365.21L38.00,365.21 M35.53,367.20L35.53,369.19 M35.53,367.20L38.00,367.20 M35.53,369.19L38.00,369.19 M32.73,363.72L32.73,368.20 M32.73,363.72L34.14,363.72 M32.73,368.20L35.53,368.20 M31.51,357.75L31.51,365.96 M31.51,357.75L34.40,357.75 M31.51,365.96L32.73,365.96 M35.04,371.18L35.04,373.17 M35.04,371.18L38.00,371.18 M35.04,373.17L38.00,373.17 M35.66,375.16L35.66,377.15 M35.66,375.16L38.00,375.16 M35.66,377.15L38.00,377.15 M33.18,372.17L33.18,376.15 M33.18,372.17L35.04,372.17 M33.18,376.15L35.66,376.15 M30.24,361.86L30.24,374.16 M30.24,361.86L31.51,361.86 M30.24,374.16L33.18,374.16 M35.64,379.13L35.64,381.12 M35.64,379.13L38.00,379.13 M35.64,381.12L38.00,381.12 M35.18,383.11L35.18,385.10 M35.18,383.11L38.00,383.11 M35.18,385.10L38.00,385.10 M33.04,380.13L33.04,384.11 M33.04,380.13L35.64,380.13 M33.04,384.11L35.18,384.11 M35.35,387.09L35.35,389.08 M35.35,387.09L38.00,387.09 M35.35,389.08L38.00,389.08 M32.03,382.12L32.03,388.09 M32.03,382.12L33.04,382.12 M32.03,388.09L35.35,388.09 M28.49,368.01L28.49,385.10 M28.49,368.01L30.24,368.01 M28.49,385.10L32.03,385.10 M35.56,391.07L35.56,393.06 M35.56,391.07L38.00,391.07 M35.56,393.06L38.00,393.06 M34.44,392.06L34.44,395.05 M34.44,392.06L35.56,392.06 M34.44,395.05L38.00,395.05 M32.94,393.55L32.94,397.04 M32.94,393.55L34.44,393.55 M32.94,397.04L38.00,397.04 M35.19,401.01L35.19,403.00 M35.19,401.01L38.00,401.01 M35.19,403.00L38.00,403.00 M33.80,399.02L33.80,402.01 M33.80,399.02L38.00,399.02 M33.80,402.01L35.19,402.01 M31.82,395.30L31.82,400.52 M31.82,395.30L32.94,395.30 M31.82,400.52L33.80,400.52 M35.40,404.99L35.40,406.98 M35.40,404.99L38.00,404.99 M35.40,406.98L38.00,406.98 M34.18,405.99L34.18,408.97 M34.18,405.99L35.40,405.99 M34.18,408.97L38.00,408.97 M32.99,407.48L32.99,410.96 M32.99,407.48L34.18,407.48 M32.99,410.96L38.00,410.96 M35.70,412.95L35.70,414.94 M35.70,412.95L38.00,412.95 M35.70,414.94L38.00,414.94 M33.85,413.94L33.85,416.93 M33.85,413.94L35.70,413.94 M33.85,416.93L38.00,416.93 M31.68,409.22L31.68,415.43 M31.68,409.22L32.99,409.22 M31.68,415.43L33.85,415.43 M29.29,397.91L29.29,412.33 M29.29,397.91L31.82,397.91 M29.29,412.33L31.68,412.33 M27.50,376.56L27.50,405.12 M27.50,376.56L28.49,376.56 M27.50,405.12L29.29,405.12 M35.11,418.91L35.11,420.90 M35.11,418.91L38.00,418.91 M35.11,420.90L38.00,420.90 M35.28,424.88L35.28,426.87 M35.28,424.88L38.00,424.88 M35.28,426.87L38.00,426.87 M33.82,422.89L33.82,425.88 M33.82,422.89L38.00,422.89 M33.82,425.88L35.28,425.88 M32.42,419.91L32.42,424.38 M32.42,419.91L35.11,419.91 M32.42,424.38L33.82,424.38 M35.29,428.86L35.29,430.85 M35.29,428.86L38.00,428.86 M35.29,430.85L38.00,430.85 M33.83,429.85L33.83,432.84 M33.83,429.85L35.29,429.85 M33.83,432.84L38.00,432.84 M30.99,422.15L30.99,431.35 M30.99,422.15L32.42,422.15 M30.99,431.35L33.83,431.35 M35.73,436.82L35.73,438.80 M35.73,436.82L38.00,436.82 M35.73,438.80L38.00,438.80 M33.95,434.83L33.95,437.81 M33.95,434.83L38.00,434.83 M33.95,437.81L35.73,437.81 M35.09,440.79L35.09,442.78 M35.09,440.79L38.00,440.79 M35.09,442.78L38.00,442.78 M32.72,436.32L32.72,441.79 M32.72,436.32L33.95,436.32 M32.72,441.79L35.09,441.79 M35.55,444.77L35.55,446.76 M35.55,444.77L38.00,444.77 M35.55,446.76L38.00,446.76 M34.17,445.77L34.17,448.75 M34.17,445.77L35.55,445.77 M34.17,448.75L38.00,448.75 M30.99,439.05L30.99,447.26 M30.99,439.05L32.72,439.05 M30.99,447.26L34.17,447.26 M35.34,450.74L35.34,452.73 M35.34,450.74L38.00,450.74 M35.34,452.73L38.00,452.73 M35.16,454.72L35.16,456.71 M35.16,454.72L38.00,454.72 M35.16,456.71L38.00,456.71 M33.66,451.73L33.66,455.71 M33.66,451.73L35.34,451.73 M33.66,455.71L35.16,455.71 M29.76,443.16L29.76,453.72 M29.76,443.16L30.99,443.16 M29.76,453.72L33.66,453.72 M27.50,426.75L27.50,448.44 M27.50,426.75L30.99,426.75 M27.50,448.44L29.76,448.44 M25.30,390.84L25.30,437.59 M25.30,390.84L27.50,390.84 M25.30,437.59L27.50,437.59 M20.40,287.45L20.40,414.21 M20.40,287.45L26.00,287.45 M20.40,414.21L25.30,414.21" fill="none" stroke="#888888" stroke-width="0.5"/>
<text x="0.00" y="0.00" font-size="3.6" text-anchor="middle" font-weight="normal" fill="#444" stroke="#444" stroke-width="0.12" transform="translate(55.02,461.2) rotate(-90)">C1</text>
<text x="0.00" y="0.00" font-size="3.6" text-anchor="middle" font-weight="normal" fill="#444" stroke="#444" stroke-width="0.12" transform="translate(86.36,461.2) rotate(-90)">C2</text>
<text x="0.00" y="0.00" font-size="3.6" text-anchor="middle" font-weight="normal" fill="#444" stroke="#444" stroke-width="0.12" transform="translate(117.70,461.2) rotate(-90)">C3</text>
<text x="0.00" y="0.00" font-size="3.6" text-anchor="middle" font-weight="normal" fill="#444" stroke="#444" stroke-width="0.12" transform="translate(149.04,461.2) rotate(-90)">T1</text>
<text x="0.00" y="0.00" font-size="3.6" text-anchor="middle" font-weight="normal" fill="#444" stroke="#444" stroke-width="0.12" transform="translate(180.38,461.2) rotate(-90)">T2</text>
<text x="0.00" y="0.00" font-size="3.6" text-anchor="middle" font-weight="normal" fill="#444" stroke="#444" stroke-width="0.12" transform="translate(211.72,461.2) rotate(-90)">T3</text>
<defs><linearGradient id="hmg" x1="0" y1="0" x2="0" y2="1"><stop offset="0" stop-color="#ff0000"/><stop offset="0.5" stop-color="#ffffff"/><stop offset="1" stop-color="#0000ff"/></linearGradient></defs>
<rect x="228.40" y="259.50" width="3.20" height="47.80" fill="url(#hmg)" />
<text x="233.20" y="266.45" font-size="3.2" text-anchor="start" font-weight="normal" fill="#444" stroke="#444" stroke-width="0.12" >1.5</text>
<text x="233.20" y="273.35" font-size="3.2" text-anchor="start" font-weight="normal" fill="#444" stroke="#444" stroke-width="0.12" >1</text>
<text x="233.20" y="280.15" font-size="3.2" text-anchor="start" font-weight="normal" fill="#444" stroke="#444" stroke-width="0.12" >0.5</text>
<text x="233.20" y="287.05" font-size="3.2" text-anchor="start" font-weight="normal" fill="#444" stroke="#444" stroke-width="0.12" >0</text>
<text x="233.20" y="293.85" font-size="3.2" text-anchor="start" font-weight="normal" fill="#444" stroke="#444" stroke-width="0.12" >-0.5</text>
<text x="233.20" y="300.65" font-size="3.2" text-anchor="start" font-weight="normal" fill="#444" stroke="#444" stroke-width="0.12" >-1</text>
<text x="233.20" y="307.45" font-size="3.2" text-anchor="start" font-weight="normal" fill="#444" stroke="#444" stroke-width="0.12" >-1.5</text>
<text x="228.00" y="257.60" font-size="2.8" text-anchor="start" font-weight="bold" fill="#333" stroke="#333" stroke-width="0.2" >group</text>
<text x="239.60" y="261.40" font-size="2.8" text-anchor="start" font-weight="bold" fill="#333" stroke="#333" stroke-width="0.2" >group</text>
<rect x="239.60" y="262.80" width="4.60" height="4.60" fill="#20d0d8" />
<text x="245.50" y="266.30" font-size="3.2" text-anchor="start" font-weight="normal" fill="#444" stroke="#444" stroke-width="0.12" >C</text>
<rect x="239.60" y="267.40" width="4.60" height="4.60" fill="#f4847c" />
<text x="245.50" y="271.30" font-size="3.2" text-anchor="start" font-weight="normal" fill="#444" stroke="#444" stroke-width="0.12" >T</text>
<text x="273.20" y="247.80" font-size="12.8" text-anchor="start" font-weight="bold" fill="#111" stroke="#111" stroke-width="0" >D</text>
<text x="409.00" y="240.00" font-size="5.2" text-anchor="middle" font-weight="normal" fill="#333" stroke="#333" stroke-width="0.12" >GO Enrichment</text>
<line x1="400.10" y1="248.10" x2="400.10" y2="443.00" stroke="#e6e6e6" stroke-width="0.5" />
<line x1="430.00" y1="248.10" x2="430.00" y2="443.00" stroke="#e6e6e6" stroke-width="0.5" />
<line x1="459.90" y1="248.10" x2="459.90" y2="443.00" stroke="#e6e6e6" stroke-width="0.5" />
<line x1="489.80" y1="248.10" x2="489.80" y2="443.00" stroke="#e6e6e6" stroke-width="0.5" />
<line x1="519.70" y1="248.10" x2="519.70" y2="443.00" stroke="#e6e6e6" stroke-width="0.5" />
<line x1="370.20" y1="248.10" x2="520.00" y2="248.10" stroke="#eeeeee" stroke-width="0.5" />
<line x1="370.20" y1="257.84" x2="520.00" y2="257.84" stroke="#eeeeee" stroke-width="0.5" />
<line x1="370.20" y1="267.59" x2="520.00" y2="267.59" stroke="#eeeeee" stroke-width="0.5" />
<line x1="370.20" y1="277.33" x2="520.00" y2="277.33" stroke="#eeeeee" stroke-width="0.5" />
<line x1="370.20" y1="287.08" x2="520.00" y2="287.08" stroke="#eeeeee" stroke-width="0.5" />
<line x1="370.20" y1="296.82" x2="520.00" y2="296.82" stroke="#eeeeee" stroke-width="0.5" />
<line x1="370.20" y1="306.57" x2="520.00" y2="306.57" stroke="#eeeeee" stroke-width="0.5" />
<line x1="370.20" y1="316.31" x2="520.00" y2="316.31" stroke="#eeeeee" stroke-width="0.5" />
<line x1="370.20" y1="326.06" x2="520.00" y2="326.06" stroke="#eeeeee" stroke-width="0.5" />
<line x1="370.20" y1="335.81" x2="520.00" y2="335.81" stroke="#eeeeee" stroke-width="0.5" />
<line x1="370.20" y1="345.55" x2="520.00" y2="345.55" stroke="#eeeeee" stroke-width="0.5" />
<line x1="370.20" y1="355.30" x2="520.00" y2="355.30" stroke="#eeeeee" stroke-width="0.5" />
<line x1="370.20" y1="365.04" x2="520.00" y2="365.04" stroke="#eeeeee" stroke-width="0.5" />
<line x1="370.20" y1="374.79" x2="520.00" y2="374.79" stroke="#eeeeee" stroke-width="0.5" />
<line x1="370.20" y1="384.53" x2="520.00" y2="384.53" stroke="#eeeeee" stroke-width="0.5" />
<line x1="370.20" y1="394.27" x2="520.00" y2="394.27" stroke="#eeeeee" stroke-width="0.5" />
<line x1="370.20" y1="404.02" x2="520.00" y2="404.02" stroke="#eeeeee" stroke-width="0.5" />
<line x1="370.20" y1="413.76" x2="520.00" y2="413.76" stroke="#eeeeee" stroke-width="0.5" />
<line x1="370.20" y1="423.51" x2="520.00" y2="423.51" stroke="#eeeeee" stroke-width="0.5" />
<line x1="370.20" y1="433.25" x2="520.00" y2="433.25" stroke="#eeeeee" stroke-width="0.5" />
<line x1="370.20" y1="443.00" x2="520.00" y2="443.00" stroke="#eeeeee" stroke-width="0.5" />
<line x1="520.00" y1="248.10" x2="520.00" y2="443.00" stroke="#e6e6e6" stroke-width="0.5" />
<rect x="370.20" y="250.62" width="133.65" height="5.30" fill="#3b4994" />
<text x="364.00" y="255.17" font-size="5.2" text-anchor="end" font-weight="normal" fill="#333" stroke="#333" stroke-width="0.12" >response to external stimulus</text>
<rect x="370.20" y="260.37" width="132.76" height="5.30" fill="#3b4994" />
<text x="364.00" y="264.92" font-size="5.2" text-anchor="end" font-weight="normal" fill="#333" stroke="#333" stroke-width="0.12" >cellular response to organonitrogen comp...</text>
<rect x="370.20" y="270.11" width="131.56" height="5.30" fill="#3b4994" />
<text x="364.00" y="274.66" font-size="5.2" text-anchor="end" font-weight="normal" fill="#333" stroke="#333" stroke-width="0.12" >response to stimulus</text>
<rect x="370.20" y="279.86" width="126.18" height="5.30" fill="#3b4994" />
<text x="364.00" y="284.41" font-size="5.2" text-anchor="end" font-weight="normal" fill="#333" stroke="#333" stroke-width="0.12" >cellular response to peptide</text>
<rect x="370.20" y="289.60" width="124.68" height="5.30" fill="#3b4994" />
<text x="364.00" y="294.15" font-size="5.2" text-anchor="end" font-weight="normal" fill="#333" stroke="#333" stroke-width="0.12" >cellular response to oxygen-containing co...</text>
<rect x="370.20" y="299.35" width="122.59" height="5.30" fill="#3b4994" />
<text x="364.00" y="303.90" font-size="5.2" text-anchor="end" font-weight="normal" fill="#333" stroke="#333" stroke-width="0.12" >cellular response to nitrogen compound</text>
<rect x="370.20" y="309.09" width="120.80" height="5.30" fill="#3b4994" />
<text x="364.00" y="313.64" font-size="5.2" text-anchor="end" font-weight="normal" fill="#333" stroke="#333" stroke-width="0.12" >regulation of AMPA receptor activity</text>
<rect x="370.20" y="318.84" width="118.70" height="5.30" fill="#3b4994" />
<text x="364.00" y="323.39" font-size="5.2" text-anchor="end" font-weight="normal" fill="#333" stroke="#333" stroke-width="0.12" >cellular response to amyloid-beta</text>
<rect x="370.20" y="328.58" width="116.31" height="5.30" fill="#3b4994" />
<text x="364.00" y="333.13" font-size="5.2" text-anchor="end" font-weight="normal" fill="#333" stroke="#333" stroke-width="0.12" >neurotransmitter receptor internalization</text>
<rect x="370.20" y="338.33" width="113.32" height="5.30" fill="#3b4994" />
<text x="364.00" y="342.88" font-size="5.2" text-anchor="end" font-weight="normal" fill="#333" stroke="#333" stroke-width="0.12" >immune system process</text>
<rect x="370.20" y="348.07" width="111.53" height="5.30" fill="#3b4994" />
<text x="364.00" y="352.62" font-size="5.2" text-anchor="end" font-weight="normal" fill="#333" stroke="#333" stroke-width="0.12" >positive regulation of AMPA receptor acti...</text>
<rect x="370.20" y="357.82" width="109.43" height="5.30" fill="#3b4994" />
<text x="364.00" y="362.37" font-size="5.2" text-anchor="end" font-weight="normal" fill="#333" stroke="#333" stroke-width="0.12" >response to peptide</text>
<rect x="370.20" y="367.56" width="107.94" height="5.30" fill="#3b4994" />
<text x="364.00" y="372.11" font-size="5.2" text-anchor="end" font-weight="normal" fill="#333" stroke="#333" stroke-width="0.12" >response to amyloid-beta</text>
<rect x="370.20" y="377.31" width="104.65" height="5.30" fill="#3b4994" />
<text x="364.00" y="381.86" font-size="5.2" text-anchor="end" font-weight="normal" fill="#333" stroke="#333" stroke-width="0.12" >defense response to virus</text>
<rect x="370.20" y="387.05" width="101.66" height="5.30" fill="#3b4994" />
<text x="364.00" y="391.60" font-size="5.2" text-anchor="end" font-weight="normal" fill="#333" stroke="#333" stroke-width="0.12" >positive regulation of cytokine production ...</text>
<rect x="370.20" y="396.80" width="101.66" height="5.30" fill="#3b4994" />
<text x="364.00" y="401.35" font-size="5.2" text-anchor="end" font-weight="normal" fill="#333" stroke="#333" stroke-width="0.12" >regulation of response to reactive oxygen...</text>
<rect x="370.20" y="406.54" width="99.57" height="5.30" fill="#3b4994" />
<text x="364.00" y="411.09" font-size="5.2" text-anchor="end" font-weight="normal" fill="#333" stroke="#333" stroke-width="0.12" >positive regulation of glutamate receptor ...</text>
<rect x="370.20" y="416.29" width="96.88" height="5.30" fill="#3b4994" />
<text x="364.00" y="420.84" font-size="5.2" text-anchor="end" font-weight="normal" fill="#333" stroke="#333" stroke-width="0.12" >regulation of glutamate receptor signaling...</text>
<rect x="370.20" y="426.03" width="105.85" height="5.30" fill="#ee0000" />
<text x="364.00" y="430.58" font-size="5.2" text-anchor="end" font-weight="normal" fill="#333" stroke="#333" stroke-width="0.12" >RNA polymerase II proximal promoter se...</text>
<rect x="370.20" y="435.78" width="102.26" height="5.30" fill="#ee0000" />
<text x="364.00" y="440.33" font-size="5.2" text-anchor="end" font-weight="normal" fill="#333" stroke="#333" stroke-width="0.12" >proximal promoter sequence-specific DN...</text>
<line x1="366.40" y1="248.10" x2="370.20" y2="248.10" stroke="#999" stroke-width="0.6" />
<line x1="366.40" y1="257.84" x2="370.20" y2="257.84" stroke="#999" stroke-width="0.6" />
<line x1="366.40" y1="267.59" x2="370.20" y2="267.59" stroke="#999" stroke-width="0.6" />
<line x1="366.40" y1="277.33" x2="370.20" y2="277.33" stroke="#999" stroke-width="0.6" />
<line x1="366.40" y1="287.08" x2="370.20" y2="287.08" stroke="#999" stroke-width="0.6" />
<line x1="366.40" y1="296.82" x2="370.20" y2="296.82" stroke="#999" stroke-width="0.6" />
<line x1="366.40" y1="306.57" x2="370.20" y2="306.57" stroke="#999" stroke-width="0.6" />
<line x1="366.40" y1="316.31" x2="370.20" y2="316.31" stroke="#999" stroke-width="0.6" />
<line x1="366.40" y1="326.06" x2="370.20" y2="326.06" stroke="#999" stroke-width="0.6" />
<line x1="366.40" y1="335.81" x2="370.20" y2="335.81" stroke="#999" stroke-width="0.6" />
<line x1="366.40" y1="345.55" x2="370.20" y2="345.55" stroke="#999" stroke-width="0.6" />
<line x1="366.40" y1="355.30" x2="370.20" y2="355.30" stroke="#999" stroke-width="0.6" />
<line x1="366.40" y1="365.04" x2="370.20" y2="365.04" stroke="#999" stroke-width="0.6" />
<line x1="366.40" y1="374.79" x2="370.20" y2="374.79" stroke="#999" stroke-width="0.6" />
<line x1="366.40" y1="384.53" x2="370.20" y2="384.53" stroke="#999" stroke-width="0.6" />
<line x1="366.40" y1="394.27" x2="370.20" y2="394.27" stroke="#999" stroke-width="0.6" />
<line x1="366.40" y1="404.02" x2="370.20" y2="404.02" stroke="#999" stroke-width="0.6" />
<line x1="366.40" y1="413.76" x2="370.20" y2="413.76" stroke="#999" stroke-width="0.6" />
<line x1="366.40" y1="423.51" x2="370.20" y2="423.51" stroke="#999" stroke-width="0.6" />
<line x1="366.40" y1="433.25" x2="370.20" y2="433.25" stroke="#999" stroke-width="0.6" />
<line x1="366.40" y1="443.00" x2="370.20" y2="443.00" stroke="#999" stroke-width="0.6" />
<line x1="370.20" y1="248.10" x2="370.20" y2="443.00" stroke="#999" stroke-width="0.6" />
<line x1="370.20" y1="443.00" x2="520.00" y2="443.00" stroke="#999" stroke-width="0.6" />
<line x1="370.20" y1="443.00" x2="370.20" y2="446.20" stroke="#999" stroke-width="0.6" />
<text x="370.20" y="452.10" font-size="4.9" text-anchor="middle" font-weight="normal" fill="#333" stroke="#333" stroke-width="0.12" >0</text>
<line x1="400.10" y1="443.00" x2="400.10" y2="446.20" stroke="#999" stroke-width="0.6" />
<text x="400.10" y="452.10" font-size="4.9" text-anchor="middle" font-weight="normal" fill="#333" stroke="#333" stroke-width="0.12" >1</text>
<line x1="430.00" y1="443.00" x2="430.00" y2="446.20" stroke="#999" stroke-width="0.6" />
<text x="430.00" y="452.10" font-size="4.9" text-anchor="middle" font-weight="normal" fill="#333" stroke="#333" stroke-width="0.12" >2</text>
<line x1="459.90" y1="443.00" x2="459.90" y2="446.20" stroke="#999" stroke-width="0.6" />
<text x="459.90" y="452.10" font-size="4.9" text-anchor="middle" font-weight="normal" fill="#333" stroke="#333" stroke-width="0.12" >3</text>
<line x1="489.80" y1="443.00" x2="489.80" y2="446.20" stroke="#999" stroke-width="0.6" />
<text x="489.80" y="452.10" font-size="4.9" text-anchor="middle" font-weight="normal" fill="#333" stroke="#333" stroke-width="0.12" >4</text>
<line x1="519.70" y1="443.00" x2="519.70" y2="446.20" stroke="#999" stroke-width="0.6" />
<text x="519.70" y="452.10" font-size="4.9" text-anchor="middle" font-weight="normal" fill="#333" stroke="#333" stroke-width="0.12" >5</text>
<text x="445.20" y="459.60" font-size="5.2" text-anchor="middle" font-weight="normal" fill="#333" stroke="#333" stroke-width="0.12" >-log10(P value)</text>
<text x="0.00" y="0.00" font-size="5.5" text-anchor="middle" font-weight="normal" fill="#333" stroke="#333" stroke-width="0.12" transform="translate(258.2,345.6) rotate(-90)">GO Term</text>
<rect x="530.90" y="263.20" width="4.10" height="4.40" fill="#3b4994" />
<text x="537.30" y="267.50" font-size="5.2" text-anchor="start" font-weight="normal" fill="#333" stroke="#333" stroke-width="0.12" >BP</text>
<rect x="530.90" y="271.80" width="4.10" height="4.30" fill="#ee0000" />
<text x="537.30" y="276.30" font-size="5.2" text-anchor="start" font-weight="normal" fill="#333" stroke="#333" stroke-width="0.12" >MF</text>
<text x="6.00" y="496.80" font-size="12.8" text-anchor="start" font-weight="bold" fill="#111" stroke="#111" stroke-width="0" >E</text>
<text x="203.50" y="486.60" font-size="6.1" text-anchor="middle" font-weight="normal" fill="#222" stroke="#222" stroke-width="0.12" >KEGG Enrichment</text>
<rect x="158.2" y="496.5" width="91.10000000000002" height="225.70000000000005" fill="none" stroke="#333" stroke-width="0.6"/>
<line x1="155.60" y1="503.50" x2="158.20" y2="503.50" stroke="#333" stroke-width="0.6" />
<text x="154.00" y="505.60" font-size="6.0" text-anchor="end" font-weight="normal" fill="#222" stroke="#222" stroke-width="0.12" >Influenza A</text>
<circle cx="195.20" cy="503.50" r="4.00" fill="#925618" />
<line x1="155.60" y1="514.64" x2="158.20" y2="514.64" stroke="#333" stroke-width="0.6" />
<text x="154.00" y="516.74" font-size="6.0" text-anchor="end" font-weight="normal" fill="#222" stroke="#222" stroke-width="0.12" >Cytokine-cytokine receptor interaction</text>
<circle cx="185.00" cy="514.64" r="4.00" fill="#925618" />
<line x1="155.60" y1="525.78" x2="158.20" y2="525.78" stroke="#333" stroke-width="0.6" />
<text x="154.00" y="527.88" font-size="6.0" text-anchor="end" font-weight="normal" fill="#222" stroke="#222" stroke-width="0.12" >Phagosome</text>
<circle cx="185.00" cy="525.78" r="3.00" fill="#925618" />
<line x1="155.60" y1="536.92" x2="158.20" y2="536.92" stroke="#333" stroke-width="0.6" />
<text x="154.00" y="539.02" font-size="6.0" text-anchor="end" font-weight="normal" fill="#222" stroke="#222" stroke-width="0.12" >Neuroactive ligand-receptor interaction</text>
<circle cx="174.30" cy="536.92" r="4.00" fill="#925618" />
<line x1="155.60" y1="548.06" x2="158.20" y2="548.06" stroke="#333" stroke-width="0.6" />
<text x="154.00" y="550.16" font-size="6.0" text-anchor="end" font-weight="normal" fill="#222" stroke="#222" stroke-width="0.12" >Primary bile acid biosynthesis</text>
<circle cx="241.10" cy="548.06" r="1.00" fill="#9a6428" />
<line x1="155.60" y1="559.20" x2="158.20" y2="559.20" stroke="#333" stroke-width="0.6" />
<text x="154.00" y="561.30" font-size="6.0" text-anchor="end" font-weight="normal" fill="#222" stroke="#222" stroke-width="0.12" >Cell adhesion molecules (CAMs)</text>
<circle cx="181.60" cy="559.20" r="2.00" fill="#945a1e" />
<line x1="155.60" y1="570.34" x2="158.20" y2="570.34" stroke="#333" stroke-width="0.6" />
<text x="154.00" y="572.44" font-size="6.0" text-anchor="end" font-weight="normal" fill="#222" stroke="#222" stroke-width="0.12" >Adrenergic signaling in cardiomyocytes</text>
<circle cx="177.90" cy="570.34" r="2.00" fill="#965c20" />
<line x1="155.60" y1="581.48" x2="158.20" y2="581.48" stroke="#333" stroke-width="0.6" />
<text x="154.00" y="583.58" font-size="6.0" text-anchor="end" font-weight="normal" fill="#222" stroke="#222" stroke-width="0.12" >MAPK signaling pathway</text>
<circle cx="172.30" cy="581.48" r="3.00" fill="#a8773e" />
<line x1="155.60" y1="592.62" x2="158.20" y2="592.62" stroke="#333" stroke-width="0.6" />
<text x="154.00" y="594.72" font-size="6.0" text-anchor="end" font-weight="normal" fill="#222" stroke="#222" stroke-width="0.12" >Starch and sucrose metabolism</text>
<circle cx="201.40" cy="592.62" r="1.00" fill="#a06a30" />
<line x1="155.60" y1="603.76" x2="158.20" y2="603.76" stroke="#333" stroke-width="0.6" />
<text x="154.00" y="605.86" font-size="6.0" text-anchor="end" font-weight="normal" fill="#222" stroke="#222" stroke-width="0.12" >Folate biosynthesis</text>
<circle cx="198.00" cy="603.76" r="1.00" fill="#a06a30" />
<line x1="155.60" y1="614.90" x2="158.20" y2="614.90" stroke="#333" stroke-width="0.6" />
<text x="154.00" y="617.00" font-size="6.0" text-anchor="end" font-weight="normal" fill="#222" stroke="#222" stroke-width="0.12" >Galactose metabolism</text>
<circle cx="195.00" cy="614.90" r="1.00" fill="#a06a30" />
<line x1="155.60" y1="626.04" x2="158.20" y2="626.04" stroke="#333" stroke-width="0.6" />
<text x="154.00" y="628.14" font-size="6.0" text-anchor="end" font-weight="normal" fill="#222" stroke="#222" stroke-width="0.12" >Steroid hormone biosynthesis</text>
<circle cx="193.60" cy="626.04" r="1.00" fill="#a06a30" />
<line x1="155.60" y1="637.18" x2="158.20" y2="637.18" stroke="#333" stroke-width="0.6" />
<text x="154.00" y="639.28" font-size="6.0" text-anchor="end" font-weight="normal" fill="#222" stroke="#222" stroke-width="0.12" >Herpes simplex infection</text>
<circle cx="174.70" cy="637.18" r="2.00" fill="#a46e38" />
<line x1="155.60" y1="648.32" x2="158.20" y2="648.32" stroke="#333" stroke-width="0.6" />
<text x="154.00" y="650.42" font-size="6.0" text-anchor="end" font-weight="normal" fill="#222" stroke="#222" stroke-width="0.12" >Intestinal immune network for IgA production</text>
<circle cx="192.40" cy="648.32" r="1.00" fill="#a06a30" />
<line x1="155.60" y1="659.46" x2="158.20" y2="659.46" stroke="#333" stroke-width="0.6" />
<text x="154.00" y="661.56" font-size="6.0" text-anchor="end" font-weight="normal" fill="#222" stroke="#222" stroke-width="0.12" >Tryptophan metabolism</text>
<circle cx="189.10" cy="659.46" r="1.00" fill="#a06a30" />
<line x1="155.60" y1="670.60" x2="158.20" y2="670.60" stroke="#333" stroke-width="0.6" />
<text x="154.00" y="672.70" font-size="6.0" text-anchor="end" font-weight="normal" fill="#222" stroke="#222" stroke-width="0.12" >ABC transporters</text>
<circle cx="189.10" cy="670.60" r="1.00" fill="#a06a30" />
<line x1="155.60" y1="681.74" x2="158.20" y2="681.74" stroke="#333" stroke-width="0.6" />
<text x="154.00" y="683.84" font-size="6.0" text-anchor="end" font-weight="normal" fill="#222" stroke="#222" stroke-width="0.12" >Glutathione metabolism</text>
<circle cx="185.80" cy="681.74" r="1.00" fill="#a06a30" />
<line x1="155.60" y1="692.88" x2="158.20" y2="692.88" stroke="#333" stroke-width="0.6" />
<text x="154.00" y="694.98" font-size="6.0" text-anchor="end" font-weight="normal" fill="#222" stroke="#222" stroke-width="0.12" >Calcium signaling pathway</text>
<circle cx="172.00" cy="692.88" r="2.00" fill="#aa7a44" />
<line x1="155.60" y1="704.02" x2="158.20" y2="704.02" stroke="#333" stroke-width="0.6" />
<text x="154.00" y="706.12" font-size="6.0" text-anchor="end" font-weight="normal" fill="#222" stroke="#222" stroke-width="0.12" >Cardiac muscle contraction</text>
<circle cx="179.70" cy="704.02" r="1.00" fill="#a06a30" />
<line x1="155.60" y1="715.16" x2="158.20" y2="715.16" stroke="#333" stroke-width="0.6" />
<text x="154.00" y="717.26" font-size="6.0" text-anchor="end" font-weight="normal" fill="#222" stroke="#222" stroke-width="0.12" >PPAR signaling pathway</text>
<circle cx="178.90" cy="715.16" r="1.00" fill="#a06a30" />
<line x1="158.70" y1="722.20" x2="158.70" y2="725.40" stroke="#333" stroke-width="0.6" />
<text x="158.70" y="731.20" font-size="6.1" text-anchor="middle" font-weight="normal" fill="#222" stroke="#222" stroke-width="0.12" >0.00</text>
<line x1="178.50" y1="722.20" x2="178.50" y2="725.40" stroke="#333" stroke-width="0.6" />
<text x="178.50" y="731.20" font-size="6.1" text-anchor="middle" font-weight="normal" fill="#222" stroke="#222" stroke-width="0.12" >0.02</text>
<line x1="198.30" y1="722.20" x2="198.30" y2="725.40" stroke="#333" stroke-width="0.6" />
<text x="198.30" y="731.20" font-size="6.1" text-anchor="middle" font-weight="normal" fill="#222" stroke="#222" stroke-width="0.12" >0.04</text>
<line x1="218.10" y1="722.20" x2="218.10" y2="725.40" stroke="#333" stroke-width="0.6" />
<text x="218.10" y="731.20" font-size="6.1" text-anchor="middle" font-weight="normal" fill="#222" stroke="#222" stroke-width="0.12" >0.06</text>
<line x1="237.90" y1="722.20" x2="237.90" y2="725.40" stroke="#333" stroke-width="0.6" />
<text x="237.90" y="731.20" font-size="6.1" text-anchor="middle" font-weight="normal" fill="#222" stroke="#222" stroke-width="0.12" >0.08</text>
<text x="203.80" y="744.70" font-size="6.0" text-anchor="middle" font-weight="normal" fill="#222" stroke="#222" stroke-width="0.12" >Rich factor</text>
<text x="0.00" y="0.00" font-size="5.7" text-anchor="middle" font-weight="normal" fill="#222" stroke="#222" stroke-width="0.12" transform="translate(25.2,612) rotate(-90)">KEGG Pathway</text>
<text x="264.20" y="506.30" font-size="7.6" text-anchor="start" font-weight="normal" fill="#222" stroke="#222" stroke-width="0.12" >Pvalue</text>
<defs><linearGradient id="kg" x1="0" y1="0" x2="0" y2="1"><stop offset="0" stop-color="#01665e"/><stop offset="0.5" stop-color="#f5f0e8"/><stop offset="1" stop-color="#8c510a"/></linearGradient></defs>
<rect x="264.50" y="511.30" width="4.70" height="50.40" fill="url(#kg)" />
<text x="271.90" y="516.60" font-size="6.0" text-anchor="start" font-weight="normal" fill="#222" stroke="#222" stroke-width="0.12" >1</text>
<text x="271.90" y="539.70" font-size="6.0" text-anchor="start" font-weight="normal" fill="#222" stroke="#222" stroke-width="0.12" >0.5</text>
<text x="271.90" y="562.00" font-size="6.0" text-anchor="start" font-weight="normal" fill="#222" stroke="#222" stroke-width="0.12" >0</text>
<text x="264.20" y="601.90" font-size="7.7" text-anchor="start" font-weight="normal" fill="#222" stroke="#222" stroke-width="0.12" >Number</text>
<circle cx="266.70" cy="608.20" r="2.00" fill="#111" />
<text x="273.80" y="610.40" font-size="6.0" text-anchor="start" font-weight="normal" fill="#222" stroke="#222" stroke-width="0.12" >1.3</text>
<circle cx="266.70" cy="618.00" r="2.70" fill="#111" />
<text x="273.80" y="620.20" font-size="6.0" text-anchor="start" font-weight="normal" fill="#222" stroke="#222" stroke-width="0.12" >2.7</text>
<circle cx="266.70" cy="629.20" r="3.80" fill="#111" />
<text x="273.80" y="631.40" font-size="6.0" text-anchor="start" font-weight="normal" fill="#222" stroke="#222" stroke-width="0.12" >4.0</text>
<text x="312.70" y="496.60" font-size="12.8" text-anchor="start" font-weight="bold" fill="#111" stroke="#111" stroke-width="0" >F</text>
<rect x="340.20" y="556.10" width="4.80" height="25.40" fill="#8a8a8a" />
<rect x="345.10" y="537.05" width="4.80" height="44.45" fill="#ad0c0c" />
<line x1="347.50" y1="537.05" x2="347.50" y2="530.70" stroke="#ad0c0c" stroke-width="0.6" />
<line x1="346.30" y1="530.70" x2="348.70" y2="530.70" stroke="#ad0c0c" stroke-width="0.6" />
<rect x="354.45" y="556.10" width="4.80" height="25.40" fill="#8a8a8a" />
<rect x="359.35" y="562.70" width="4.80" height="18.80" fill="#ad0c0c" />
<line x1="361.75" y1="562.70" x2="361.75" y2="557.37" stroke="#ad0c0c" stroke-width="0.6" />
<line x1="360.55" y1="557.37" x2="362.95" y2="557.37" stroke="#ad0c0c" stroke-width="0.6" />
<rect x="368.70" y="556.10" width="4.80" height="25.40" fill="#8a8a8a" />
<rect x="373.60" y="580.23" width="4.80" height="1.27" fill="#ad0c0c" />
<line x1="376.00" y1="580.23" x2="376.00" y2="579.21" stroke="#ad0c0c" stroke-width="0.6" />
<line x1="374.80" y1="579.21" x2="377.20" y2="579.21" stroke="#ad0c0c" stroke-width="0.6" />
<rect x="382.95" y="556.10" width="4.80" height="25.40" fill="#8a8a8a" />
<rect x="387.85" y="546.96" width="4.80" height="34.54" fill="#ad0c0c" />
<line x1="390.25" y1="546.96" x2="390.25" y2="541.37" stroke="#ad0c0c" stroke-width="0.6" />
<line x1="389.05" y1="541.37" x2="391.45" y2="541.37" stroke="#ad0c0c" stroke-width="0.6" />
<rect x="397.20" y="556.10" width="4.80" height="25.40" fill="#8a8a8a" />
<rect x="402.10" y="571.34" width="4.80" height="10.16" fill="#ad0c0c" />
<line x1="404.50" y1="571.34" x2="404.50" y2="567.28" stroke="#ad0c0c" stroke-width="0.6" />
<line x1="403.30" y1="567.28" x2="405.70" y2="567.28" stroke="#ad0c0c" stroke-width="0.6" />
<rect x="411.45" y="556.10" width="4.80" height="25.40" fill="#8a8a8a" />
<rect x="416.35" y="564.99" width="4.80" height="16.51" fill="#ad0c0c" />
<line x1="418.75" y1="564.99" x2="418.75" y2="561.94" stroke="#ad0c0c" stroke-width="0.6" />
<line x1="417.55" y1="561.94" x2="419.95" y2="561.94" stroke="#ad0c0c" stroke-width="0.6" />
<rect x="425.70" y="556.10" width="4.80" height="25.40" fill="#8a8a8a" />
<rect x="430.60" y="520.54" width="4.80" height="60.96" fill="#ad0c0c" />
<line x1="433.00" y1="520.54" x2="433.00" y2="509.11" stroke="#ad0c0c" stroke-width="0.6" />
<line x1="431.80" y1="509.11" x2="434.20" y2="509.11" stroke="#ad0c0c" stroke-width="0.6" />
<rect x="439.95" y="556.10" width="4.80" height="25.40" fill="#8a8a8a" />
<rect x="444.85" y="530.45" width="4.80" height="51.05" fill="#ad0c0c" />
<line x1="447.25" y1="530.45" x2="447.25" y2="525.62" stroke="#ad0c0c" stroke-width="0.6" />
<line x1="446.05" y1="525.62" x2="448.45" y2="525.62" stroke="#ad0c0c" stroke-width="0.6" />
<line x1="341.35" y1="527.30" x2="348.75" y2="527.30" stroke="#808080" stroke-width="0.8" />
<circle cx="345.05" cy="522.60" r="0.85" fill="#222" />
<line x1="355.60" y1="551.30" x2="363.00" y2="551.30" stroke="#808080" stroke-width="0.8" />
<circle cx="359.30" cy="547.00" r="0.85" fill="#222" />
<line x1="369.85" y1="550.60" x2="377.25" y2="550.60" stroke="#808080" stroke-width="0.8" />
<circle cx="373.55" cy="547.40" r="0.85" fill="#222" />
<line x1="384.10" y1="536.20" x2="391.50" y2="536.20" stroke="#808080" stroke-width="0.8" />
<circle cx="387.80" cy="532.40" r="0.85" fill="#222" />
<line x1="398.35" y1="549.90" x2="405.75" y2="549.90" stroke="#808080" stroke-width="0.8" />
<circle cx="402.05" cy="545.50" r="0.85" fill="#222" />
<line x1="412.60" y1="550.40" x2="420.00" y2="550.40" stroke="#808080" stroke-width="0.8" />
<circle cx="416.30" cy="546.00" r="0.85" fill="#222" />
<line x1="426.85" y1="505.30" x2="434.25" y2="505.30" stroke="#808080" stroke-width="0.8" />
<circle cx="430.55" cy="502.50" r="0.85" fill="#222" />
<line x1="441.10" y1="521.90" x2="448.50" y2="521.90" stroke="#808080" stroke-width="0.8" />
<circle cx="444.80" cy="518.70" r="0.85" fill="#222" />
<line x1="337.20" y1="505.30" x2="337.20" y2="581.50" stroke="#333" stroke-width="0.9" />
<line x1="337.20" y1="581.50" x2="452.50" y2="581.50" stroke="#333" stroke-width="0.9" />
<line x1="344.60" y1="581.50" x2="344.60" y2="583.30" stroke="#333" stroke-width="0.7" />
<line x1="358.85" y1="581.50" x2="358.85" y2="583.30" stroke="#333" stroke-width="0.7" />
<line x1="373.10" y1="581.50" x2="373.10" y2="583.30" stroke="#333" stroke-width="0.7" />
<line x1="387.35" y1="581.50" x2="387.35" y2="583.30" stroke="#333" stroke-width="0.7" />
<line x1="401.60" y1="581.50" x2="401.60" y2="583.30" stroke="#333" stroke-width="0.7" />
<line x1="415.85" y1="581.50" x2="415.85" y2="583.30" stroke="#333" stroke-width="0.7" />
<line x1="430.10" y1="581.50" x2="430.10" y2="583.30" stroke="#333" stroke-width="0.7" />
<line x1="444.35" y1="581.50" x2="444.35" y2="583.30" stroke="#333" stroke-width="0.7" />
<line x1="335.40" y1="581.50" x2="337.20" y2="581.50" stroke="#333" stroke-width="0.8" />
<text x="335.10" y="583.40" font-size="5.3" text-anchor="end" font-weight="bold" fill="#222" stroke="#222" stroke-width="0.2" >0</text>
<line x1="335.40" y1="556.10" x2="337.20" y2="556.10" stroke="#333" stroke-width="0.8" />
<text x="335.10" y="558.00" font-size="5.3" text-anchor="end" font-weight="bold" fill="#222" stroke="#222" stroke-width="0.2" >1</text>
<line x1="335.40" y1="530.70" x2="337.20" y2="530.70" stroke="#333" stroke-width="0.8" />
<text x="335.10" y="532.60" font-size="5.3" text-anchor="end" font-weight="bold" fill="#222" stroke="#222" stroke-width="0.2" >2</text>
<line x1="335.40" y1="505.30" x2="337.20" y2="505.30" stroke="#333" stroke-width="0.8" />
<text x="335.10" y="507.20" font-size="5.3" text-anchor="end" font-weight="bold" fill="#222" stroke="#222" stroke-width="0.2" >3</text>
<text x="0.00" y="0.00" font-size="5.6" text-anchor="end" font-weight="bold" fill="#222" stroke="#222" stroke-width="0.2" transform="translate(346.60,588.6) rotate(-45)">CD36</text>
<text x="0.00" y="0.00" font-size="5.6" text-anchor="end" font-weight="bold" fill="#222" stroke="#222" stroke-width="0.2" transform="translate(360.85,588.6) rotate(-45)">EGFR</text>
<text x="0.00" y="0.00" font-size="5.6" text-anchor="end" font-weight="bold" fill="#222" stroke="#222" stroke-width="0.2" transform="translate(375.10,588.6) rotate(-45)">NR4A1</text>
<text x="0.00" y="0.00" font-size="5.6" text-anchor="end" font-weight="bold" fill="#222" stroke="#222" stroke-width="0.2" transform="translate(389.35,588.6) rotate(-45)">CACNA1C</text>
<text x="0.00" y="0.00" font-size="5.6" text-anchor="end" font-weight="bold" fill="#222" stroke="#222" stroke-width="0.2" transform="translate(403.60,588.6) rotate(-45)">AKR1D1</text>
<text x="0.00" y="0.00" font-size="5.6" text-anchor="end" font-weight="bold" fill="#222" stroke="#222" stroke-width="0.2" transform="translate(417.85,588.6) rotate(-45)">TNFSF10</text>
<text x="0.00" y="0.00" font-size="5.6" text-anchor="end" font-weight="bold" fill="#222" stroke="#222" stroke-width="0.2" transform="translate(432.10,588.6) rotate(-45)">TPH2</text>
<text x="0.00" y="0.00" font-size="5.6" text-anchor="end" font-weight="bold" fill="#222" stroke="#222" stroke-width="0.2" transform="translate(446.35,588.6) rotate(-45)">SESN1</text>
<text x="0.00" y="0.00" font-size="6.0" text-anchor="middle" font-weight="bold" fill="#222" stroke="#222" stroke-width="0.2" transform="translate(328.6,542.4) rotate(-90)">Relative mRNA levels</text>
<rect x="469.10" y="508.50" width="8.40" height="3.80" fill="#8a8a8a" />
<text x="481.60" y="512.50" font-size="6.0" text-anchor="start" font-weight="normal" fill="#222" stroke="#222" stroke-width="0.12" >C</text>
<rect x="469.10" y="518.70" width="8.40" height="3.80" fill="#ad0c0c" />
<text x="481.60" y="522.50" font-size="6.0" text-anchor="start" font-weight="normal" fill="#222" stroke="#222" stroke-width="0.12" >T</text>
<text x="312.40" y="632.10" font-size="12.8" text-anchor="start" font-weight="bold" fill="#111" stroke="#111" stroke-width="0" >G</text>
<rect x="343.00" y="655.79" width="4.30" height="16.71" fill="#8a8a8a" />
<rect x="347.35" y="659.65" width="4.50" height="12.85" fill="#ad0c0c" />
<rect x="356.30" y="672.50" width="4.30" height="19.28" fill="#8a8a8a" />
<rect x="360.65" y="672.50" width="4.50" height="14.28" fill="#ad0c0c" />
<rect x="370.00" y="672.50" width="4.30" height="18.99" fill="#8a8a8a" />
<rect x="374.35" y="672.50" width="4.50" height="16.42" fill="#ad0c0c" />
<rect x="383.50" y="656.51" width="4.30" height="15.99" fill="#8a8a8a" />
<rect x="387.85" y="662.79" width="4.50" height="9.71" fill="#ad0c0c" />
<rect x="397.20" y="672.50" width="4.30" height="28.27" fill="#8a8a8a" />
<rect x="401.55" y="672.50" width="4.50" height="25.42" fill="#ad0c0c" />
<rect x="410.40" y="672.50" width="4.30" height="17.85" fill="#8a8a8a" />
<rect x="414.75" y="672.50" width="4.50" height="11.42" fill="#ad0c0c" />
<rect x="424.00" y="660.79" width="4.30" height="11.71" fill="#8a8a8a" />
<rect x="428.35" y="659.08" width="4.50" height="13.42" fill="#ad0c0c" />
<rect x="437.30" y="657.93" width="4.30" height="14.57" fill="#8a8a8a" />
<rect x="441.65" y="657.08" width="4.50" height="15.42" fill="#ad0c0c" />
<line x1="340.60" y1="672.50" x2="448.00" y2="672.50" stroke="#333" stroke-width="0.9" />
<line x1="340.60" y1="643.94" x2="340.60" y2="715.34" stroke="#333" stroke-width="0.9" />
<line x1="340.60" y1="715.34" x2="448.00" y2="715.34" stroke="#333" stroke-width="0.9" />
<line x1="347.30" y1="715.34" x2="347.30" y2="717.14" stroke="#333" stroke-width="0.7" />
<line x1="360.60" y1="715.34" x2="360.60" y2="717.14" stroke="#333" stroke-width="0.7" />
<line x1="374.30" y1="715.34" x2="374.30" y2="717.14" stroke="#333" stroke-width="0.7" />
<line x1="387.80" y1="715.34" x2="387.80" y2="717.14" stroke="#333" stroke-width="0.7" />
<line x1="401.50" y1="715.34" x2="401.50" y2="717.14" stroke="#333" stroke-width="0.7" />
<line x1="414.70" y1="715.34" x2="414.70" y2="717.14" stroke="#333" stroke-width="0.7" />
<line x1="428.30" y1="715.34" x2="428.30" y2="717.14" stroke="#333" stroke-width="0.7" />
<line x1="441.60" y1="715.34" x2="441.60" y2="717.14" stroke="#333" stroke-width="0.7" />
<line x1="338.80" y1="643.94" x2="340.60" y2="643.94" stroke="#333" stroke-width="0.8" />
<text x="338.60" y="645.84" font-size="5.3" text-anchor="end" font-weight="bold" fill="#222" stroke="#222" stroke-width="0.2" >2</text>
<line x1="338.80" y1="658.22" x2="340.60" y2="658.22" stroke="#333" stroke-width="0.8" />
<text x="338.60" y="660.12" font-size="5.3" text-anchor="end" font-weight="bold" fill="#222" stroke="#222" stroke-width="0.2" >1</text>
<line x1="338.80" y1="672.50" x2="340.60" y2="672.50" stroke="#333" stroke-width="0.8" />
<text x="338.60" y="674.40" font-size="5.3" text-anchor="end" font-weight="bold" fill="#222" stroke="#222" stroke-width="0.2" >0</text>
<line x1="338.80" y1="686.78" x2="340.60" y2="686.78" stroke="#333" stroke-width="0.8" />
<text x="338.60" y="688.68" font-size="5.3" text-anchor="end" font-weight="bold" fill="#222" stroke="#222" stroke-width="0.2" >-1</text>
<line x1="338.80" y1="701.06" x2="340.60" y2="701.06" stroke="#333" stroke-width="0.8" />
<text x="338.60" y="702.96" font-size="5.3" text-anchor="end" font-weight="bold" fill="#222" stroke="#222" stroke-width="0.2" >-2</text>
<line x1="338.80" y1="715.34" x2="340.60" y2="715.34" stroke="#333" stroke-width="0.8" />
<text x="338.60" y="717.24" font-size="5.3" text-anchor="end" font-weight="bold" fill="#222" stroke="#222" stroke-width="0.2" >-3</text>
<text x="0.00" y="0.00" font-size="5.6" text-anchor="end" font-weight="bold" fill="#222" stroke="#222" stroke-width="0.2" transform="translate(348.90,724.3) rotate(-45)">CD36</text>
<text x="0.00" y="0.00" font-size="5.6" text-anchor="end" font-weight="bold" fill="#222" stroke="#222" stroke-width="0.2" transform="translate(362.20,724.3) rotate(-45)">EGFR</text>
<text x="0.00" y="0.00" font-size="5.6" text-anchor="end" font-weight="bold" fill="#222" stroke="#222" stroke-width="0.2" transform="translate(375.90,724.3) rotate(-45)">NR4A1</text>
<text x="0.00" y="0.00" font-size="5.6" text-anchor="end" font-weight="bold" fill="#222" stroke="#222" stroke-width="0.2" transform="translate(389.40,724.3) rotate(-45)">CACNA1C</text>
<text x="0.00" y="0.00" font-size="5.6" text-anchor="end" font-weight="bold" fill="#222" stroke="#222" stroke-width="0.2" transform="translate(403.10,724.3) rotate(-45)">AKR1D1</text>
<text x="0.00" y="0.00" font-size="5.6" text-anchor="end" font-weight="bold" fill="#222" stroke="#222" stroke-width="0.2" transform="translate(416.30,724.3) rotate(-45)">TNFSF10</text>
<text x="0.00" y="0.00" font-size="5.6" text-anchor="end" font-weight="bold" fill="#222" stroke="#222" stroke-width="0.2" transform="translate(429.90,724.3) rotate(-45)">TPH2</text>
<text x="0.00" y="0.00" font-size="5.6" text-anchor="end" font-weight="bold" fill="#222" stroke="#222" stroke-width="0.2" transform="translate(443.20,724.3) rotate(-45)">SESN1</text>
<text font-size="6.0" font-weight="bold" fill="#222" stroke="#222" stroke-width="0.2" text-anchor="middle" transform="translate(329.2,679.8) rotate(-90)">Relative Log<tspan font-size="4.0" dy="1.3">2</tspan><tspan dy="-1.3">(Fold change)</tspan></text>
<rect x="465.00" y="647.30" width="7.30" height="3.50" fill="#8a8a8a" />
<text x="476.50" y="650.70" font-size="5.8" text-anchor="start" font-weight="normal" fill="#222" stroke="#222" stroke-width="0.12" >RNA-seq</text>
<rect x="465.00" y="657.20" width="7.30" height="3.50" fill="#ad0c0c" />
<text x="476.50" y="660.70" font-size="5.8" text-anchor="start" font-weight="normal" fill="#222" stroke="#222" stroke-width="0.12" >RT-qPCR</text>
</svg></body></html>
